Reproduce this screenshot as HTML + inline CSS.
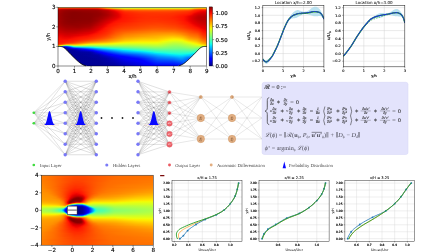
<!DOCTYPE html><html><head><meta charset="utf-8"><title>PINN turbulence figure</title><style>html,body{margin:0;padding:0;background:#fff;overflow:hidden}svg{display:block}</style></head><body><svg width="448" height="252" viewBox="0 0 448 252" text-rendering="geometricPrecision"><defs><linearGradient id="a0"><stop offset="0" stop-color="#ff9100"/><stop offset=".255" stop-color="#ff8d00"/><stop offset=".282" stop-color="#ff9800"/><stop offset=".329" stop-color="#ffea00"/><stop offset=".336" stop-color="#f8f500"/><stop offset=".342" stop-color="#ebff0c"/><stop offset=".383" stop-color="#aaff4d"/><stop offset=".396" stop-color="#9dff5a"/><stop offset=".436" stop-color="#97ff60"/><stop offset=".893" stop-color="#97ff60"/><stop offset=".906" stop-color="#9dff5a"/><stop offset=".919" stop-color="#adff49"/><stop offset=".94" stop-color="#e1ff16"/><stop offset=".953" stop-color="#f1fc06"/><stop offset="1" stop-color="#f4f802"/></linearGradient><linearGradient id="a1"><stop offset="0" stop-color="#f10800"/><stop offset=".02" stop-color="#e80000"/><stop offset=".087" stop-color="#da0000"/><stop offset=".235" stop-color="#df0000"/><stop offset=".268" stop-color="#e80000"/><stop offset=".289" stop-color="#ff1300"/><stop offset=".329" stop-color="#ff5900"/><stop offset=".376" stop-color="#ff9c00"/><stop offset=".43" stop-color="#ffd000"/><stop offset=".45" stop-color="#ffdb00"/><stop offset=".879" stop-color="#ffdb00"/><stop offset=".899" stop-color="#ffc800"/><stop offset=".919" stop-color="#ffa700"/><stop offset=".94" stop-color="#ff9100"/><stop offset=".953" stop-color="#ff8900"/><stop offset="1" stop-color="#ff8900"/></linearGradient><linearGradient id="a2"><stop offset="0" stop-color="#bb0000"/><stop offset=".034" stop-color="#a80000"/><stop offset=".081" stop-color="#9f0000"/><stop offset=".235" stop-color="#a40000"/><stop offset=".275" stop-color="#ad0000"/><stop offset=".342" stop-color="#e80000"/><stop offset=".362" stop-color="#ff1600"/><stop offset=".45" stop-color="#ff7300"/><stop offset=".611" stop-color="#ff7e00"/><stop offset=".872" stop-color="#ff7700"/><stop offset=".893" stop-color="#ff6800"/><stop offset=".919" stop-color="#ff3f00"/><stop offset=".933" stop-color="#ff3400"/><stop offset=".96" stop-color="#ff2900"/><stop offset="1" stop-color="#ff2500"/></linearGradient><linearGradient id="a3"><stop offset="0" stop-color="#b20000"/><stop offset=".02" stop-color="#a40000"/><stop offset=".067" stop-color="#960000"/><stop offset=".248" stop-color="#9b0000"/><stop offset=".275" stop-color="#9f0000"/><stop offset=".336" stop-color="#bf0000"/><stop offset=".376" stop-color="#e80000"/><stop offset=".396" stop-color="#ff1300"/><stop offset=".436" stop-color="#ff3800"/><stop offset=".456" stop-color="#ff4300"/><stop offset=".55" stop-color="#ff5200"/><stop offset=".631" stop-color="#ff5500"/><stop offset=".779" stop-color="#ff5200"/><stop offset=".879" stop-color="#ff4300"/><stop offset=".913" stop-color="#ff2500"/><stop offset=".946" stop-color="#ff1300"/><stop offset=".953" stop-color="#fa0f00"/><stop offset="1" stop-color="#f10800"/></linearGradient><linearGradient id="a4"><stop offset="0" stop-color="#ad0000"/><stop offset=".04" stop-color="#960000"/><stop offset=".101" stop-color="#8d0000"/><stop offset=".262" stop-color="#960000"/><stop offset=".336" stop-color="#b60000"/><stop offset=".389" stop-color="#e80000"/><stop offset=".416" stop-color="#ff1300"/><stop offset=".45" stop-color="#ff2d00"/><stop offset=".55" stop-color="#ff3f00"/><stop offset=".611" stop-color="#ff4300"/><stop offset=".732" stop-color="#ff4300"/><stop offset=".832" stop-color="#ff3800"/><stop offset=".886" stop-color="#ff2d00"/><stop offset=".926" stop-color="#ff1300"/><stop offset=".966" stop-color="#e80000"/><stop offset="1" stop-color="#e80000"/></linearGradient><linearGradient id="a5"><stop offset="0" stop-color="#a80000"/><stop offset=".047" stop-color="#920000"/><stop offset=".114" stop-color="#890000"/><stop offset=".275" stop-color="#960000"/><stop offset=".342" stop-color="#b60000"/><stop offset=".396" stop-color="#e40000"/><stop offset=".423" stop-color="#ff1300"/><stop offset=".45" stop-color="#ff2200"/><stop offset=".544" stop-color="#ff3400"/><stop offset=".758" stop-color="#ff3800"/><stop offset=".866" stop-color="#ff2900"/><stop offset=".906" stop-color="#ff1600"/><stop offset=".94" stop-color="#e80000"/><stop offset=".973" stop-color="#da0000"/><stop offset="1" stop-color="#da0000"/></linearGradient><linearGradient id="a6"><stop offset="0" stop-color="#a40000"/><stop offset=".04" stop-color="#920000"/><stop offset=".094" stop-color="#890000"/><stop offset=".221" stop-color="#8d0000"/><stop offset=".282" stop-color="#960000"/><stop offset=".322" stop-color="#a80000"/><stop offset=".403" stop-color="#e40000"/><stop offset=".43" stop-color="#ff1300"/><stop offset=".45" stop-color="#ff1e00"/><stop offset=".557" stop-color="#ff3000"/><stop offset=".698" stop-color="#ff3400"/><stop offset=".799" stop-color="#ff2d00"/><stop offset=".866" stop-color="#ff2200"/><stop offset=".899" stop-color="#ff1300"/><stop offset=".919" stop-color="#e80000"/><stop offset=".933" stop-color="#df0000"/><stop offset=".966" stop-color="#d10000"/><stop offset="1" stop-color="#d10000"/></linearGradient><linearGradient id="a7"><stop offset="0" stop-color="#a40000"/><stop offset=".04" stop-color="#920000"/><stop offset=".094" stop-color="#890000"/><stop offset=".221" stop-color="#8d0000"/><stop offset=".282" stop-color="#960000"/><stop offset=".336" stop-color="#ad0000"/><stop offset=".409" stop-color="#e80000"/><stop offset=".436" stop-color="#ff1300"/><stop offset=".483" stop-color="#ff2200"/><stop offset=".611" stop-color="#ff3000"/><stop offset=".772" stop-color="#ff2d00"/><stop offset=".886" stop-color="#ff1300"/><stop offset=".913" stop-color="#e40000"/><stop offset=".946" stop-color="#cd0000"/><stop offset="1" stop-color="#c40000"/></linearGradient><linearGradient id="a8"><stop offset="0" stop-color="#a40000"/><stop offset=".034" stop-color="#920000"/><stop offset=".094" stop-color="#890000"/><stop offset=".221" stop-color="#8d0000"/><stop offset=".275" stop-color="#960000"/><stop offset=".322" stop-color="#a80000"/><stop offset=".396" stop-color="#da0000"/><stop offset=".409" stop-color="#e80000"/><stop offset=".436" stop-color="#ff1300"/><stop offset=".537" stop-color="#ff2900"/><stop offset=".651" stop-color="#ff3000"/><stop offset=".772" stop-color="#ff2900"/><stop offset=".859" stop-color="#ff1300"/><stop offset=".899" stop-color="#e80000"/><stop offset=".946" stop-color="#c40000"/><stop offset="1" stop-color="#bf0000"/></linearGradient><linearGradient id="a9"><stop offset="0" stop-color="#a40000"/><stop offset=".054" stop-color="#8d0000"/><stop offset=".094" stop-color="#890000"/><stop offset=".221" stop-color="#8d0000"/><stop offset=".268" stop-color="#960000"/><stop offset=".329" stop-color="#b20000"/><stop offset=".409" stop-color="#e80000"/><stop offset=".436" stop-color="#ff1300"/><stop offset=".477" stop-color="#ff1e00"/><stop offset=".591" stop-color="#ff2d00"/><stop offset=".752" stop-color="#ff2900"/><stop offset=".846" stop-color="#ff1300"/><stop offset=".886" stop-color="#e80000"/><stop offset=".946" stop-color="#bf0000"/><stop offset="1" stop-color="#bb0000"/></linearGradient><linearGradient id="a10"><stop offset="0" stop-color="#a40000"/><stop offset=".04" stop-color="#920000"/><stop offset=".094" stop-color="#890000"/><stop offset=".221" stop-color="#8d0000"/><stop offset=".295" stop-color="#a40000"/><stop offset=".403" stop-color="#e80000"/><stop offset=".436" stop-color="#ff1300"/><stop offset=".591" stop-color="#ff2d00"/><stop offset=".745" stop-color="#ff2900"/><stop offset=".846" stop-color="#ff1300"/><stop offset=".886" stop-color="#e80000"/><stop offset=".933" stop-color="#c40000"/><stop offset=".953" stop-color="#bb0000"/><stop offset="1" stop-color="#b60000"/></linearGradient><linearGradient id="a11"><stop offset="0" stop-color="#a40000"/><stop offset=".04" stop-color="#920000"/><stop offset=".094" stop-color="#890000"/><stop offset=".221" stop-color="#8d0000"/><stop offset=".295" stop-color="#a80000"/><stop offset=".389" stop-color="#e80000"/><stop offset=".43" stop-color="#ff1300"/><stop offset=".544" stop-color="#ff2900"/><stop offset=".664" stop-color="#ff3000"/><stop offset=".799" stop-color="#ff2200"/><stop offset=".846" stop-color="#ff1300"/><stop offset=".886" stop-color="#e80000"/><stop offset=".926" stop-color="#c80000"/><stop offset=".946" stop-color="#bf0000"/><stop offset="1" stop-color="#bb0000"/></linearGradient><linearGradient id="a12"><stop offset="0" stop-color="#a40000"/><stop offset=".06" stop-color="#8d0000"/><stop offset=".215" stop-color="#8d0000"/><stop offset=".268" stop-color="#9f0000"/><stop offset=".376" stop-color="#e80000"/><stop offset=".423" stop-color="#ff1300"/><stop offset=".557" stop-color="#ff2d00"/><stop offset=".624" stop-color="#ff3000"/><stop offset=".772" stop-color="#ff2900"/><stop offset=".846" stop-color="#ff1300"/><stop offset=".886" stop-color="#e80000"/><stop offset=".94" stop-color="#c40000"/><stop offset=".966" stop-color="#bb0000"/><stop offset="1" stop-color="#bb0000"/></linearGradient><linearGradient id="a13"><stop offset="0" stop-color="#a80000"/><stop offset=".047" stop-color="#920000"/><stop offset=".107" stop-color="#890000"/><stop offset=".228" stop-color="#920000"/><stop offset=".262" stop-color="#9f0000"/><stop offset=".362" stop-color="#e80000"/><stop offset=".403" stop-color="#ff1300"/><stop offset=".544" stop-color="#ff2d00"/><stop offset=".651" stop-color="#ff3400"/><stop offset=".785" stop-color="#ff2900"/><stop offset=".852" stop-color="#ff1300"/><stop offset=".893" stop-color="#e80000"/><stop offset=".94" stop-color="#c80000"/><stop offset=".966" stop-color="#bf0000"/><stop offset="1" stop-color="#bf0000"/></linearGradient><linearGradient id="a14"><stop offset="0" stop-color="#a80000"/><stop offset=".034" stop-color="#960000"/><stop offset=".074" stop-color="#8d0000"/><stop offset=".221" stop-color="#920000"/><stop offset=".268" stop-color="#a80000"/><stop offset=".349" stop-color="#e80000"/><stop offset=".389" stop-color="#ff1300"/><stop offset=".591" stop-color="#ff3400"/><stop offset=".711" stop-color="#ff3400"/><stop offset=".779" stop-color="#ff2d00"/><stop offset=".826" stop-color="#ff2200"/><stop offset=".859" stop-color="#ff1300"/><stop offset=".899" stop-color="#e80000"/><stop offset=".94" stop-color="#cd0000"/><stop offset="1" stop-color="#bf0000"/></linearGradient><linearGradient id="a15"><stop offset="0" stop-color="#a80000"/><stop offset=".04" stop-color="#960000"/><stop offset=".094" stop-color="#8d0000"/><stop offset=".221" stop-color="#960000"/><stop offset=".255" stop-color="#a80000"/><stop offset=".342" stop-color="#e80000"/><stop offset=".376" stop-color="#ff1300"/><stop offset=".43" stop-color="#ff2200"/><stop offset=".55" stop-color="#ff3400"/><stop offset=".664" stop-color="#ff3b00"/><stop offset=".799" stop-color="#ff2d00"/><stop offset=".872" stop-color="#ff1300"/><stop offset=".906" stop-color="#e80000"/><stop offset=".953" stop-color="#cd0000"/><stop offset="1" stop-color="#c40000"/></linearGradient><linearGradient id="a16"><stop offset="0" stop-color="#a80000"/><stop offset=".047" stop-color="#960000"/><stop offset=".081" stop-color="#920000"/><stop offset=".201" stop-color="#960000"/><stop offset=".248" stop-color="#a80000"/><stop offset=".329" stop-color="#e80000"/><stop offset=".362" stop-color="#ff1300"/><stop offset=".403" stop-color="#ff2200"/><stop offset=".55" stop-color="#ff3800"/><stop offset=".678" stop-color="#ff3f00"/><stop offset=".785" stop-color="#ff3400"/><stop offset=".879" stop-color="#ff1300"/><stop offset=".913" stop-color="#e80000"/><stop offset=".96" stop-color="#d10000"/><stop offset="1" stop-color="#c80000"/></linearGradient><linearGradient id="a17"><stop offset="0" stop-color="#ad0000"/><stop offset=".04" stop-color="#9b0000"/><stop offset=".101" stop-color="#920000"/><stop offset=".221" stop-color="#9f0000"/><stop offset=".295" stop-color="#d10000"/><stop offset=".315" stop-color="#e40000"/><stop offset=".349" stop-color="#ff1300"/><stop offset=".443" stop-color="#ff2d00"/><stop offset=".591" stop-color="#ff3f00"/><stop offset=".685" stop-color="#ff4300"/><stop offset=".805" stop-color="#ff3400"/><stop offset=".893" stop-color="#ff1300"/><stop offset=".926" stop-color="#e80000"/><stop offset=".973" stop-color="#d10000"/><stop offset="1" stop-color="#cd0000"/></linearGradient><linearGradient id="a18"><stop offset="0" stop-color="#b20000"/><stop offset=".034" stop-color="#9f0000"/><stop offset=".128" stop-color="#960000"/><stop offset=".221" stop-color="#a40000"/><stop offset=".275" stop-color="#c80000"/><stop offset=".309" stop-color="#e80000"/><stop offset=".342" stop-color="#ff1300"/><stop offset=".416" stop-color="#ff2d00"/><stop offset=".624" stop-color="#ff4700"/><stop offset=".705" stop-color="#ff4700"/><stop offset=".779" stop-color="#ff3f00"/><stop offset=".846" stop-color="#ff2d00"/><stop offset=".899" stop-color="#ff1300"/><stop offset=".94" stop-color="#e80000"/><stop offset=".966" stop-color="#da0000"/><stop offset="1" stop-color="#d60000"/></linearGradient><linearGradient id="a19"><stop offset="0" stop-color="#b20000"/><stop offset=".054" stop-color="#9f0000"/><stop offset=".134" stop-color="#9b0000"/><stop offset=".215" stop-color="#a80000"/><stop offset=".302" stop-color="#e80000"/><stop offset=".336" stop-color="#ff1300"/><stop offset=".383" stop-color="#ff2900"/><stop offset=".45" stop-color="#ff3800"/><stop offset=".651" stop-color="#ff4e00"/><stop offset=".785" stop-color="#ff4300"/><stop offset=".839" stop-color="#ff3400"/><stop offset=".913" stop-color="#ff1300"/><stop offset=".953" stop-color="#e80000"/><stop offset="1" stop-color="#da0000"/></linearGradient><linearGradient id="a20"><stop offset="0" stop-color="#b60000"/><stop offset=".054" stop-color="#a40000"/><stop offset=".134" stop-color="#9f0000"/><stop offset=".221" stop-color="#b20000"/><stop offset=".295" stop-color="#e80000"/><stop offset=".322" stop-color="#ff1300"/><stop offset=".369" stop-color="#ff2900"/><stop offset=".436" stop-color="#ff3b00"/><stop offset=".631" stop-color="#ff5200"/><stop offset=".711" stop-color="#ff5200"/><stop offset=".799" stop-color="#ff4700"/><stop offset=".933" stop-color="#ff1300"/><stop offset=".966" stop-color="#e80000"/><stop offset="1" stop-color="#df0000"/></linearGradient><linearGradient id="a21"><stop offset="0" stop-color="#bb0000"/><stop offset=".06" stop-color="#a80000"/><stop offset=".148" stop-color="#a80000"/><stop offset=".174" stop-color="#b20000"/><stop offset=".215" stop-color="#b60000"/><stop offset=".282" stop-color="#e80000"/><stop offset=".315" stop-color="#ff1300"/><stop offset=".383" stop-color="#ff3400"/><stop offset=".423" stop-color="#ff3f00"/><stop offset=".664" stop-color="#ff5d00"/><stop offset=".785" stop-color="#ff5200"/><stop offset=".839" stop-color="#ff4300"/><stop offset=".946" stop-color="#ff1300"/><stop offset=".98" stop-color="#e80000"/><stop offset="1" stop-color="#e40000"/></linearGradient><linearGradient id="a22"><stop offset="0" stop-color="#c40000"/><stop offset=".027" stop-color="#b60000"/><stop offset=".067" stop-color="#ad0000"/><stop offset=".128" stop-color="#ad0000"/><stop offset=".221" stop-color="#c40000"/><stop offset=".275" stop-color="#e80000"/><stop offset=".309" stop-color="#ff1300"/><stop offset=".396" stop-color="#ff3f00"/><stop offset=".423" stop-color="#ff4700"/><stop offset=".638" stop-color="#ff6400"/><stop offset=".785" stop-color="#ff5d00"/><stop offset=".846" stop-color="#ff4a00"/><stop offset=".94" stop-color="#ff2200"/><stop offset=".96" stop-color="#ff1300"/><stop offset=".987" stop-color="#ed0400"/><stop offset="1" stop-color="#ed0400"/></linearGradient><linearGradient id="a23"><stop offset="0" stop-color="#c80000"/><stop offset=".047" stop-color="#b60000"/><stop offset=".128" stop-color="#b60000"/><stop offset=".208" stop-color="#c80000"/><stop offset=".262" stop-color="#e80000"/><stop offset=".295" stop-color="#ff1300"/><stop offset=".389" stop-color="#ff4300"/><stop offset=".436" stop-color="#ff5200"/><stop offset=".644" stop-color="#ff6f00"/><stop offset=".779" stop-color="#ff6c00"/><stop offset=".839" stop-color="#ff5900"/><stop offset=".94" stop-color="#ff2d00"/><stop offset=".966" stop-color="#ff1600"/><stop offset=".973" stop-color="#fa0f00"/><stop offset="1" stop-color="#f10800"/></linearGradient><linearGradient id="a24"><stop offset="0" stop-color="#cd0000"/><stop offset=".06" stop-color="#bb0000"/><stop offset=".107" stop-color="#bb0000"/><stop offset=".208" stop-color="#d10000"/><stop offset=".248" stop-color="#e80000"/><stop offset=".282" stop-color="#ff1300"/><stop offset=".329" stop-color="#ff2500"/><stop offset=".383" stop-color="#ff4700"/><stop offset=".43" stop-color="#ff5900"/><stop offset=".523" stop-color="#ff6c00"/><stop offset=".638" stop-color="#ff7a00"/><stop offset=".792" stop-color="#ff7700"/><stop offset=".926" stop-color="#ff3f00"/><stop offset=".946" stop-color="#ff3400"/><stop offset=".973" stop-color="#ff1600"/><stop offset="1" stop-color="#fa0f00"/></linearGradient><linearGradient id="a25"><stop offset="0" stop-color="#d10000"/><stop offset=".047" stop-color="#c40000"/><stop offset=".114" stop-color="#c40000"/><stop offset=".235" stop-color="#e80000"/><stop offset=".275" stop-color="#ff1300"/><stop offset=".356" stop-color="#ff3b00"/><stop offset=".389" stop-color="#ff5200"/><stop offset=".443" stop-color="#ff6800"/><stop offset=".671" stop-color="#ff8900"/><stop offset=".772" stop-color="#ff8900"/><stop offset=".832" stop-color="#ff7700"/><stop offset=".893" stop-color="#ff5500"/><stop offset=".933" stop-color="#ff4700"/><stop offset=".946" stop-color="#ff3f00"/><stop offset=".98" stop-color="#ff1a00"/><stop offset="1" stop-color="#ff1600"/></linearGradient><linearGradient id="a26"><stop offset="0" stop-color="#da0000"/><stop offset=".067" stop-color="#c80000"/><stop offset=".074" stop-color="#cd0000"/><stop offset=".114" stop-color="#cd0000"/><stop offset=".215" stop-color="#e80000"/><stop offset=".255" stop-color="#ff1300"/><stop offset=".329" stop-color="#ff3000"/><stop offset=".396" stop-color="#ff5d00"/><stop offset=".463" stop-color="#ff7700"/><stop offset=".638" stop-color="#ff9100"/><stop offset=".765" stop-color="#ff9800"/><stop offset=".812" stop-color="#ff8d00"/><stop offset=".859" stop-color="#ff7700"/><stop offset=".886" stop-color="#ff6400"/><stop offset=".94" stop-color="#ff5200"/><stop offset=".973" stop-color="#ff2900"/><stop offset="1" stop-color="#ff1e00"/></linearGradient><linearGradient id="a27"><stop offset="0" stop-color="#e40000"/><stop offset=".054" stop-color="#d10000"/><stop offset=".074" stop-color="#d10000"/><stop offset=".195" stop-color="#ed0400"/><stop offset=".235" stop-color="#ff1300"/><stop offset=".322" stop-color="#ff3400"/><stop offset=".383" stop-color="#ff5d00"/><stop offset=".45" stop-color="#ff7e00"/><stop offset=".557" stop-color="#ff9100"/><stop offset=".725" stop-color="#ffa300"/><stop offset=".785" stop-color="#ffa300"/><stop offset=".819" stop-color="#ff9800"/><stop offset=".886" stop-color="#ff6f00"/><stop offset=".94" stop-color="#ff5d00"/><stop offset=".973" stop-color="#ff3000"/><stop offset="1" stop-color="#ff2500"/></linearGradient><linearGradient id="a28"><stop offset="0" stop-color="#e80000"/><stop offset=".02" stop-color="#e80000"/><stop offset=".047" stop-color="#da0000"/><stop offset=".081" stop-color="#da0000"/><stop offset=".141" stop-color="#e80000"/><stop offset=".208" stop-color="#fa0f00"/><stop offset=".215" stop-color="#ff1300"/><stop offset=".322" stop-color="#ff3b00"/><stop offset=".369" stop-color="#ff5d00"/><stop offset=".443" stop-color="#ff8600"/><stop offset=".564" stop-color="#ff9c00"/><stop offset=".745" stop-color="#ffb200"/><stop offset=".785" stop-color="#ffb200"/><stop offset=".826" stop-color="#ffa700"/><stop offset=".886" stop-color="#ff7a00"/><stop offset=".94" stop-color="#ff6800"/><stop offset=".98" stop-color="#ff3400"/><stop offset="1" stop-color="#ff3000"/></linearGradient><linearGradient id="a29"><stop offset="0" stop-color="#f10800"/><stop offset=".047" stop-color="#e40000"/><stop offset=".081" stop-color="#e40000"/><stop offset=".181" stop-color="#ff1300"/><stop offset=".208" stop-color="#ff1600"/><stop offset=".302" stop-color="#ff3b00"/><stop offset=".349" stop-color="#ff5500"/><stop offset=".376" stop-color="#ff6c00"/><stop offset=".45" stop-color="#ff9100"/><stop offset=".772" stop-color="#ffc400"/><stop offset=".826" stop-color="#ffb600"/><stop offset=".846" stop-color="#ffab00"/><stop offset=".893" stop-color="#ff8200"/><stop offset=".94" stop-color="#ff7300"/><stop offset=".98" stop-color="#ff3f00"/><stop offset="1" stop-color="#ff3800"/></linearGradient><linearGradient id="a30"><stop offset="0" stop-color="#f60b00"/><stop offset=".04" stop-color="#ed0400"/><stop offset=".081" stop-color="#ed0400"/><stop offset=".141" stop-color="#ff1300"/><stop offset=".188" stop-color="#ff1a00"/><stop offset=".282" stop-color="#ff3b00"/><stop offset=".356" stop-color="#ff6400"/><stop offset=".403" stop-color="#ff8600"/><stop offset=".45" stop-color="#ff9c00"/><stop offset=".557" stop-color="#ffb200"/><stop offset=".658" stop-color="#ffb900"/><stop offset=".765" stop-color="#ffd300"/><stop offset=".805" stop-color="#ffd000"/><stop offset=".839" stop-color="#ffc100"/><stop offset=".879" stop-color="#ff9800"/><stop offset=".94" stop-color="#ff7e00"/><stop offset=".98" stop-color="#ff4a00"/><stop offset="1" stop-color="#ff4300"/></linearGradient><linearGradient id="a31"><stop offset="0" stop-color="#fa0f00"/><stop offset=".047" stop-color="#f10800"/><stop offset=".081" stop-color="#f60b00"/><stop offset=".114" stop-color="#ff1300"/><stop offset=".195" stop-color="#ff2500"/><stop offset=".248" stop-color="#ff3800"/><stop offset=".315" stop-color="#ff5900"/><stop offset=".383" stop-color="#ff8600"/><stop offset=".456" stop-color="#ffab00"/><stop offset=".577" stop-color="#ffc100"/><stop offset=".658" stop-color="#ffc400"/><stop offset=".779" stop-color="#ffe600"/><stop offset=".819" stop-color="#ffde00"/><stop offset=".839" stop-color="#ffd300"/><stop offset=".886" stop-color="#ffa300"/><stop offset=".94" stop-color="#ff8d00"/><stop offset=".953" stop-color="#ff7e00"/><stop offset=".973" stop-color="#ff5d00"/><stop offset="1" stop-color="#ff4e00"/></linearGradient><linearGradient id="a32"><stop offset="0" stop-color="#fa0f00"/><stop offset=".067" stop-color="#fa0f00"/><stop offset=".074" stop-color="#ff1300"/><stop offset=".107" stop-color="#ff1600"/><stop offset=".195" stop-color="#ff3000"/><stop offset=".295" stop-color="#ff6000"/><stop offset=".376" stop-color="#ff9100"/><stop offset=".45" stop-color="#ffb600"/><stop offset=".557" stop-color="#ffcc00"/><stop offset=".671" stop-color="#ffd300"/><stop offset=".738" stop-color="#ffea00"/><stop offset=".772" stop-color="#f8f500"/><stop offset=".832" stop-color="#feed00"/><stop offset=".886" stop-color="#ffb600"/><stop offset=".94" stop-color="#ff9c00"/><stop offset=".987" stop-color="#ff6000"/><stop offset="1" stop-color="#ff5900"/></linearGradient><linearGradient id="a33"><stop offset="0" stop-color="#ff1300"/><stop offset=".067" stop-color="#ff1600"/><stop offset=".134" stop-color="#ff2900"/><stop offset=".322" stop-color="#ff8200"/><stop offset=".45" stop-color="#ffc800"/><stop offset=".55" stop-color="#ffdb00"/><stop offset=".664" stop-color="#ffde00"/><stop offset=".705" stop-color="#feed00"/><stop offset=".738" stop-color="#f4f802"/><stop offset=".752" stop-color="#eeff09"/><stop offset=".799" stop-color="#e7ff0f"/><stop offset=".839" stop-color="#f1fc06"/><stop offset=".852" stop-color="#feed00"/><stop offset=".886" stop-color="#ffcc00"/><stop offset=".933" stop-color="#ffb200"/><stop offset=".973" stop-color="#ff7e00"/><stop offset="1" stop-color="#ff6800"/></linearGradient><linearGradient id="a34"><stop offset="0" stop-color="#ff1600"/><stop offset=".034" stop-color="#ff1600"/><stop offset=".101" stop-color="#ff2900"/><stop offset=".255" stop-color="#ff8200"/><stop offset=".329" stop-color="#ff9f00"/><stop offset=".443" stop-color="#ffdb00"/><stop offset=".537" stop-color="#ffea00"/><stop offset=".671" stop-color="#feed00"/><stop offset=".691" stop-color="#f8f500"/><stop offset=".711" stop-color="#eeff09"/><stop offset=".765" stop-color="#dbff1c"/><stop offset=".792" stop-color="#d7ff1f"/><stop offset=".832" stop-color="#deff19"/><stop offset=".859" stop-color="#f1fc06"/><stop offset=".879" stop-color="#ffea00"/><stop offset=".933" stop-color="#ffc400"/><stop offset=".98" stop-color="#ff8900"/><stop offset="1" stop-color="#ff7a00"/></linearGradient><linearGradient id="a35"><stop offset="0" stop-color="#ff1a00"/><stop offset=".034" stop-color="#ff1e00"/><stop offset=".101" stop-color="#ff3b00"/><stop offset=".228" stop-color="#ff9c00"/><stop offset=".329" stop-color="#ffc100"/><stop offset=".423" stop-color="#feed00"/><stop offset=".477" stop-color="#f4f802"/><stop offset=".671" stop-color="#f1fc06"/><stop offset=".779" stop-color="#c7ff30"/><stop offset=".826" stop-color="#ceff29"/><stop offset=".879" stop-color="#ebff0c"/><stop offset=".906" stop-color="#feed00"/><stop offset=".94" stop-color="#ffd300"/><stop offset=".973" stop-color="#ffa300"/><stop offset="1" stop-color="#ff8900"/></linearGradient><linearGradient id="a36"><stop offset="0" stop-color="#ff2500"/><stop offset=".013" stop-color="#ff2500"/><stop offset=".034" stop-color="#ff3000"/><stop offset=".06" stop-color="#ff4a00"/><stop offset=".121" stop-color="#ff7300"/><stop offset=".174" stop-color="#ffa700"/><stop offset=".228" stop-color="#ffd000"/><stop offset=".336" stop-color="#feed00"/><stop offset=".369" stop-color="#f4f802"/><stop offset=".383" stop-color="#eeff09"/><stop offset=".443" stop-color="#e1ff16"/><stop offset=".503" stop-color="#deff19"/><stop offset=".664" stop-color="#e4ff13"/><stop offset=".779" stop-color="#b7ff40"/><stop offset=".826" stop-color="#beff39"/><stop offset=".913" stop-color="#eeff09"/><stop offset=".919" stop-color="#f4f802"/><stop offset=".933" stop-color="#feed00"/><stop offset=".973" stop-color="#ffb900"/><stop offset="1" stop-color="#ff9f00"/></linearGradient><linearGradient id="a37"><stop offset="0" stop-color="#ff3f00"/><stop offset=".027" stop-color="#ff5d00"/><stop offset=".054" stop-color="#ffab00"/><stop offset=".06" stop-color="#ffb600"/><stop offset=".114" stop-color="#ffb600"/><stop offset=".181" stop-color="#feed00"/><stop offset=".201" stop-color="#eeff09"/><stop offset=".235" stop-color="#deff19"/><stop offset=".322" stop-color="#dbff1c"/><stop offset=".436" stop-color="#c7ff30"/><stop offset=".55" stop-color="#c7ff30"/><stop offset=".671" stop-color="#d1ff26"/><stop offset=".758" stop-color="#adff49"/><stop offset=".799" stop-color="#aaff4d"/><stop offset=".832" stop-color="#b1ff46"/><stop offset=".886" stop-color="#caff2c"/><stop offset=".94" stop-color="#eeff09"/><stop offset=".946" stop-color="#f4f802"/><stop offset=".96" stop-color="#ffea00"/><stop offset=".966" stop-color="#ffde00"/><stop offset="1" stop-color="#ffbd00"/></linearGradient><linearGradient id="a38"><stop offset="0" stop-color="#ffab00"/><stop offset=".013" stop-color="#ffdb00"/><stop offset=".02" stop-color="#f4f802"/><stop offset=".027" stop-color="#d7ff1f"/><stop offset=".047" stop-color="#80ff77"/><stop offset=".054" stop-color="#6dff8a"/><stop offset=".06" stop-color="#66ff90"/><stop offset=".067" stop-color="#6dff8a"/><stop offset=".107" stop-color="#c1ff36"/><stop offset=".114" stop-color="#c7ff30"/><stop offset=".148" stop-color="#c1ff36"/><stop offset=".215" stop-color="#a7ff50"/><stop offset=".289" stop-color="#adff49"/><stop offset=".47" stop-color="#aaff4d"/><stop offset=".671" stop-color="#beff39"/><stop offset=".785" stop-color="#9aff5d"/><stop offset=".846" stop-color="#a7ff50"/><stop offset=".946" stop-color="#d7ff1f"/><stop offset=".98" stop-color="#eeff09"/><stop offset=".987" stop-color="#f4f802"/><stop offset="1" stop-color="#feed00"/></linearGradient><linearGradient id="a39"><stop offset="0" stop-color="#7aff7d"/><stop offset=".007" stop-color="#49ffad"/><stop offset=".013" stop-color="#06ecf1"/><stop offset=".02" stop-color="#0098ff"/><stop offset=".027" stop-color="#0054ff"/><stop offset=".034" stop-color="#002cff"/><stop offset=".04" stop-color="#0018ff"/><stop offset=".047" stop-color="#0014ff"/><stop offset=".06" stop-color="#002cff"/><stop offset=".074" stop-color="#006cff"/><stop offset=".094" stop-color="#00d8ff"/><stop offset=".101" stop-color="#13fce4"/><stop offset=".107" stop-color="#29ffce"/><stop offset=".114" stop-color="#39ffbe"/><stop offset=".134" stop-color="#46ffb1"/><stop offset=".221" stop-color="#56ffa0"/><stop offset=".282" stop-color="#70ff87"/><stop offset=".376" stop-color="#83ff73"/><stop offset=".564" stop-color="#97ff60"/><stop offset=".644" stop-color="#a7ff50"/><stop offset=".685" stop-color="#a7ff50"/><stop offset=".765" stop-color="#90ff66"/><stop offset=".812" stop-color="#90ff66"/><stop offset=".852" stop-color="#9aff5d"/><stop offset=".919" stop-color="#b7ff40"/><stop offset=".94" stop-color="#b7ff40"/><stop offset=".966" stop-color="#adff49"/><stop offset="1" stop-color="#c4ff33"/></linearGradient><linearGradient id="a40"><stop offset="0" stop-color="#50ffa7"/><stop offset=".007" stop-color="#13fce4"/><stop offset=".013" stop-color="#0098ff"/><stop offset=".02" stop-color="#0034ff"/><stop offset=".027" stop-color="#0000f6"/><stop offset=".034" stop-color="#0000bf"/><stop offset=".04" stop-color="#0000ad"/><stop offset=".047" stop-color="#0000ad"/><stop offset=".054" stop-color="#0000b6"/><stop offset=".067" stop-color="#0000df"/><stop offset=".074" stop-color="#0000ff"/><stop offset=".081" stop-color="#0008ff"/><stop offset=".107" stop-color="#0070ff"/><stop offset=".121" stop-color="#008cff"/><stop offset=".221" stop-color="#00dcfe"/><stop offset=".235" stop-color="#02e8f4"/><stop offset=".248" stop-color="#0ff8e7"/><stop offset=".262" stop-color="#19ffde"/><stop offset=".289" stop-color="#2cffca"/><stop offset=".383" stop-color="#56ffa0"/><stop offset=".47" stop-color="#6dff8a"/><stop offset=".651" stop-color="#90ff66"/><stop offset=".691" stop-color="#90ff66"/><stop offset=".765" stop-color="#83ff73"/><stop offset=".826" stop-color="#83ff73"/><stop offset=".899" stop-color="#9dff5a"/><stop offset=".926" stop-color="#9dff5a"/><stop offset=".96" stop-color="#8dff6a"/><stop offset=".973" stop-color="#8dff6a"/><stop offset="1" stop-color="#aaff4d"/></linearGradient><linearGradient id="a41"><stop offset="0" stop-color="#4dffaa"/><stop offset=".007" stop-color="#0ff8e7"/><stop offset=".013" stop-color="#0094ff"/><stop offset=".02" stop-color="#0030ff"/><stop offset=".027" stop-color="#0000ed"/><stop offset=".034" stop-color="#0000bb"/><stop offset=".04" stop-color="#0000a4"/><stop offset=".047" stop-color="#00009f"/><stop offset=".054" stop-color="#00009f"/><stop offset=".067" stop-color="#0000b2"/><stop offset=".107" stop-color="#0000ff"/><stop offset=".121" stop-color="#0000ff"/><stop offset=".302" stop-color="#00d8ff"/><stop offset=".322" stop-color="#02e8f4"/><stop offset=".356" stop-color="#16ffe1"/><stop offset=".443" stop-color="#40ffb7"/><stop offset=".658" stop-color="#7aff7d"/><stop offset=".839" stop-color="#77ff80"/><stop offset=".906" stop-color="#8aff6d"/><stop offset=".946" stop-color="#73ff83"/><stop offset="1" stop-color="#a7ff50"/></linearGradient><linearGradient id="a42"><stop offset="0" stop-color="#4dffaa"/><stop offset=".007" stop-color="#0ff8e7"/><stop offset=".013" stop-color="#0094ff"/><stop offset=".02" stop-color="#0030ff"/><stop offset=".027" stop-color="#0000ed"/><stop offset=".034" stop-color="#0000b6"/><stop offset=".04" stop-color="#00009f"/><stop offset=".06" stop-color="#00009b"/><stop offset=".087" stop-color="#0000a4"/><stop offset=".114" stop-color="#0000b6"/><stop offset=".168" stop-color="#0000fa"/><stop offset=".188" stop-color="#0000ff"/><stop offset=".228" stop-color="#0030ff"/><stop offset=".268" stop-color="#0070ff"/><stop offset=".289" stop-color="#0088ff"/><stop offset=".349" stop-color="#00c0ff"/><stop offset=".383" stop-color="#00d8ff"/><stop offset=".403" stop-color="#02e8f4"/><stop offset=".436" stop-color="#16ffe1"/><stop offset=".671" stop-color="#63ff94"/><stop offset=".846" stop-color="#66ff90"/><stop offset=".906" stop-color="#73ff83"/><stop offset=".94" stop-color="#5dff9a"/><stop offset=".953" stop-color="#70ff87"/><stop offset=".966" stop-color="#9dff5a"/><stop offset=".98" stop-color="#baff3c"/><stop offset="1" stop-color="#c7ff30"/></linearGradient><linearGradient id="a43"><stop offset="0" stop-color="#4dffaa"/><stop offset=".007" stop-color="#0cf4eb"/><stop offset=".013" stop-color="#008cff"/><stop offset=".02" stop-color="#0024ff"/><stop offset=".027" stop-color="#0000df"/><stop offset=".034" stop-color="#0000a8"/><stop offset=".04" stop-color="#000096"/><stop offset=".094" stop-color="#00009b"/><stop offset=".107" stop-color="#00009f"/><stop offset=".168" stop-color="#0000c8"/><stop offset=".208" stop-color="#0000e8"/><stop offset=".228" stop-color="#0000ff"/><stop offset=".235" stop-color="#0000ff"/><stop offset=".268" stop-color="#0034ff"/><stop offset=".309" stop-color="#0064ff"/><stop offset=".409" stop-color="#00c0ff"/><stop offset=".47" stop-color="#00e4f8"/><stop offset=".53" stop-color="#16ffe1"/><stop offset=".658" stop-color="#46ffb1"/><stop offset=".691" stop-color="#4dffaa"/><stop offset=".826" stop-color="#53ffa4"/><stop offset=".893" stop-color="#5dff9a"/><stop offset=".913" stop-color="#56ffa0"/><stop offset=".933" stop-color="#46ffb1"/><stop offset=".94" stop-color="#49ffad"/><stop offset=".946" stop-color="#60ff97"/><stop offset=".953" stop-color="#87ff70"/><stop offset=".966" stop-color="#ebff0c"/><stop offset=".973" stop-color="#ffde00"/><stop offset=".98" stop-color="#ffd000"/><stop offset="1" stop-color="#ffdb00"/></linearGradient><linearGradient id="a44"><stop offset="0" stop-color="#46ffb1"/><stop offset=".007" stop-color="#02e8f4"/><stop offset=".013" stop-color="#0078ff"/><stop offset=".02" stop-color="#000cff"/><stop offset=".027" stop-color="#0000c4"/><stop offset=".034" stop-color="#000096"/><stop offset=".04" stop-color="#000089"/><stop offset=".047" stop-color="#000089"/><stop offset=".067" stop-color="#000096"/><stop offset=".114" stop-color="#00009b"/><stop offset=".208" stop-color="#0000bb"/><stop offset=".221" stop-color="#0000c4"/><stop offset=".235" stop-color="#0000d6"/><stop offset=".248" stop-color="#0000f1"/><stop offset=".262" stop-color="#0000ff"/><stop offset=".329" stop-color="#004cff"/><stop offset=".43" stop-color="#00a8ff"/><stop offset=".47" stop-color="#00c0ff"/><stop offset=".537" stop-color="#00dcfe"/><stop offset=".557" stop-color="#00e4f8"/><stop offset=".611" stop-color="#16ffe1"/><stop offset=".671" stop-color="#30ffc7"/><stop offset=".772" stop-color="#43ffb4"/><stop offset=".879" stop-color="#46ffb1"/><stop offset=".933" stop-color="#33ffc4"/><stop offset=".94" stop-color="#43ffb4"/><stop offset=".946" stop-color="#70ff87"/><stop offset=".953" stop-color="#baff3c"/><stop offset=".96" stop-color="#ffd300"/><stop offset=".966" stop-color="#ff7700"/><stop offset=".973" stop-color="#ff3f00"/><stop offset=".98" stop-color="#ff3000"/><stop offset=".987" stop-color="#ff3800"/><stop offset="1" stop-color="#ff5900"/></linearGradient><linearGradient id="a45"><stop offset="0" stop-color="#40ffb7"/><stop offset=".007" stop-color="#00d4ff"/><stop offset=".013" stop-color="#0058ff"/><stop offset=".02" stop-color="#0000fa"/><stop offset=".027" stop-color="#0000ad"/><stop offset=".034" stop-color="#000089"/><stop offset=".04" stop-color="#000080"/><stop offset=".067" stop-color="#000096"/><stop offset=".215" stop-color="#0000a4"/><stop offset=".235" stop-color="#0000b6"/><stop offset=".282" stop-color="#0000ff"/><stop offset=".295" stop-color="#0000ff"/><stop offset=".336" stop-color="#002cff"/><stop offset=".443" stop-color="#008cff"/><stop offset=".557" stop-color="#00bcff"/><stop offset=".604" stop-color="#00d8ff"/><stop offset=".631" stop-color="#02e8f4"/><stop offset=".651" stop-color="#0ff8e7"/><stop offset=".671" stop-color="#16ffe1"/><stop offset=".772" stop-color="#30ffc7"/><stop offset=".812" stop-color="#33ffc4"/><stop offset=".872" stop-color="#30ffc7"/><stop offset=".919" stop-color="#19ffde"/><stop offset=".926" stop-color="#1cffdb"/><stop offset=".933" stop-color="#26ffd1"/><stop offset=".94" stop-color="#49ffad"/><stop offset=".946" stop-color="#97ff60"/><stop offset=".953" stop-color="#ffe200"/><stop offset=".96" stop-color="#ff5d00"/><stop offset=".966" stop-color="#e40000"/><stop offset=".973" stop-color="#ad0000"/><stop offset=".98" stop-color="#9b0000"/><stop offset=".987" stop-color="#9b0000"/><stop offset="1" stop-color="#ad0000"/></linearGradient><linearGradient id="a46"><stop offset="0" stop-color="#33ffc4"/><stop offset=".007" stop-color="#00b4ff"/><stop offset=".013" stop-color="#0030ff"/><stop offset=".02" stop-color="#0000d6"/><stop offset=".027" stop-color="#000096"/><stop offset=".034" stop-color="#000084"/><stop offset=".047" stop-color="#000080"/><stop offset=".074" stop-color="#000096"/><stop offset=".221" stop-color="#00009f"/><stop offset=".275" stop-color="#0000d1"/><stop offset=".309" stop-color="#0000fa"/><stop offset=".322" stop-color="#0000ff"/><stop offset=".43" stop-color="#005cff"/><stop offset=".477" stop-color="#0078ff"/><stop offset=".557" stop-color="#0098ff"/><stop offset=".651" stop-color="#00d8ff"/><stop offset=".691" stop-color="#02e8f4"/><stop offset=".752" stop-color="#16ffe1"/><stop offset=".799" stop-color="#1fffd7"/><stop offset=".846" stop-color="#1fffd7"/><stop offset=".879" stop-color="#16ffe1"/><stop offset=".893" stop-color="#0ff8e7"/><stop offset=".913" stop-color="#00e0fb"/><stop offset=".919" stop-color="#00e4f8"/><stop offset=".926" stop-color="#0cf4eb"/><stop offset=".933" stop-color="#23ffd4"/><stop offset=".94" stop-color="#5dff9a"/><stop offset=".946" stop-color="#c7ff30"/><stop offset=".953" stop-color="#ff9100"/><stop offset=".96" stop-color="#fa0f00"/><stop offset=".966" stop-color="#a40000"/><stop offset=".973" stop-color="#840000"/><stop offset="1" stop-color="#800000"/></linearGradient><linearGradient id="a47"><stop offset="0" stop-color="#23ffd4"/><stop offset=".007" stop-color="#008cff"/><stop offset=".013" stop-color="#0008ff"/><stop offset=".02" stop-color="#0000b6"/><stop offset=".027" stop-color="#000089"/><stop offset=".034" stop-color="#000080"/><stop offset=".047" stop-color="#000080"/><stop offset=".074" stop-color="#000096"/><stop offset=".215" stop-color="#00009b"/><stop offset=".275" stop-color="#0000b6"/><stop offset=".336" stop-color="#0000ff"/><stop offset=".356" stop-color="#0000ff"/><stop offset=".43" stop-color="#0038ff"/><stop offset=".55" stop-color="#0074ff"/><stop offset=".685" stop-color="#00ccff"/><stop offset=".725" stop-color="#00d8ff"/><stop offset=".752" stop-color="#00e4f8"/><stop offset=".819" stop-color="#0ff8e7"/><stop offset=".872" stop-color="#02e8f4"/><stop offset=".893" stop-color="#00d8ff"/><stop offset=".906" stop-color="#00ccff"/><stop offset=".913" stop-color="#00ccff"/><stop offset=".919" stop-color="#00d8ff"/><stop offset=".926" stop-color="#09f0ee"/><stop offset=".933" stop-color="#33ffc4"/><stop offset=".94" stop-color="#80ff77"/><stop offset=".946" stop-color="#feed00"/><stop offset=".953" stop-color="#ff4e00"/><stop offset=".96" stop-color="#c40000"/><stop offset=".966" stop-color="#8d0000"/><stop offset=".973" stop-color="#800000"/><stop offset="1" stop-color="#800000"/></linearGradient><linearGradient id="a48"><stop offset="0" stop-color="#0ff8e7"/><stop offset=".007" stop-color="#006cff"/><stop offset=".013" stop-color="#0000f6"/><stop offset=".02" stop-color="#0000a4"/><stop offset=".027" stop-color="#000084"/><stop offset=".034" stop-color="#000080"/><stop offset=".047" stop-color="#000080"/><stop offset=".074" stop-color="#000096"/><stop offset=".168" stop-color="#000096"/><stop offset=".174" stop-color="#00009b"/><stop offset=".228" stop-color="#00009b"/><stop offset=".268" stop-color="#0000a4"/><stop offset=".289" stop-color="#0000b2"/><stop offset=".356" stop-color="#0000f6"/><stop offset=".369" stop-color="#0000ff"/><stop offset=".389" stop-color="#0000ff"/><stop offset=".577" stop-color="#0068ff"/><stop offset=".678" stop-color="#00acff"/><stop offset=".792" stop-color="#00d8ff"/><stop offset=".839" stop-color="#00e0fb"/><stop offset=".852" stop-color="#00d4ff"/><stop offset=".906" stop-color="#00b8ff"/><stop offset=".913" stop-color="#00c4ff"/><stop offset=".919" stop-color="#00dcfe"/><stop offset=".926" stop-color="#19ffde"/><stop offset=".933" stop-color="#53ffa4"/><stop offset=".94" stop-color="#adff49"/><stop offset=".946" stop-color="#ffb600"/><stop offset=".953" stop-color="#ff2500"/><stop offset=".96" stop-color="#ad0000"/><stop offset=".966" stop-color="#890000"/><stop offset=".973" stop-color="#800000"/><stop offset="1" stop-color="#800000"/></linearGradient><linearGradient id="a49"><stop offset="0" stop-color="#00e4f8"/><stop offset=".007" stop-color="#0050ff"/><stop offset=".013" stop-color="#0000da"/><stop offset=".02" stop-color="#000096"/><stop offset=".027" stop-color="#000080"/><stop offset=".047" stop-color="#000080"/><stop offset=".074" stop-color="#000096"/><stop offset=".195" stop-color="#000096"/><stop offset=".201" stop-color="#00009b"/><stop offset=".268" stop-color="#00009f"/><stop offset=".322" stop-color="#0000bf"/><stop offset=".403" stop-color="#0000ff"/><stop offset=".436" stop-color="#0000ff"/><stop offset=".577" stop-color="#004cff"/><stop offset=".671" stop-color="#0090ff"/><stop offset=".758" stop-color="#00acff"/><stop offset=".819" stop-color="#00c8ff"/><stop offset=".846" stop-color="#00c0ff"/><stop offset=".886" stop-color="#0098ff"/><stop offset=".899" stop-color="#00a4ff"/><stop offset=".913" stop-color="#00ccff"/><stop offset=".919" stop-color="#0ff8e7"/><stop offset=".926" stop-color="#40ffb7"/><stop offset=".933" stop-color="#8aff6d"/><stop offset=".94" stop-color="#f1fc06"/><stop offset=".946" stop-color="#ff6f00"/><stop offset=".953" stop-color="#e40000"/><stop offset=".96" stop-color="#9b0000"/><stop offset=".966" stop-color="#840000"/><stop offset="1" stop-color="#800000"/></linearGradient><linearGradient id="a50"><stop offset="0" stop-color="#00d0ff"/><stop offset=".007" stop-color="#0034ff"/><stop offset=".013" stop-color="#0000c8"/><stop offset=".02" stop-color="#00008d"/><stop offset=".027" stop-color="#000080"/><stop offset=".047" stop-color="#000080"/><stop offset=".074" stop-color="#000096"/><stop offset=".221" stop-color="#000096"/><stop offset=".228" stop-color="#00009b"/><stop offset=".282" stop-color="#00009f"/><stop offset=".329" stop-color="#0000b6"/><stop offset=".423" stop-color="#0000fa"/><stop offset=".47" stop-color="#0000ff"/><stop offset=".537" stop-color="#001cff"/><stop offset=".678" stop-color="#007cff"/><stop offset=".779" stop-color="#0098ff"/><stop offset=".819" stop-color="#00b0ff"/><stop offset=".839" stop-color="#00acff"/><stop offset=".879" stop-color="#0078ff"/><stop offset=".886" stop-color="#0078ff"/><stop offset=".899" stop-color="#00a0ff"/><stop offset=".906" stop-color="#00c4ff"/><stop offset=".913" stop-color="#0cf4eb"/><stop offset=".919" stop-color="#40ffb7"/><stop offset=".926" stop-color="#80ff77"/><stop offset=".933" stop-color="#d7ff1f"/><stop offset=".94" stop-color="#ffa300"/><stop offset=".946" stop-color="#ff2900"/><stop offset=".953" stop-color="#b20000"/><stop offset=".96" stop-color="#890000"/><stop offset=".966" stop-color="#800000"/><stop offset="1" stop-color="#800000"/></linearGradient><linearGradient id="a51"><stop offset="0" stop-color="#00ccff"/><stop offset=".007" stop-color="#0030ff"/><stop offset=".013" stop-color="#0000c4"/><stop offset=".02" stop-color="#00008d"/><stop offset=".027" stop-color="#000080"/><stop offset=".047" stop-color="#000080"/><stop offset=".067" stop-color="#000092"/><stop offset=".081" stop-color="#000096"/><stop offset=".235" stop-color="#000096"/><stop offset=".322" stop-color="#0000a8"/><stop offset=".423" stop-color="#0000ed"/><stop offset=".45" stop-color="#0000fa"/><stop offset=".51" stop-color="#0000ff"/><stop offset=".537" stop-color="#0008ff"/><stop offset=".577" stop-color="#0020ff"/><stop offset=".671" stop-color="#0068ff"/><stop offset=".779" stop-color="#0080ff"/><stop offset=".826" stop-color="#009cff"/><stop offset=".839" stop-color="#0098ff"/><stop offset=".879" stop-color="#0068ff"/><stop offset=".886" stop-color="#0070ff"/><stop offset=".893" stop-color="#008cff"/><stop offset=".899" stop-color="#00bcff"/><stop offset=".906" stop-color="#0ff8e7"/><stop offset=".913" stop-color="#49ffad"/><stop offset=".919" stop-color="#90ff66"/><stop offset=".926" stop-color="#e1ff16"/><stop offset=".933" stop-color="#ffab00"/><stop offset=".94" stop-color="#ff4300"/><stop offset=".946" stop-color="#d60000"/><stop offset=".953" stop-color="#960000"/><stop offset=".96" stop-color="#840000"/><stop offset="1" stop-color="#800000"/></linearGradient><linearGradient id="a52"><stop offset="0" stop-color="#00ccff"/><stop offset=".007" stop-color="#0030ff"/><stop offset=".013" stop-color="#0000c4"/><stop offset=".02" stop-color="#00008d"/><stop offset=".027" stop-color="#000080"/><stop offset=".047" stop-color="#000080"/><stop offset=".067" stop-color="#000092"/><stop offset=".081" stop-color="#000096"/><stop offset=".248" stop-color="#000096"/><stop offset=".322" stop-color="#0000a4"/><stop offset=".463" stop-color="#0000f6"/><stop offset=".49" stop-color="#0000ff"/><stop offset=".55" stop-color="#0000ff"/><stop offset=".664" stop-color="#0054ff"/><stop offset=".772" stop-color="#0068ff"/><stop offset=".826" stop-color="#0088ff"/><stop offset=".839" stop-color="#0084ff"/><stop offset=".872" stop-color="#0060ff"/><stop offset=".879" stop-color="#0064ff"/><stop offset=".886" stop-color="#0074ff"/><stop offset=".893" stop-color="#00a4ff"/><stop offset=".899" stop-color="#0cf4eb"/><stop offset=".906" stop-color="#5aff9d"/><stop offset=".913" stop-color="#adff49"/><stop offset=".919" stop-color="#ffe600"/><stop offset=".926" stop-color="#ff7e00"/><stop offset=".933" stop-color="#ff2500"/><stop offset=".94" stop-color="#c80000"/><stop offset=".946" stop-color="#960000"/><stop offset=".953" stop-color="#840000"/><stop offset="1" stop-color="#800000"/></linearGradient><linearGradient id="a53"><stop offset="0" stop-color="#00ccff"/><stop offset=".007" stop-color="#0030ff"/><stop offset=".013" stop-color="#0000c4"/><stop offset=".02" stop-color="#00008d"/><stop offset=".027" stop-color="#000080"/><stop offset=".047" stop-color="#000080"/><stop offset=".067" stop-color="#000092"/><stop offset=".087" stop-color="#000096"/><stop offset=".268" stop-color="#000096"/><stop offset=".342" stop-color="#0000a8"/><stop offset=".389" stop-color="#0000bf"/><stop offset=".443" stop-color="#0000e3"/><stop offset=".47" stop-color="#0000ed"/><stop offset=".53" stop-color="#0000ff"/><stop offset=".57" stop-color="#0000ff"/><stop offset=".671" stop-color="#0048ff"/><stop offset=".772" stop-color="#0054ff"/><stop offset=".832" stop-color="#0074ff"/><stop offset=".872" stop-color="#0060ff"/><stop offset=".879" stop-color="#0068ff"/><stop offset=".886" stop-color="#0088ff"/><stop offset=".893" stop-color="#00d4ff"/><stop offset=".899" stop-color="#50ffa7"/><stop offset=".906" stop-color="#beff39"/><stop offset=".913" stop-color="#ffb900"/><stop offset=".919" stop-color="#ff4a00"/><stop offset=".926" stop-color="#df0000"/><stop offset=".933" stop-color="#a40000"/><stop offset=".94" stop-color="#890000"/><stop offset=".946" stop-color="#800000"/><stop offset="1" stop-color="#800000"/></linearGradient><linearGradient id="a54"><stop offset="0" stop-color="#00ccff"/><stop offset=".007" stop-color="#0030ff"/><stop offset=".013" stop-color="#0000c4"/><stop offset=".02" stop-color="#00008d"/><stop offset=".027" stop-color="#000080"/><stop offset=".047" stop-color="#000080"/><stop offset=".067" stop-color="#000092"/><stop offset=".094" stop-color="#000096"/><stop offset=".282" stop-color="#000096"/><stop offset=".376" stop-color="#0000b2"/><stop offset=".456" stop-color="#0000df"/><stop offset=".557" stop-color="#0000ff"/><stop offset=".584" stop-color="#0000ff"/><stop offset=".658" stop-color="#0034ff"/><stop offset=".685" stop-color="#003cff"/><stop offset=".772" stop-color="#0040ff"/><stop offset=".832" stop-color="#0060ff"/><stop offset=".866" stop-color="#0064ff"/><stop offset=".872" stop-color="#0068ff"/><stop offset=".879" stop-color="#0078ff"/><stop offset=".886" stop-color="#00acff"/><stop offset=".893" stop-color="#2cffca"/><stop offset=".899" stop-color="#adff49"/><stop offset=".906" stop-color="#ffae00"/><stop offset=".913" stop-color="#ff3000"/><stop offset=".919" stop-color="#bf0000"/><stop offset=".926" stop-color="#920000"/><stop offset=".933" stop-color="#840000"/><stop offset="1" stop-color="#800000"/></linearGradient><linearGradient id="a55"><stop offset="0" stop-color="#00ccff"/><stop offset=".007" stop-color="#0030ff"/><stop offset=".013" stop-color="#0000c4"/><stop offset=".02" stop-color="#00008d"/><stop offset=".027" stop-color="#000080"/><stop offset=".047" stop-color="#000080"/><stop offset=".067" stop-color="#000092"/><stop offset=".101" stop-color="#000096"/><stop offset=".289" stop-color="#000096"/><stop offset=".362" stop-color="#0000a8"/><stop offset=".416" stop-color="#0000bf"/><stop offset=".443" stop-color="#0000d1"/><stop offset=".55" stop-color="#0000f1"/><stop offset=".57" stop-color="#0000ff"/><stop offset=".597" stop-color="#0000ff"/><stop offset=".671" stop-color="#002cff"/><stop offset=".779" stop-color="#0030ff"/><stop offset=".832" stop-color="#004cff"/><stop offset=".872" stop-color="#007cff"/><stop offset=".879" stop-color="#009cff"/><stop offset=".886" stop-color="#02e8f4"/><stop offset=".893" stop-color="#77ff80"/><stop offset=".899" stop-color="#ffdb00"/><stop offset=".906" stop-color="#ff3b00"/><stop offset=".913" stop-color="#bf0000"/><stop offset=".919" stop-color="#8d0000"/><stop offset=".926" stop-color="#800000"/><stop offset="1" stop-color="#800000"/></linearGradient><linearGradient id="a56"><stop offset="0" stop-color="#00ccff"/><stop offset=".007" stop-color="#0030ff"/><stop offset=".013" stop-color="#0000c4"/><stop offset=".02" stop-color="#00008d"/><stop offset=".027" stop-color="#000080"/><stop offset=".047" stop-color="#000080"/><stop offset=".074" stop-color="#000092"/><stop offset=".107" stop-color="#000096"/><stop offset=".289" stop-color="#000096"/><stop offset=".383" stop-color="#0000a8"/><stop offset=".443" stop-color="#0000c8"/><stop offset=".557" stop-color="#0000ed"/><stop offset=".584" stop-color="#0000ff"/><stop offset=".611" stop-color="#0000ff"/><stop offset=".664" stop-color="#001cff"/><stop offset=".779" stop-color="#0020ff"/><stop offset=".819" stop-color="#0030ff"/><stop offset=".832" stop-color="#003cff"/><stop offset=".852" stop-color="#0068ff"/><stop offset=".872" stop-color="#00a4ff"/><stop offset=".879" stop-color="#00d0ff"/><stop offset=".886" stop-color="#40ffb7"/><stop offset=".893" stop-color="#c7ff30"/><stop offset=".899" stop-color="#ff7e00"/><stop offset=".906" stop-color="#e40000"/><stop offset=".913" stop-color="#960000"/><stop offset=".919" stop-color="#840000"/><stop offset="1" stop-color="#800000"/></linearGradient><linearGradient id="a57"><stop offset="0" stop-color="#00ccff"/><stop offset=".007" stop-color="#0030ff"/><stop offset=".013" stop-color="#0000c4"/><stop offset=".02" stop-color="#00008d"/><stop offset=".027" stop-color="#000080"/><stop offset=".047" stop-color="#000080"/><stop offset=".081" stop-color="#000092"/><stop offset=".114" stop-color="#000096"/><stop offset=".295" stop-color="#000096"/><stop offset=".389" stop-color="#0000a8"/><stop offset=".45" stop-color="#0000c4"/><stop offset=".557" stop-color="#0000e8"/><stop offset=".597" stop-color="#0000ff"/><stop offset=".631" stop-color="#0000ff"/><stop offset=".664" stop-color="#0010ff"/><stop offset=".779" stop-color="#0010ff"/><stop offset=".819" stop-color="#0020ff"/><stop offset=".839" stop-color="#0044ff"/><stop offset=".859" stop-color="#0098ff"/><stop offset=".872" stop-color="#00dcfe"/><stop offset=".879" stop-color="#29ffce"/><stop offset=".886" stop-color="#87ff70"/><stop offset=".893" stop-color="#ffd300"/><stop offset=".899" stop-color="#ff3800"/><stop offset=".906" stop-color="#b60000"/><stop offset=".913" stop-color="#890000"/><stop offset=".919" stop-color="#800000"/><stop offset="1" stop-color="#800000"/></linearGradient><linearGradient id="a58"><stop offset="0" stop-color="#00ccff"/><stop offset=".007" stop-color="#0030ff"/><stop offset=".013" stop-color="#0000c4"/><stop offset=".02" stop-color="#00008d"/><stop offset=".027" stop-color="#000080"/><stop offset=".047" stop-color="#000080"/><stop offset=".067" stop-color="#00008d"/><stop offset=".114" stop-color="#000096"/><stop offset=".295" stop-color="#000096"/><stop offset=".349" stop-color="#0000a4"/><stop offset=".383" stop-color="#0000a4"/><stop offset=".477" stop-color="#0000c4"/><stop offset=".611" stop-color="#0000ff"/><stop offset=".772" stop-color="#0004ff"/><stop offset=".819" stop-color="#0014ff"/><stop offset=".832" stop-color="#002cff"/><stop offset=".839" stop-color="#0044ff"/><stop offset=".859" stop-color="#00bcff"/><stop offset=".866" stop-color="#02e8f4"/><stop offset=".872" stop-color="#2cffca"/><stop offset=".879" stop-color="#66ff90"/><stop offset=".886" stop-color="#ceff29"/><stop offset=".893" stop-color="#ff8d00"/><stop offset=".899" stop-color="#f60b00"/><stop offset=".906" stop-color="#9f0000"/><stop offset=".913" stop-color="#840000"/><stop offset="1" stop-color="#800000"/></linearGradient><clipPath id="clipa"><rect x="58" y="7.3" width="148.7" height="58.7"/></clipPath><linearGradient id="jet" x1="0" y1="1" x2="0" y2="0"><stop offset="0" stop-color="#000080"/><stop offset=".11" stop-color="#0000ff"/><stop offset=".125" stop-color="#0000ff"/><stop offset=".34" stop-color="#00dcfe"/><stop offset=".375" stop-color="#14ffe2"/><stop offset=".5" stop-color="#7dff7a"/><stop offset=".625" stop-color="#e4ff13"/><stop offset=".66" stop-color="#ffe600"/><stop offset=".89" stop-color="#ff1300"/><stop offset=".91" stop-color="#f10800"/><stop offset="1" stop-color="#800000"/></linearGradient><linearGradient id="b0"><stop offset="0" stop-color="#ff7a00"/><stop offset=".045" stop-color="#ff7700"/><stop offset=".189" stop-color="#ff5900"/><stop offset=".324" stop-color="#ff4a00"/><stop offset=".414" stop-color="#ff4e00"/><stop offset=".514" stop-color="#ff5d00"/><stop offset=".694" stop-color="#ff6c00"/><stop offset="1" stop-color="#ff7300"/></linearGradient><linearGradient id="b1"><stop offset="0" stop-color="#ff7a00"/><stop offset=".045" stop-color="#ff7700"/><stop offset=".189" stop-color="#ff5900"/><stop offset=".306" stop-color="#ff4a00"/><stop offset=".378" stop-color="#ff4a00"/><stop offset=".685" stop-color="#ff6c00"/><stop offset="1" stop-color="#ff7300"/></linearGradient><linearGradient id="b2"><stop offset="0" stop-color="#ff7e00"/><stop offset=".288" stop-color="#ff4a00"/><stop offset=".396" stop-color="#ff4a00"/><stop offset=".514" stop-color="#ff5d00"/><stop offset=".667" stop-color="#ff6c00"/><stop offset="1" stop-color="#ff7300"/></linearGradient><linearGradient id="b3"><stop offset="0" stop-color="#ff7e00"/><stop offset=".108" stop-color="#ff6c00"/><stop offset=".198" stop-color="#ff5500"/><stop offset=".306" stop-color="#ff4700"/><stop offset=".405" stop-color="#ff4a00"/><stop offset=".514" stop-color="#ff5d00"/><stop offset=".658" stop-color="#ff6c00"/><stop offset="1" stop-color="#ff7700"/></linearGradient><linearGradient id="b4"><stop offset="0" stop-color="#ff7e00"/><stop offset=".288" stop-color="#ff4700"/><stop offset=".387" stop-color="#ff4700"/><stop offset=".514" stop-color="#ff5d00"/><stop offset=".649" stop-color="#ff6c00"/><stop offset="1" stop-color="#ff7700"/></linearGradient><linearGradient id="b5"><stop offset="0" stop-color="#ff7e00"/><stop offset=".108" stop-color="#ff6c00"/><stop offset=".225" stop-color="#ff4e00"/><stop offset=".306" stop-color="#ff4300"/><stop offset=".369" stop-color="#ff4300"/><stop offset=".631" stop-color="#ff6c00"/><stop offset="1" stop-color="#ff7700"/></linearGradient><linearGradient id="b6"><stop offset="0" stop-color="#ff7e00"/><stop offset=".063" stop-color="#ff7700"/><stop offset=".279" stop-color="#ff4300"/><stop offset=".333" stop-color="#ff3f00"/><stop offset=".622" stop-color="#ff6c00"/><stop offset="1" stop-color="#ff7a00"/></linearGradient><linearGradient id="b7"><stop offset="0" stop-color="#ff8200"/><stop offset=".099" stop-color="#ff6f00"/><stop offset=".288" stop-color="#ff3f00"/><stop offset=".369" stop-color="#ff3f00"/><stop offset=".505" stop-color="#ff5d00"/><stop offset=".613" stop-color="#ff6c00"/><stop offset="1" stop-color="#ff7a00"/></linearGradient><linearGradient id="b8"><stop offset="0" stop-color="#ff8200"/><stop offset=".117" stop-color="#ff6c00"/><stop offset=".225" stop-color="#ff4a00"/><stop offset=".297" stop-color="#ff3b00"/><stop offset=".36" stop-color="#ff3b00"/><stop offset=".505" stop-color="#ff5d00"/><stop offset=".604" stop-color="#ff6c00"/><stop offset="1" stop-color="#ff7e00"/></linearGradient><linearGradient id="b9"><stop offset="0" stop-color="#ff8600"/><stop offset=".117" stop-color="#ff6c00"/><stop offset=".243" stop-color="#ff4300"/><stop offset=".306" stop-color="#ff3800"/><stop offset=".369" stop-color="#ff3b00"/><stop offset=".505" stop-color="#ff5d00"/><stop offset=".595" stop-color="#ff6c00"/><stop offset=".748" stop-color="#ff7700"/><stop offset="1" stop-color="#ff7e00"/></linearGradient><linearGradient id="b10"><stop offset="0" stop-color="#ff8600"/><stop offset=".117" stop-color="#ff6c00"/><stop offset=".261" stop-color="#ff3b00"/><stop offset=".306" stop-color="#ff3400"/><stop offset=".387" stop-color="#ff3b00"/><stop offset=".468" stop-color="#ff5500"/><stop offset=".586" stop-color="#ff6c00"/><stop offset=".712" stop-color="#ff7700"/><stop offset="1" stop-color="#ff8200"/></linearGradient><linearGradient id="b11"><stop offset="0" stop-color="#ff8900"/><stop offset=".081" stop-color="#ff7700"/><stop offset=".252" stop-color="#ff3b00"/><stop offset=".306" stop-color="#ff3000"/><stop offset=".369" stop-color="#ff3400"/><stop offset=".495" stop-color="#ff5d00"/><stop offset=".577" stop-color="#ff6c00"/><stop offset=".685" stop-color="#ff7700"/><stop offset="1" stop-color="#ff8600"/></linearGradient><linearGradient id="b12"><stop offset="0" stop-color="#ff8900"/><stop offset=".135" stop-color="#ff6800"/><stop offset=".243" stop-color="#ff3b00"/><stop offset=".297" stop-color="#ff2d00"/><stop offset=".378" stop-color="#ff3400"/><stop offset=".495" stop-color="#ff5d00"/><stop offset=".586" stop-color="#ff6f00"/><stop offset="1" stop-color="#ff8900"/></linearGradient><linearGradient id="b13"><stop offset="0" stop-color="#ff8d00"/><stop offset=".126" stop-color="#ff6c00"/><stop offset=".234" stop-color="#ff3b00"/><stop offset=".297" stop-color="#ff2900"/><stop offset=".351" stop-color="#ff2900"/><stop offset=".477" stop-color="#ff5900"/><stop offset=".55" stop-color="#ff6c00"/><stop offset=".631" stop-color="#ff7700"/><stop offset="1" stop-color="#ff8d00"/></linearGradient><linearGradient id="b14"><stop offset="0" stop-color="#ff8d00"/><stop offset=".063" stop-color="#ff8200"/><stop offset=".108" stop-color="#ff7300"/><stop offset=".189" stop-color="#ff5200"/><stop offset=".261" stop-color="#ff2d00"/><stop offset=".306" stop-color="#ff2200"/><stop offset=".333" stop-color="#ff2200"/><stop offset=".486" stop-color="#ff5d00"/><stop offset=".541" stop-color="#ff6c00"/><stop offset=".613" stop-color="#ff7700"/><stop offset="1" stop-color="#ff9400"/></linearGradient><linearGradient id="b15"><stop offset="0" stop-color="#ff9100"/><stop offset=".072" stop-color="#ff8200"/><stop offset=".189" stop-color="#ff5200"/><stop offset=".27" stop-color="#ff2500"/><stop offset=".297" stop-color="#ff1e00"/><stop offset=".342" stop-color="#ff1e00"/><stop offset=".477" stop-color="#ff5d00"/><stop offset=".586" stop-color="#ff7700"/><stop offset="1" stop-color="#ff9800"/></linearGradient><linearGradient id="b16"><stop offset="0" stop-color="#ff9100"/><stop offset=".081" stop-color="#ff8200"/><stop offset=".162" stop-color="#ff6000"/><stop offset=".261" stop-color="#ff2500"/><stop offset=".297" stop-color="#ff1600"/><stop offset=".333" stop-color="#ff1600"/><stop offset=".36" stop-color="#ff1e00"/><stop offset=".45" stop-color="#ff5200"/><stop offset=".505" stop-color="#ff6800"/><stop offset=".568" stop-color="#ff7700"/><stop offset="1" stop-color="#ff9f00"/></linearGradient><linearGradient id="b17"><stop offset="0" stop-color="#ff9100"/><stop offset=".054" stop-color="#ff8d00"/><stop offset=".09" stop-color="#ff8200"/><stop offset=".171" stop-color="#ff5d00"/><stop offset=".27" stop-color="#ff1a00"/><stop offset=".297" stop-color="#fa0f00"/><stop offset=".333" stop-color="#fa0f00"/><stop offset=".369" stop-color="#ff1e00"/><stop offset=".459" stop-color="#ff5900"/><stop offset=".514" stop-color="#ff6f00"/><stop offset=".622" stop-color="#ff8200"/><stop offset="1" stop-color="#ffa300"/></linearGradient><linearGradient id="b18"><stop offset="0" stop-color="#ff9400"/><stop offset=".045" stop-color="#ff9100"/><stop offset=".117" stop-color="#ff7a00"/><stop offset=".189" stop-color="#ff5200"/><stop offset=".27" stop-color="#ff1300"/><stop offset=".315" stop-color="#ed0400"/><stop offset=".36" stop-color="#ff1300"/><stop offset=".432" stop-color="#ff4a00"/><stop offset=".523" stop-color="#ff7700"/><stop offset=".577" stop-color="#ff8200"/><stop offset=".685" stop-color="#ff8900"/><stop offset=".874" stop-color="#ffa300"/><stop offset="1" stop-color="#ffab00"/></linearGradient><linearGradient id="b19"><stop offset="0" stop-color="#ff9400"/><stop offset=".063" stop-color="#ff9100"/><stop offset=".099" stop-color="#ff8600"/><stop offset=".18" stop-color="#ff5900"/><stop offset=".261" stop-color="#ff1600"/><stop offset=".279" stop-color="#f10800"/><stop offset=".306" stop-color="#e40000"/><stop offset=".342" stop-color="#e80000"/><stop offset=".378" stop-color="#ff1600"/><stop offset=".423" stop-color="#ff4300"/><stop offset=".477" stop-color="#ff6c00"/><stop offset=".541" stop-color="#ff8200"/><stop offset="1" stop-color="#ffb600"/></linearGradient><linearGradient id="b20"><stop offset="0" stop-color="#ff9800"/><stop offset=".081" stop-color="#ff9100"/><stop offset=".135" stop-color="#ff7a00"/><stop offset=".207" stop-color="#ff4700"/><stop offset=".252" stop-color="#ff1600"/><stop offset=".279" stop-color="#e80000"/><stop offset=".297" stop-color="#d60000"/><stop offset=".315" stop-color="#d10000"/><stop offset=".333" stop-color="#d10000"/><stop offset=".369" stop-color="#e80000"/><stop offset=".387" stop-color="#ff1600"/><stop offset=".432" stop-color="#ff4e00"/><stop offset=".459" stop-color="#ff6800"/><stop offset=".523" stop-color="#ff8600"/><stop offset=".856" stop-color="#ffb200"/><stop offset="1" stop-color="#ffbd00"/></linearGradient><linearGradient id="b21"><stop offset="0" stop-color="#ff9800"/><stop offset=".099" stop-color="#ff9100"/><stop offset=".135" stop-color="#ff8200"/><stop offset=".207" stop-color="#ff4700"/><stop offset=".252" stop-color="#ff1300"/><stop offset=".27" stop-color="#e40000"/><stop offset=".306" stop-color="#bb0000"/><stop offset=".324" stop-color="#b20000"/><stop offset=".351" stop-color="#bb0000"/><stop offset=".369" stop-color="#d10000"/><stop offset=".378" stop-color="#e40000"/><stop offset=".387" stop-color="#f60b00"/><stop offset=".396" stop-color="#ff1a00"/><stop offset=".432" stop-color="#ff5500"/><stop offset=".45" stop-color="#ff6800"/><stop offset=".477" stop-color="#ff7e00"/><stop offset=".514" stop-color="#ff8d00"/><stop offset=".676" stop-color="#ff9f00"/><stop offset=".865" stop-color="#ffbd00"/><stop offset="1" stop-color="#ffc800"/></linearGradient><linearGradient id="b22"><stop offset="0" stop-color="#ff9800"/><stop offset=".054" stop-color="#ff9800"/><stop offset=".126" stop-color="#ff8d00"/><stop offset=".189" stop-color="#ff5d00"/><stop offset=".243" stop-color="#ff1a00"/><stop offset=".261" stop-color="#e80000"/><stop offset=".297" stop-color="#a40000"/><stop offset=".315" stop-color="#920000"/><stop offset=".333" stop-color="#8d0000"/><stop offset=".36" stop-color="#a80000"/><stop offset=".378" stop-color="#d10000"/><stop offset=".387" stop-color="#ed0400"/><stop offset=".396" stop-color="#ff1a00"/><stop offset=".423" stop-color="#ff5200"/><stop offset=".441" stop-color="#ff6c00"/><stop offset=".486" stop-color="#ff9100"/><stop offset=".865" stop-color="#ffc800"/><stop offset="1" stop-color="#ffd000"/></linearGradient><linearGradient id="b23"><stop offset="0" stop-color="#ff9c00"/><stop offset=".09" stop-color="#ff9800"/><stop offset=".153" stop-color="#ff8600"/><stop offset=".171" stop-color="#ff7700"/><stop offset=".216" stop-color="#ff4300"/><stop offset=".243" stop-color="#ff1600"/><stop offset=".252" stop-color="#ed0400"/><stop offset=".261" stop-color="#d10000"/><stop offset=".288" stop-color="#920000"/><stop offset=".306" stop-color="#840000"/><stop offset=".333" stop-color="#840000"/><stop offset=".36" stop-color="#960000"/><stop offset=".369" stop-color="#ad0000"/><stop offset=".378" stop-color="#d10000"/><stop offset=".387" stop-color="#f10800"/><stop offset=".396" stop-color="#ff2500"/><stop offset=".414" stop-color="#ff5200"/><stop offset=".441" stop-color="#ff7e00"/><stop offset=".468" stop-color="#ff9800"/><stop offset=".495" stop-color="#ffa300"/><stop offset=".649" stop-color="#ffb200"/><stop offset=".829" stop-color="#ffd000"/><stop offset="1" stop-color="#ffdb00"/></linearGradient><linearGradient id="b24"><stop offset="0" stop-color="#ff9f00"/><stop offset=".126" stop-color="#ff9800"/><stop offset=".162" stop-color="#ff8900"/><stop offset=".198" stop-color="#ff6000"/><stop offset=".234" stop-color="#ff2200"/><stop offset=".243" stop-color="#f60b00"/><stop offset=".252" stop-color="#d60000"/><stop offset=".27" stop-color="#9b0000"/><stop offset=".279" stop-color="#890000"/><stop offset=".288" stop-color="#800000"/><stop offset=".342" stop-color="#890000"/><stop offset=".36" stop-color="#960000"/><stop offset=".369" stop-color="#b60000"/><stop offset=".378" stop-color="#df0000"/><stop offset=".387" stop-color="#ff1a00"/><stop offset=".405" stop-color="#ff5200"/><stop offset=".432" stop-color="#ff8600"/><stop offset=".459" stop-color="#ffa700"/><stop offset=".486" stop-color="#ffb200"/><stop offset=".658" stop-color="#ffc100"/><stop offset=".811" stop-color="#ffdb00"/><stop offset="1" stop-color="#ffe600"/></linearGradient><linearGradient id="b25"><stop offset="0" stop-color="#ffa300"/><stop offset=".126" stop-color="#ff9c00"/><stop offset=".162" stop-color="#ff9400"/><stop offset=".189" stop-color="#ff7700"/><stop offset=".207" stop-color="#ff5900"/><stop offset=".216" stop-color="#ff4700"/><stop offset=".234" stop-color="#ff1600"/><stop offset=".243" stop-color="#df0000"/><stop offset=".252" stop-color="#b60000"/><stop offset=".261" stop-color="#960000"/><stop offset=".27" stop-color="#840000"/><stop offset=".279" stop-color="#800000"/><stop offset=".342" stop-color="#8d0000"/><stop offset=".351" stop-color="#960000"/><stop offset=".36" stop-color="#ad0000"/><stop offset=".369" stop-color="#d60000"/><stop offset=".378" stop-color="#ff1300"/><stop offset=".405" stop-color="#ff6c00"/><stop offset=".423" stop-color="#ff9100"/><stop offset=".441" stop-color="#ffae00"/><stop offset=".468" stop-color="#ffc100"/><stop offset=".595" stop-color="#ffd000"/><stop offset=".649" stop-color="#ffd000"/><stop offset=".82" stop-color="#ffea00"/><stop offset="1" stop-color="#fbf100"/></linearGradient><linearGradient id="b26"><stop offset="0" stop-color="#ffab00"/><stop offset=".117" stop-color="#ffa300"/><stop offset=".171" stop-color="#ff9800"/><stop offset=".198" stop-color="#ff7700"/><stop offset=".225" stop-color="#ff2900"/><stop offset=".234" stop-color="#f10800"/><stop offset=".252" stop-color="#9b0000"/><stop offset=".261" stop-color="#840000"/><stop offset=".27" stop-color="#800000"/><stop offset=".315" stop-color="#9b0000"/><stop offset=".342" stop-color="#a40000"/><stop offset=".351" stop-color="#b20000"/><stop offset=".36" stop-color="#d60000"/><stop offset=".369" stop-color="#ff1300"/><stop offset=".396" stop-color="#ff6f00"/><stop offset=".423" stop-color="#ffb200"/><stop offset=".441" stop-color="#ffcc00"/><stop offset=".468" stop-color="#ffdb00"/><stop offset=".658" stop-color="#ffe200"/><stop offset=".703" stop-color="#ffea00"/><stop offset=".856" stop-color="#f1fc06"/><stop offset="1" stop-color="#eeff09"/></linearGradient><linearGradient id="b27"><stop offset="0" stop-color="#ffb600"/><stop offset=".144" stop-color="#ffa700"/><stop offset=".18" stop-color="#ff9800"/><stop offset=".198" stop-color="#ff7e00"/><stop offset=".207" stop-color="#ff6800"/><stop offset=".225" stop-color="#ff2900"/><stop offset=".234" stop-color="#e80000"/><stop offset=".252" stop-color="#960000"/><stop offset=".261" stop-color="#920000"/><stop offset=".27" stop-color="#9f0000"/><stop offset=".279" stop-color="#bb0000"/><stop offset=".297" stop-color="#e40000"/><stop offset=".306" stop-color="#fa0f00"/><stop offset=".315" stop-color="#ff2500"/><stop offset=".324" stop-color="#ff3000"/><stop offset=".342" stop-color="#ff2d00"/><stop offset=".351" stop-color="#ff3b00"/><stop offset=".36" stop-color="#ff5500"/><stop offset=".387" stop-color="#ff7e00"/><stop offset=".405" stop-color="#ffae00"/><stop offset=".423" stop-color="#ffd300"/><stop offset=".45" stop-color="#feed00"/><stop offset=".468" stop-color="#f8f500"/><stop offset=".649" stop-color="#f8f500"/><stop offset=".721" stop-color="#eeff09"/><stop offset=".802" stop-color="#e7ff0f"/><stop offset="1" stop-color="#e4ff13"/></linearGradient><linearGradient id="b28"><stop offset="0" stop-color="#ffc400"/><stop offset=".126" stop-color="#ffb600"/><stop offset=".162" stop-color="#ffab00"/><stop offset=".189" stop-color="#ff9400"/><stop offset=".198" stop-color="#ff8600"/><stop offset=".207" stop-color="#ff7300"/><stop offset=".225" stop-color="#ff3800"/><stop offset=".234" stop-color="#ff1300"/><stop offset=".243" stop-color="#e40000"/><stop offset=".252" stop-color="#e80000"/><stop offset=".261" stop-color="#ff2200"/><stop offset=".279" stop-color="#ff9800"/><stop offset=".297" stop-color="#ffe200"/><stop offset=".306" stop-color="#e7ff0f"/><stop offset=".315" stop-color="#caff2c"/><stop offset=".324" stop-color="#beff39"/><stop offset=".342" stop-color="#c4ff33"/><stop offset=".36" stop-color="#baff3c"/><stop offset=".369" stop-color="#c7ff30"/><stop offset=".378" stop-color="#e7ff0f"/><stop offset=".387" stop-color="#ffea00"/><stop offset=".396" stop-color="#ffde00"/><stop offset=".405" stop-color="#ffde00"/><stop offset=".414" stop-color="#ffea00"/><stop offset=".432" stop-color="#f1fc06"/><stop offset=".459" stop-color="#deff19"/><stop offset=".667" stop-color="#e4ff13"/><stop offset=".874" stop-color="#d7ff1f"/><stop offset="1" stop-color="#dbff1c"/></linearGradient><linearGradient id="b29"><stop offset="0" stop-color="#ffd700"/><stop offset=".081" stop-color="#ffd000"/><stop offset=".153" stop-color="#ffc100"/><stop offset=".189" stop-color="#ff9f00"/><stop offset=".225" stop-color="#ff6000"/><stop offset=".234" stop-color="#ff6f00"/><stop offset=".243" stop-color="#ffa700"/><stop offset=".252" stop-color="#f1fc06"/><stop offset=".27" stop-color="#66ff90"/><stop offset=".279" stop-color="#33ffc4"/><stop offset=".288" stop-color="#16ffe1"/><stop offset=".297" stop-color="#00dcfe"/><stop offset=".306" stop-color="#00bcff"/><stop offset=".315" stop-color="#00a0ff"/><stop offset=".324" stop-color="#0094ff"/><stop offset=".36" stop-color="#00a0ff"/><stop offset=".369" stop-color="#00b8ff"/><stop offset=".378" stop-color="#09f0ee"/><stop offset=".387" stop-color="#3cffba"/><stop offset=".405" stop-color="#a7ff50"/><stop offset=".414" stop-color="#c7ff30"/><stop offset=".423" stop-color="#d4ff23"/><stop offset=".432" stop-color="#d4ff23"/><stop offset=".459" stop-color="#c1ff36"/><stop offset=".541" stop-color="#c1ff36"/><stop offset=".64" stop-color="#d1ff26"/><stop offset="1" stop-color="#d1ff26"/></linearGradient><linearGradient id="b30"><stop offset="0" stop-color="#fbf100"/><stop offset=".126" stop-color="#ffe600"/><stop offset=".162" stop-color="#ffd700"/><stop offset=".18" stop-color="#ffc800"/><stop offset=".207" stop-color="#ffa700"/><stop offset=".216" stop-color="#ffa300"/><stop offset=".225" stop-color="#ffd300"/><stop offset=".234" stop-color="#9dff5a"/><stop offset=".243" stop-color="#29ffce"/><stop offset=".252" stop-color="#00b0ff"/><stop offset=".261" stop-color="#0074ff"/><stop offset=".27" stop-color="#0044ff"/><stop offset=".279" stop-color="#0020ff"/><stop offset=".297" stop-color="#0000ff"/><stop offset=".306" stop-color="#0000fa"/><stop offset=".324" stop-color="#0000e3"/><stop offset=".369" stop-color="#0000ff"/><stop offset=".378" stop-color="#0018ff"/><stop offset=".387" stop-color="#0044ff"/><stop offset=".396" stop-color="#0084ff"/><stop offset=".405" stop-color="#00d4ff"/><stop offset=".414" stop-color="#3cffba"/><stop offset=".423" stop-color="#7aff7d"/><stop offset=".432" stop-color="#9aff5d"/><stop offset=".45" stop-color="#a7ff50"/><stop offset=".55" stop-color="#a7ff50"/><stop offset=".649" stop-color="#c1ff36"/><stop offset=".802" stop-color="#beff39"/><stop offset="1" stop-color="#c7ff30"/></linearGradient><linearGradient id="b31"><stop offset="0" stop-color="#e4ff13"/><stop offset=".126" stop-color="#e1ff16"/><stop offset=".171" stop-color="#ebff0c"/><stop offset=".207" stop-color="#f8f500"/><stop offset=".216" stop-color="#ceff29"/><stop offset=".225" stop-color="#3cffba"/><stop offset=".234" stop-color="#007cff"/><stop offset=".243" stop-color="#001cff"/><stop offset=".252" stop-color="#0000ff"/><stop offset=".27" stop-color="#0000cd"/><stop offset=".288" stop-color="#0000b6"/><stop offset=".324" stop-color="#000096"/><stop offset=".36" stop-color="#0000a8"/><stop offset=".369" stop-color="#0000b2"/><stop offset=".396" stop-color="#0000ff"/><stop offset=".405" stop-color="#0024ff"/><stop offset=".414" stop-color="#0060ff"/><stop offset=".423" stop-color="#00a8ff"/><stop offset=".432" stop-color="#0cf4eb"/><stop offset=".441" stop-color="#46ffb1"/><stop offset=".45" stop-color="#66ff90"/><stop offset=".468" stop-color="#80ff77"/><stop offset=".486" stop-color="#87ff70"/><stop offset=".541" stop-color="#8aff6d"/><stop offset=".649" stop-color="#adff49"/><stop offset="1" stop-color="#beff39"/></linearGradient><linearGradient id="b32"><stop offset="0" stop-color="#ceff29"/><stop offset=".09" stop-color="#c4ff33"/><stop offset=".18" stop-color="#adff49"/><stop offset=".198" stop-color="#a4ff53"/><stop offset=".207" stop-color="#7aff7d"/><stop offset=".216" stop-color="#02e8f4"/><stop offset=".225" stop-color="#003cff"/><stop offset=".234" stop-color="#0000f1"/><stop offset=".243" stop-color="#0000cd"/><stop offset=".252" stop-color="#0000bf"/><stop offset=".297" stop-color="#000092"/><stop offset=".315" stop-color="#000084"/><stop offset=".324" stop-color="#000084"/><stop offset=".369" stop-color="#00009f"/><stop offset=".387" stop-color="#0000bf"/><stop offset=".405" stop-color="#0000f1"/><stop offset=".414" stop-color="#0000ff"/><stop offset=".432" stop-color="#0058ff"/><stop offset=".45" stop-color="#00ccff"/><stop offset=".459" stop-color="#1cffdb"/><stop offset=".468" stop-color="#46ffb1"/><stop offset=".477" stop-color="#5dff9a"/><stop offset=".486" stop-color="#66ff90"/><stop offset=".568" stop-color="#7aff7d"/><stop offset=".658" stop-color="#a0ff56"/><stop offset="1" stop-color="#b7ff40"/></linearGradient><linearGradient id="b33"><stop offset="0" stop-color="#baff3c"/><stop offset=".081" stop-color="#aaff4d"/><stop offset=".126" stop-color="#94ff63"/><stop offset=".18" stop-color="#63ff94"/><stop offset=".189" stop-color="#53ffa4"/><stop offset=".198" stop-color="#2cffca"/><stop offset=".207" stop-color="#00a4ff"/><stop offset=".216" stop-color="#0030ff"/><stop offset=".225" stop-color="#0000f1"/><stop offset=".234" stop-color="#0000c8"/><stop offset=".243" stop-color="#0000bb"/><stop offset=".288" stop-color="#000096"/><stop offset=".324" stop-color="#000080"/><stop offset=".369" stop-color="#00009b"/><stop offset=".396" stop-color="#0000cd"/><stop offset=".414" stop-color="#0000fa"/><stop offset=".423" stop-color="#0008ff"/><stop offset=".441" stop-color="#0050ff"/><stop offset=".459" stop-color="#00a8ff"/><stop offset=".468" stop-color="#00dcfe"/><stop offset=".477" stop-color="#1cffdb"/><stop offset=".486" stop-color="#3cffba"/><stop offset=".495" stop-color="#50ffa7"/><stop offset=".505" stop-color="#56ffa0"/><stop offset=".559" stop-color="#63ff94"/><stop offset=".658" stop-color="#94ff63"/><stop offset="1" stop-color="#b1ff46"/></linearGradient><linearGradient id="b34"><stop offset="0" stop-color="#b1ff46"/><stop offset=".081" stop-color="#9aff5d"/><stop offset=".108" stop-color="#8aff6d"/><stop offset=".135" stop-color="#73ff83"/><stop offset=".153" stop-color="#5dff9a"/><stop offset=".18" stop-color="#2cffca"/><stop offset=".189" stop-color="#00e4f8"/><stop offset=".198" stop-color="#00a4ff"/><stop offset=".207" stop-color="#004cff"/><stop offset=".216" stop-color="#0004ff"/><stop offset=".234" stop-color="#0000c4"/><stop offset=".243" stop-color="#0000bb"/><stop offset=".288" stop-color="#000096"/><stop offset=".324" stop-color="#000080"/><stop offset=".369" stop-color="#00009b"/><stop offset=".405" stop-color="#0000df"/><stop offset=".414" stop-color="#0000fa"/><stop offset=".423" stop-color="#0004ff"/><stop offset=".45" stop-color="#006cff"/><stop offset=".468" stop-color="#00c0ff"/><stop offset=".477" stop-color="#06ecf1"/><stop offset=".486" stop-color="#26ffd1"/><stop offset=".495" stop-color="#3cffba"/><stop offset=".505" stop-color="#46ffb1"/><stop offset=".559" stop-color="#56ffa0"/><stop offset=".649" stop-color="#8aff6d"/><stop offset="1" stop-color="#adff49"/></linearGradient><linearGradient id="b35"><stop offset="0" stop-color="#b1ff46"/><stop offset=".09" stop-color="#94ff63"/><stop offset=".108" stop-color="#87ff70"/><stop offset=".144" stop-color="#66ff90"/><stop offset=".171" stop-color="#3cffba"/><stop offset=".18" stop-color="#26ffd1"/><stop offset=".189" stop-color="#00e0fb"/><stop offset=".198" stop-color="#009cff"/><stop offset=".207" stop-color="#0044ff"/><stop offset=".216" stop-color="#0000ff"/><stop offset=".234" stop-color="#0000c4"/><stop offset=".243" stop-color="#0000bb"/><stop offset=".288" stop-color="#000096"/><stop offset=".324" stop-color="#000080"/><stop offset=".369" stop-color="#00009b"/><stop offset=".405" stop-color="#0000df"/><stop offset=".414" stop-color="#0000fa"/><stop offset=".423" stop-color="#0004ff"/><stop offset=".45" stop-color="#006cff"/><stop offset=".468" stop-color="#00bcff"/><stop offset=".477" stop-color="#02e8f4"/><stop offset=".486" stop-color="#26ffd1"/><stop offset=".495" stop-color="#3cffba"/><stop offset=".505" stop-color="#46ffb1"/><stop offset=".55" stop-color="#50ffa7"/><stop offset=".631" stop-color="#80ff77"/><stop offset=".658" stop-color="#8aff6d"/><stop offset="1" stop-color="#adff49"/></linearGradient><linearGradient id="b36"><stop offset="0" stop-color="#baff3c"/><stop offset=".09" stop-color="#a4ff53"/><stop offset=".144" stop-color="#80ff77"/><stop offset=".18" stop-color="#56ffa0"/><stop offset=".189" stop-color="#43ffb4"/><stop offset=".198" stop-color="#0ff8e7"/><stop offset=".207" stop-color="#0088ff"/><stop offset=".216" stop-color="#0020ff"/><stop offset=".225" stop-color="#0000e8"/><stop offset=".234" stop-color="#0000c8"/><stop offset=".243" stop-color="#0000bb"/><stop offset=".288" stop-color="#000096"/><stop offset=".324" stop-color="#000080"/><stop offset=".369" stop-color="#00009b"/><stop offset=".396" stop-color="#0000cd"/><stop offset=".414" stop-color="#0000fa"/><stop offset=".423" stop-color="#0008ff"/><stop offset=".441" stop-color="#004cff"/><stop offset=".468" stop-color="#00d0ff"/><stop offset=".477" stop-color="#16ffe1"/><stop offset=".486" stop-color="#36ffc1"/><stop offset=".495" stop-color="#49ffad"/><stop offset=".505" stop-color="#53ffa4"/><stop offset=".559" stop-color="#60ff97"/><stop offset=".649" stop-color="#90ff66"/><stop offset="1" stop-color="#b1ff46"/></linearGradient><linearGradient id="b37"><stop offset="0" stop-color="#caff2c"/><stop offset=".09" stop-color="#beff39"/><stop offset=".189" stop-color="#9aff5d"/><stop offset=".198" stop-color="#8dff6a"/><stop offset=".207" stop-color="#5dff9a"/><stop offset=".216" stop-color="#00b8ff"/><stop offset=".225" stop-color="#001cff"/><stop offset=".234" stop-color="#0000e3"/><stop offset=".243" stop-color="#0000c8"/><stop offset=".279" stop-color="#00009f"/><stop offset=".315" stop-color="#000084"/><stop offset=".333" stop-color="#000084"/><stop offset=".369" stop-color="#00009b"/><stop offset=".387" stop-color="#0000bb"/><stop offset=".405" stop-color="#0000ed"/><stop offset=".414" stop-color="#0000ff"/><stop offset=".423" stop-color="#001cff"/><stop offset=".432" stop-color="#0048ff"/><stop offset=".45" stop-color="#00b4ff"/><stop offset=".459" stop-color="#06ecf1"/><stop offset=".468" stop-color="#33ffc4"/><stop offset=".477" stop-color="#53ffa4"/><stop offset=".495" stop-color="#66ff90"/><stop offset=".541" stop-color="#6dff8a"/><stop offset=".658" stop-color="#9dff5a"/><stop offset=".883" stop-color="#aaff4d"/><stop offset="1" stop-color="#b7ff40"/></linearGradient><linearGradient id="b38"><stop offset="0" stop-color="#e1ff16"/><stop offset=".153" stop-color="#dbff1c"/><stop offset=".198" stop-color="#ebff0c"/><stop offset=".207" stop-color="#e7ff0f"/><stop offset=".216" stop-color="#b1ff46"/><stop offset=".225" stop-color="#0cf4eb"/><stop offset=".234" stop-color="#0050ff"/><stop offset=".243" stop-color="#0000ff"/><stop offset=".261" stop-color="#0000d1"/><stop offset=".279" stop-color="#0000b6"/><stop offset=".315" stop-color="#000092"/><stop offset=".333" stop-color="#000092"/><stop offset=".36" stop-color="#00009f"/><stop offset=".378" stop-color="#0000bf"/><stop offset=".387" stop-color="#0000d6"/><stop offset=".396" stop-color="#0000f6"/><stop offset=".405" stop-color="#0010ff"/><stop offset=".414" stop-color="#0044ff"/><stop offset=".423" stop-color="#0084ff"/><stop offset=".432" stop-color="#00d0ff"/><stop offset=".441" stop-color="#29ffce"/><stop offset=".45" stop-color="#53ffa4"/><stop offset=".459" stop-color="#6aff8d"/><stop offset=".468" stop-color="#77ff80"/><stop offset=".486" stop-color="#80ff77"/><stop offset=".55" stop-color="#87ff70"/><stop offset=".649" stop-color="#aaff4d"/><stop offset=".775" stop-color="#adff49"/><stop offset="1" stop-color="#beff39"/></linearGradient><linearGradient id="b39"><stop offset="0" stop-color="#f8f500"/><stop offset=".126" stop-color="#feed00"/><stop offset=".162" stop-color="#ffde00"/><stop offset=".189" stop-color="#ffc800"/><stop offset=".207" stop-color="#ffb200"/><stop offset=".216" stop-color="#ffb600"/><stop offset=".225" stop-color="#f4f802"/><stop offset=".234" stop-color="#6aff8d"/><stop offset=".243" stop-color="#00d8ff"/><stop offset=".252" stop-color="#007cff"/><stop offset=".27" stop-color="#001cff"/><stop offset=".279" stop-color="#0004ff"/><stop offset=".288" stop-color="#0000ff"/><stop offset=".315" stop-color="#0000d1"/><stop offset=".324" stop-color="#0000cd"/><stop offset=".36" stop-color="#0000df"/><stop offset=".378" stop-color="#0000ff"/><stop offset=".387" stop-color="#0028ff"/><stop offset=".396" stop-color="#005cff"/><stop offset=".405" stop-color="#00a8ff"/><stop offset=".414" stop-color="#16ffe1"/><stop offset=".423" stop-color="#5aff9d"/><stop offset=".432" stop-color="#87ff70"/><stop offset=".441" stop-color="#9aff5d"/><stop offset=".45" stop-color="#9dff5a"/><stop offset=".541" stop-color="#a0ff56"/><stop offset=".649" stop-color="#beff39"/><stop offset=".766" stop-color="#baff3c"/><stop offset="1" stop-color="#c4ff33"/></linearGradient><linearGradient id="b40"><stop offset="0" stop-color="#ffde00"/><stop offset=".117" stop-color="#ffd000"/><stop offset=".153" stop-color="#ffc400"/><stop offset=".18" stop-color="#ffae00"/><stop offset=".216" stop-color="#ff7700"/><stop offset=".225" stop-color="#ff6f00"/><stop offset=".234" stop-color="#ff9100"/><stop offset=".243" stop-color="#ffde00"/><stop offset=".252" stop-color="#b7ff40"/><stop offset=".27" stop-color="#30ffc7"/><stop offset=".279" stop-color="#00e4f8"/><stop offset=".288" stop-color="#00c4ff"/><stop offset=".306" stop-color="#0088ff"/><stop offset=".315" stop-color="#0070ff"/><stop offset=".324" stop-color="#0064ff"/><stop offset=".36" stop-color="#0070ff"/><stop offset=".369" stop-color="#0088ff"/><stop offset=".378" stop-color="#00bcff"/><stop offset=".387" stop-color="#13fce4"/><stop offset=".396" stop-color="#49ffad"/><stop offset=".405" stop-color="#8aff6d"/><stop offset=".414" stop-color="#b4ff43"/><stop offset=".423" stop-color="#c7ff30"/><stop offset=".432" stop-color="#ceff29"/><stop offset=".459" stop-color="#baff3c"/><stop offset=".477" stop-color="#baff3c"/><stop offset=".586" stop-color="#c1ff36"/><stop offset=".64" stop-color="#ceff29"/><stop offset="1" stop-color="#ceff29"/></linearGradient><linearGradient id="b41"><stop offset="0" stop-color="#ffc800"/><stop offset=".099" stop-color="#ffbd00"/><stop offset=".162" stop-color="#ffae00"/><stop offset=".18" stop-color="#ff9f00"/><stop offset=".198" stop-color="#ff8600"/><stop offset=".216" stop-color="#ff5d00"/><stop offset=".234" stop-color="#ff1e00"/><stop offset=".243" stop-color="#fa0f00"/><stop offset=".252" stop-color="#ff2200"/><stop offset=".261" stop-color="#ff4e00"/><stop offset=".279" stop-color="#ffd300"/><stop offset=".288" stop-color="#f1fc06"/><stop offset=".297" stop-color="#d1ff26"/><stop offset=".315" stop-color="#94ff63"/><stop offset=".324" stop-color="#87ff70"/><stop offset=".342" stop-color="#8dff6a"/><stop offset=".36" stop-color="#87ff70"/><stop offset=".369" stop-color="#97ff60"/><stop offset=".378" stop-color="#c1ff36"/><stop offset=".387" stop-color="#e1ff16"/><stop offset=".396" stop-color="#f4f802"/><stop offset=".405" stop-color="#feed00"/><stop offset=".432" stop-color="#ebff0c"/><stop offset=".468" stop-color="#d7ff1f"/><stop offset=".568" stop-color="#d7ff1f"/><stop offset=".64" stop-color="#e1ff16"/><stop offset=".775" stop-color="#d7ff1f"/><stop offset="1" stop-color="#d7ff1f"/></linearGradient><linearGradient id="b42"><stop offset="0" stop-color="#ffb900"/><stop offset=".135" stop-color="#ffab00"/><stop offset=".171" stop-color="#ff9f00"/><stop offset=".198" stop-color="#ff8200"/><stop offset=".207" stop-color="#ff6c00"/><stop offset=".225" stop-color="#ff2900"/><stop offset=".234" stop-color="#e80000"/><stop offset=".243" stop-color="#bb0000"/><stop offset=".252" stop-color="#9b0000"/><stop offset=".261" stop-color="#9b0000"/><stop offset=".279" stop-color="#d60000"/><stop offset=".288" stop-color="#ed0400"/><stop offset=".297" stop-color="#ff1a00"/><stop offset=".315" stop-color="#ff4a00"/><stop offset=".324" stop-color="#ff5900"/><stop offset=".342" stop-color="#ff5500"/><stop offset=".36" stop-color="#ff7700"/><stop offset=".387" stop-color="#ff8d00"/><stop offset=".423" stop-color="#ffdb00"/><stop offset=".45" stop-color="#f8f500"/><stop offset=".486" stop-color="#f1fc06"/><stop offset=".649" stop-color="#f4f802"/><stop offset=".685" stop-color="#eeff09"/><stop offset=".811" stop-color="#e4ff13"/><stop offset="1" stop-color="#e1ff16"/></linearGradient><linearGradient id="b43"><stop offset="0" stop-color="#ffae00"/><stop offset=".126" stop-color="#ffa300"/><stop offset=".171" stop-color="#ff9800"/><stop offset=".198" stop-color="#ff7700"/><stop offset=".225" stop-color="#ff2900"/><stop offset=".234" stop-color="#ed0400"/><stop offset=".252" stop-color="#960000"/><stop offset=".261" stop-color="#840000"/><stop offset=".27" stop-color="#800000"/><stop offset=".297" stop-color="#920000"/><stop offset=".324" stop-color="#ad0000"/><stop offset=".342" stop-color="#b20000"/><stop offset=".351" stop-color="#c40000"/><stop offset=".36" stop-color="#e40000"/><stop offset=".369" stop-color="#ff1e00"/><stop offset=".396" stop-color="#ff7700"/><stop offset=".414" stop-color="#ffa700"/><stop offset=".441" stop-color="#ffd000"/><stop offset=".459" stop-color="#ffde00"/><stop offset=".658" stop-color="#ffe600"/><stop offset=".82" stop-color="#f1fc06"/><stop offset="1" stop-color="#eeff09"/></linearGradient><linearGradient id="b44"><stop offset="0" stop-color="#ffa300"/><stop offset=".135" stop-color="#ff9c00"/><stop offset=".162" stop-color="#ff9400"/><stop offset=".18" stop-color="#ff8600"/><stop offset=".198" stop-color="#ff6c00"/><stop offset=".216" stop-color="#ff4700"/><stop offset=".234" stop-color="#ff1300"/><stop offset=".243" stop-color="#da0000"/><stop offset=".261" stop-color="#8d0000"/><stop offset=".27" stop-color="#800000"/><stop offset=".297" stop-color="#800000"/><stop offset=".342" stop-color="#920000"/><stop offset=".351" stop-color="#9b0000"/><stop offset=".36" stop-color="#b20000"/><stop offset=".369" stop-color="#da0000"/><stop offset=".378" stop-color="#ff1a00"/><stop offset=".387" stop-color="#ff3b00"/><stop offset=".414" stop-color="#ff8600"/><stop offset=".432" stop-color="#ffa700"/><stop offset=".459" stop-color="#ffc400"/><stop offset=".595" stop-color="#ffd300"/><stop offset=".649" stop-color="#ffd300"/><stop offset=".784" stop-color="#ffea00"/><stop offset="1" stop-color="#f8f500"/></linearGradient><linearGradient id="b45"><stop offset="0" stop-color="#ff9f00"/><stop offset=".099" stop-color="#ff9c00"/><stop offset=".153" stop-color="#ff9100"/><stop offset=".189" stop-color="#ff6f00"/><stop offset=".225" stop-color="#ff3400"/><stop offset=".234" stop-color="#ff1e00"/><stop offset=".243" stop-color="#f10800"/><stop offset=".252" stop-color="#d10000"/><stop offset=".261" stop-color="#ad0000"/><stop offset=".27" stop-color="#920000"/><stop offset=".279" stop-color="#840000"/><stop offset=".288" stop-color="#800000"/><stop offset=".351" stop-color="#8d0000"/><stop offset=".36" stop-color="#9b0000"/><stop offset=".369" stop-color="#bb0000"/><stop offset=".378" stop-color="#e80000"/><stop offset=".387" stop-color="#ff1e00"/><stop offset=".414" stop-color="#ff6c00"/><stop offset=".432" stop-color="#ff8d00"/><stop offset=".459" stop-color="#ffab00"/><stop offset=".486" stop-color="#ffb600"/><stop offset=".658" stop-color="#ffc400"/><stop offset=".856" stop-color="#ffe200"/><stop offset="1" stop-color="#ffea00"/></linearGradient><linearGradient id="b46"><stop offset="0" stop-color="#ff9c00"/><stop offset=".099" stop-color="#ff9800"/><stop offset=".144" stop-color="#ff8d00"/><stop offset=".18" stop-color="#ff6f00"/><stop offset=".216" stop-color="#ff4300"/><stop offset=".243" stop-color="#ff1300"/><stop offset=".252" stop-color="#e80000"/><stop offset=".279" stop-color="#9b0000"/><stop offset=".288" stop-color="#890000"/><stop offset=".297" stop-color="#840000"/><stop offset=".351" stop-color="#890000"/><stop offset=".36" stop-color="#920000"/><stop offset=".369" stop-color="#ad0000"/><stop offset=".378" stop-color="#d10000"/><stop offset=".387" stop-color="#f60b00"/><stop offset=".396" stop-color="#ff2500"/><stop offset=".414" stop-color="#ff5500"/><stop offset=".441" stop-color="#ff8200"/><stop offset=".468" stop-color="#ff9c00"/><stop offset=".495" stop-color="#ffa700"/><stop offset=".658" stop-color="#ffb600"/><stop offset=".874" stop-color="#ffd700"/><stop offset="1" stop-color="#ffde00"/></linearGradient><linearGradient id="b47"><stop offset="0" stop-color="#ff9c00"/><stop offset=".099" stop-color="#ff9400"/><stop offset=".135" stop-color="#ff8900"/><stop offset=".189" stop-color="#ff5d00"/><stop offset=".243" stop-color="#ff1a00"/><stop offset=".252" stop-color="#f60b00"/><stop offset=".261" stop-color="#e40000"/><stop offset=".297" stop-color="#9f0000"/><stop offset=".306" stop-color="#920000"/><stop offset=".324" stop-color="#890000"/><stop offset=".351" stop-color="#920000"/><stop offset=".36" stop-color="#9f0000"/><stop offset=".378" stop-color="#d10000"/><stop offset=".387" stop-color="#ed0400"/><stop offset=".396" stop-color="#ff1a00"/><stop offset=".423" stop-color="#ff5500"/><stop offset=".45" stop-color="#ff7a00"/><stop offset=".468" stop-color="#ff8900"/><stop offset=".514" stop-color="#ff9c00"/><stop offset=".64" stop-color="#ffa700"/><stop offset=".847" stop-color="#ffc800"/><stop offset="1" stop-color="#ffd300"/></linearGradient><linearGradient id="b48"><stop offset="0" stop-color="#ff9800"/><stop offset=".099" stop-color="#ff9100"/><stop offset=".135" stop-color="#ff8200"/><stop offset=".189" stop-color="#ff5900"/><stop offset=".252" stop-color="#ff1300"/><stop offset=".27" stop-color="#e40000"/><stop offset=".288" stop-color="#c80000"/><stop offset=".306" stop-color="#b60000"/><stop offset=".324" stop-color="#ad0000"/><stop offset=".342" stop-color="#ad0000"/><stop offset=".36" stop-color="#bf0000"/><stop offset=".378" stop-color="#df0000"/><stop offset=".387" stop-color="#f10800"/><stop offset=".396" stop-color="#ff1a00"/><stop offset=".423" stop-color="#ff4a00"/><stop offset=".45" stop-color="#ff6c00"/><stop offset=".505" stop-color="#ff8d00"/><stop offset=".667" stop-color="#ff9f00"/><stop offset=".847" stop-color="#ffbd00"/><stop offset="1" stop-color="#ffc800"/></linearGradient><linearGradient id="b49"><stop offset="0" stop-color="#ff9800"/><stop offset=".081" stop-color="#ff9100"/><stop offset=".117" stop-color="#ff8600"/><stop offset=".207" stop-color="#ff4700"/><stop offset=".252" stop-color="#ff1600"/><stop offset=".279" stop-color="#e40000"/><stop offset=".288" stop-color="#da0000"/><stop offset=".315" stop-color="#cd0000"/><stop offset=".333" stop-color="#cd0000"/><stop offset=".36" stop-color="#da0000"/><stop offset=".369" stop-color="#e40000"/><stop offset=".387" stop-color="#ff1300"/><stop offset=".441" stop-color="#ff5900"/><stop offset=".468" stop-color="#ff6f00"/><stop offset=".505" stop-color="#ff8200"/><stop offset=".784" stop-color="#ffab00"/><stop offset="1" stop-color="#ffc100"/></linearGradient><linearGradient id="b50"><stop offset="0" stop-color="#ff9400"/><stop offset=".063" stop-color="#ff9100"/><stop offset=".135" stop-color="#ff7700"/><stop offset=".189" stop-color="#ff5200"/><stop offset=".261" stop-color="#ff1300"/><stop offset=".288" stop-color="#e80000"/><stop offset=".306" stop-color="#df0000"/><stop offset=".351" stop-color="#e80000"/><stop offset=".378" stop-color="#ff1600"/><stop offset=".468" stop-color="#ff6800"/><stop offset=".523" stop-color="#ff7e00"/><stop offset=".856" stop-color="#ffab00"/><stop offset="1" stop-color="#ffb600"/></linearGradient><linearGradient id="b51"><stop offset="0" stop-color="#ff9400"/><stop offset=".081" stop-color="#ff8900"/><stop offset=".126" stop-color="#ff7700"/><stop offset=".189" stop-color="#ff5200"/><stop offset=".27" stop-color="#ff1300"/><stop offset=".306" stop-color="#ed0400"/><stop offset=".324" stop-color="#ed0400"/><stop offset=".342" stop-color="#f10800"/><stop offset=".36" stop-color="#ff1300"/><stop offset=".459" stop-color="#ff5d00"/><stop offset=".532" stop-color="#ff7a00"/><stop offset="1" stop-color="#ffae00"/></linearGradient><linearGradient id="b52"><stop offset="0" stop-color="#ff9100"/><stop offset=".036" stop-color="#ff9100"/><stop offset=".081" stop-color="#ff8600"/><stop offset=".171" stop-color="#ff5d00"/><stop offset=".261" stop-color="#ff1e00"/><stop offset=".288" stop-color="#ff1300"/><stop offset=".306" stop-color="#f60b00"/><stop offset=".324" stop-color="#f60b00"/><stop offset=".342" stop-color="#ff1300"/><stop offset=".351" stop-color="#ff1300"/><stop offset=".459" stop-color="#ff5900"/><stop offset=".523" stop-color="#ff7300"/><stop offset=".613" stop-color="#ff8200"/><stop offset="1" stop-color="#ffa700"/></linearGradient><linearGradient id="b53"><stop offset="0" stop-color="#ff9100"/><stop offset=".072" stop-color="#ff8600"/><stop offset=".189" stop-color="#ff5200"/><stop offset=".27" stop-color="#ff1e00"/><stop offset=".324" stop-color="#ff1300"/><stop offset=".369" stop-color="#ff2200"/><stop offset=".45" stop-color="#ff5200"/><stop offset=".514" stop-color="#ff6c00"/><stop offset=".559" stop-color="#ff7700"/><stop offset="1" stop-color="#ff9f00"/></linearGradient><linearGradient id="b54"><stop offset="0" stop-color="#ff9100"/><stop offset=".072" stop-color="#ff8200"/><stop offset=".144" stop-color="#ff6800"/><stop offset=".243" stop-color="#ff3000"/><stop offset=".288" stop-color="#ff1e00"/><stop offset=".324" stop-color="#ff1a00"/><stop offset=".369" stop-color="#ff2500"/><stop offset=".477" stop-color="#ff5d00"/><stop offset=".559" stop-color="#ff7300"/><stop offset="1" stop-color="#ff9800"/></linearGradient><linearGradient id="b55"><stop offset="0" stop-color="#ff8d00"/><stop offset=".036" stop-color="#ff8900"/><stop offset=".108" stop-color="#ff7300"/><stop offset=".27" stop-color="#ff2900"/><stop offset=".297" stop-color="#ff2200"/><stop offset=".342" stop-color="#ff2200"/><stop offset=".369" stop-color="#ff2900"/><stop offset=".486" stop-color="#ff5d00"/><stop offset=".577" stop-color="#ff7300"/><stop offset="1" stop-color="#ff9400"/></linearGradient><linearGradient id="b56"><stop offset="0" stop-color="#ff8d00"/><stop offset=".126" stop-color="#ff6c00"/><stop offset=".261" stop-color="#ff3000"/><stop offset=".324" stop-color="#ff2500"/><stop offset=".378" stop-color="#ff3000"/><stop offset=".486" stop-color="#ff5d00"/><stop offset=".568" stop-color="#ff6f00"/><stop offset="1" stop-color="#ff9100"/></linearGradient><linearGradient id="b57"><stop offset="0" stop-color="#ff8900"/><stop offset=".135" stop-color="#ff6800"/><stop offset=".261" stop-color="#ff3400"/><stop offset=".297" stop-color="#ff2d00"/><stop offset=".369" stop-color="#ff3000"/><stop offset=".477" stop-color="#ff5900"/><stop offset=".559" stop-color="#ff6c00"/><stop offset=".649" stop-color="#ff7700"/><stop offset="1" stop-color="#ff8900"/></linearGradient><linearGradient id="b58"><stop offset="0" stop-color="#ff8900"/><stop offset=".108" stop-color="#ff6f00"/><stop offset=".297" stop-color="#ff3000"/><stop offset=".351" stop-color="#ff3000"/><stop offset=".495" stop-color="#ff5d00"/><stop offset=".568" stop-color="#ff6c00"/><stop offset=".676" stop-color="#ff7700"/><stop offset="1" stop-color="#ff8600"/></linearGradient><linearGradient id="b59"><stop offset="0" stop-color="#ff8600"/><stop offset=".108" stop-color="#ff6f00"/><stop offset=".234" stop-color="#ff4300"/><stop offset=".297" stop-color="#ff3400"/><stop offset=".351" stop-color="#ff3400"/><stop offset=".514" stop-color="#ff6000"/><stop offset=".586" stop-color="#ff6c00"/><stop offset=".703" stop-color="#ff7700"/><stop offset="1" stop-color="#ff8200"/></linearGradient><linearGradient id="b60"><stop offset="0" stop-color="#ff8600"/><stop offset=".117" stop-color="#ff6c00"/><stop offset=".216" stop-color="#ff4a00"/><stop offset=".297" stop-color="#ff3800"/><stop offset=".378" stop-color="#ff3b00"/><stop offset=".505" stop-color="#ff5d00"/><stop offset=".622" stop-color="#ff6f00"/><stop offset="1" stop-color="#ff8200"/></linearGradient><linearGradient id="b61"><stop offset="0" stop-color="#ff8200"/><stop offset=".117" stop-color="#ff6c00"/><stop offset=".207" stop-color="#ff4e00"/><stop offset=".297" stop-color="#ff3b00"/><stop offset=".36" stop-color="#ff3b00"/><stop offset=".505" stop-color="#ff5d00"/><stop offset=".604" stop-color="#ff6c00"/><stop offset="1" stop-color="#ff7e00"/></linearGradient><linearGradient id="b62"><stop offset="0" stop-color="#ff8200"/><stop offset=".099" stop-color="#ff6f00"/><stop offset=".288" stop-color="#ff3f00"/><stop offset=".369" stop-color="#ff3f00"/><stop offset=".505" stop-color="#ff5d00"/><stop offset=".613" stop-color="#ff6c00"/><stop offset="1" stop-color="#ff7a00"/></linearGradient><linearGradient id="b63"><stop offset="0" stop-color="#ff8200"/><stop offset=".144" stop-color="#ff6400"/><stop offset=".234" stop-color="#ff4a00"/><stop offset=".315" stop-color="#ff3f00"/><stop offset=".351" stop-color="#ff3f00"/><stop offset=".505" stop-color="#ff5d00"/><stop offset=".622" stop-color="#ff6c00"/><stop offset="1" stop-color="#ff7a00"/></linearGradient><linearGradient id="b64"><stop offset="0" stop-color="#ff7e00"/><stop offset=".297" stop-color="#ff4300"/><stop offset=".369" stop-color="#ff4300"/><stop offset=".631" stop-color="#ff6c00"/><stop offset="1" stop-color="#ff7700"/></linearGradient><linearGradient id="b65"><stop offset="0" stop-color="#ff7e00"/><stop offset=".279" stop-color="#ff4700"/><stop offset=".387" stop-color="#ff4700"/><stop offset=".64" stop-color="#ff6c00"/><stop offset="1" stop-color="#ff7700"/></linearGradient><linearGradient id="b66"><stop offset="0" stop-color="#ff7e00"/><stop offset=".108" stop-color="#ff6c00"/><stop offset=".198" stop-color="#ff5500"/><stop offset=".306" stop-color="#ff4700"/><stop offset=".405" stop-color="#ff4a00"/><stop offset=".514" stop-color="#ff5d00"/><stop offset=".658" stop-color="#ff6c00"/><stop offset="1" stop-color="#ff7700"/></linearGradient><linearGradient id="b67"><stop offset="0" stop-color="#ff7e00"/><stop offset=".279" stop-color="#ff4a00"/><stop offset=".396" stop-color="#ff4a00"/><stop offset=".514" stop-color="#ff5d00"/><stop offset=".667" stop-color="#ff6c00"/><stop offset="1" stop-color="#ff7300"/></linearGradient><linearGradient id="b68"><stop offset="0" stop-color="#ff7a00"/><stop offset=".045" stop-color="#ff7700"/><stop offset=".207" stop-color="#ff5500"/><stop offset=".297" stop-color="#ff4a00"/><stop offset=".387" stop-color="#ff4a00"/><stop offset=".514" stop-color="#ff5d00"/><stop offset=".676" stop-color="#ff6c00"/><stop offset="1" stop-color="#ff7300"/></linearGradient><linearGradient id="b69"><stop offset="0" stop-color="#ff7a00"/><stop offset=".045" stop-color="#ff7700"/><stop offset=".189" stop-color="#ff5900"/><stop offset=".315" stop-color="#ff4a00"/><stop offset=".414" stop-color="#ff4e00"/><stop offset=".685" stop-color="#ff6c00"/><stop offset="1" stop-color="#ff7300"/></linearGradient><clipPath id="clipb"><rect x="41.3" y="175.2" width="112" height="70"/></clipPath></defs><g id="heat1"><g clip-path="url(#clipa)"><rect x="58" y="7.3" width="148.7" height="1.89" fill="url(#a0)"/><rect x="58" y="8.29" width="148.7" height="1.89" fill="url(#a1)"/><rect x="58" y="9.29" width="148.7" height="1.89" fill="url(#a2)"/><rect x="58" y="10.28" width="148.7" height="1.89" fill="url(#a3)"/><rect x="58" y="11.28" width="148.7" height="1.89" fill="url(#a4)"/><rect x="58" y="12.27" width="148.7" height="1.89" fill="url(#a5)"/><rect x="58" y="13.27" width="148.7" height="1.89" fill="url(#a6)"/><rect x="58" y="14.26" width="148.7" height="1.89" fill="url(#a7)"/><rect x="58" y="15.26" width="148.7" height="1.89" fill="url(#a8)"/><rect x="58" y="16.25" width="148.7" height="1.89" fill="url(#a9)"/><rect x="58" y="17.25" width="148.7" height="1.89" fill="url(#a10)"/><rect x="58" y="18.24" width="148.7" height="1.89" fill="url(#a11)"/><rect x="58" y="19.24" width="148.7" height="1.89" fill="url(#a12)"/><rect x="58" y="20.23" width="148.7" height="1.89" fill="url(#a13)"/><rect x="58" y="21.23" width="148.7" height="1.89" fill="url(#a14)"/><rect x="58" y="22.22" width="148.7" height="1.89" fill="url(#a15)"/><rect x="58" y="23.22" width="148.7" height="1.89" fill="url(#a16)"/><rect x="58" y="24.21" width="148.7" height="1.89" fill="url(#a17)"/><rect x="58" y="25.21" width="148.7" height="1.89" fill="url(#a18)"/><rect x="58" y="26.2" width="148.7" height="1.89" fill="url(#a19)"/><rect x="58" y="27.2" width="148.7" height="1.89" fill="url(#a20)"/><rect x="58" y="28.19" width="148.7" height="1.89" fill="url(#a21)"/><rect x="58" y="29.19" width="148.7" height="1.89" fill="url(#a22)"/><rect x="58" y="30.18" width="148.7" height="1.89" fill="url(#a23)"/><rect x="58" y="31.18" width="148.7" height="1.89" fill="url(#a24)"/><rect x="58" y="32.17" width="148.7" height="1.89" fill="url(#a25)"/><rect x="58" y="33.17" width="148.7" height="1.89" fill="url(#a26)"/><rect x="58" y="34.16" width="148.7" height="1.89" fill="url(#a27)"/><rect x="58" y="35.16" width="148.7" height="1.89" fill="url(#a28)"/><rect x="58" y="36.15" width="148.7" height="1.89" fill="url(#a29)"/><rect x="58" y="37.15" width="148.7" height="1.89" fill="url(#a30)"/><rect x="58" y="38.14" width="148.7" height="1.89" fill="url(#a31)"/><rect x="58" y="39.14" width="148.7" height="1.89" fill="url(#a32)"/><rect x="58" y="40.13" width="148.7" height="1.89" fill="url(#a33)"/><rect x="58" y="41.13" width="148.7" height="1.89" fill="url(#a34)"/><rect x="58" y="42.12" width="148.7" height="1.89" fill="url(#a35)"/><rect x="58" y="43.12" width="148.7" height="1.89" fill="url(#a36)"/><rect x="58" y="44.11" width="148.7" height="1.89" fill="url(#a37)"/><rect x="58" y="45.11" width="148.7" height="1.89" fill="url(#a38)"/><rect x="58" y="46.1" width="148.7" height="1.89" fill="url(#a39)"/><rect x="58" y="47.1" width="148.7" height="1.89" fill="url(#a40)"/><rect x="58" y="48.09" width="148.7" height="1.89" fill="url(#a41)"/><rect x="58" y="49.09" width="148.7" height="1.89" fill="url(#a42)"/><rect x="58" y="50.08" width="148.7" height="1.89" fill="url(#a43)"/><rect x="58" y="51.08" width="148.7" height="1.89" fill="url(#a44)"/><rect x="58" y="52.07" width="148.7" height="1.89" fill="url(#a45)"/><rect x="58" y="53.07" width="148.7" height="1.89" fill="url(#a46)"/><rect x="58" y="54.06" width="148.7" height="1.89" fill="url(#a47)"/><rect x="58" y="55.06" width="148.7" height="1.89" fill="url(#a48)"/><rect x="58" y="56.05" width="148.7" height="1.89" fill="url(#a49)"/><rect x="58" y="57.05" width="148.7" height="1.89" fill="url(#a50)"/><rect x="58" y="58.04" width="148.7" height="1.89" fill="url(#a51)"/><rect x="58" y="59.04" width="148.7" height="1.89" fill="url(#a52)"/><rect x="58" y="60.03" width="148.7" height="1.89" fill="url(#a53)"/><rect x="58" y="61.03" width="148.7" height="1.89" fill="url(#a54)"/><rect x="58" y="62.02" width="148.7" height="1.89" fill="url(#a55)"/><rect x="58" y="63.02" width="148.7" height="1.89" fill="url(#a56)"/><rect x="58" y="64.01" width="148.7" height="1.89" fill="url(#a57)"/><rect x="58" y="65.01" width="148.7" height=".99" fill="url(#a58)"/></g><polygon fill="#fff" points="57.7,46.43 58,46.43 58.78,46.43 59.57,46.43 60.35,46.46 61.14,46.55 61.92,46.71 62.71,46.98 63.49,47.37 64.28,47.9 65.06,48.52 65.85,49.23 66.63,50 67.42,50.81 68.2,51.64 68.99,52.48 69.77,53.31 70.56,54.12 71.34,54.92 72.13,55.7 72.91,56.47 73.7,57.23 74.48,57.99 75.27,58.74 76.05,59.49 76.84,60.22 77.62,60.94 78.4,61.62 79.19,62.27 79.97,62.88 80.76,63.44 81.54,63.94 82.33,64.39 83.11,64.79 83.9,65.13 84.68,65.41 85.47,65.64 86.25,65.81 87.04,65.93 87.82,65.99 88.61,66 89.39,66 57.7,66"/><polygon fill="#fff" points="207,46.43 206.7,46.43 205.92,46.43 205.13,46.43 204.35,46.46 203.56,46.55 202.78,46.71 201.99,46.98 201.21,47.37 200.42,47.9 199.64,48.52 198.85,49.23 198.07,50 197.28,50.81 196.5,51.64 195.71,52.48 194.93,53.31 194.14,54.12 193.36,54.92 192.57,55.7 191.79,56.47 191,57.23 190.22,57.99 189.43,58.74 188.65,59.49 187.86,60.22 187.08,60.94 186.3,61.62 185.51,62.27 184.73,62.88 183.94,63.44 183.16,63.94 182.37,64.39 181.59,64.79 180.8,65.13 180.02,65.41 179.23,65.64 178.45,65.81 177.66,65.93 176.88,65.99 176.09,66 175.31,66 207,66"/><polyline fill="none" stroke="#000" stroke-width=".85" points="58,46.43 58.78,46.43 59.55,46.43 60.33,46.46 61.1,46.54 61.88,46.7 62.66,46.96 63.43,47.34 64.21,47.84 64.98,48.45 65.76,49.15 66.54,49.9 67.31,50.7 68.09,51.52 68.87,52.35 69.64,53.18 70.42,53.98 71.19,54.77 71.97,55.54 72.75,56.31 73.52,57.06 74.3,57.81 75.07,58.56 75.85,59.3 76.63,60.03 77.4,60.74 78.18,61.43 78.95,62.08 79.73,62.7 80.51,63.26 81.28,63.78 82.06,64.24 82.83,64.65 83.61,65.01 84.39,65.31 85.16,65.56 85.94,65.75"/><polyline fill="none" stroke="#000" stroke-width=".85" points="206.7,46.43 205.92,46.43 205.15,46.43 204.37,46.46 203.6,46.54 202.82,46.7 202.04,46.96 201.27,47.34 200.49,47.84 199.72,48.45 198.94,49.15 198.16,49.9 197.39,50.7 196.61,51.52 195.83,52.35 195.06,53.18 194.28,53.98 193.51,54.77 192.73,55.54 191.95,56.31 191.18,57.06 190.4,57.81 189.63,58.56 188.85,59.3 188.07,60.03 187.3,60.74 186.52,61.43 185.75,62.08 184.97,62.7 184.19,63.26 183.42,63.78 182.64,64.24 181.87,64.65 181.09,65.01 180.31,65.31 179.54,65.56 178.76,65.75"/><rect x="58" y="7.3" width="148.7" height="58.7" fill="none" stroke="#000" stroke-width=".45"/><path d="M58 66v1.8" stroke="#000" stroke-width=".4"/><text x="58" y="72.6" font-size="5.6" text-anchor="middle" font-family='"DejaVu Sans","Liberation Sans",sans-serif' fill="#000" stroke="#000" stroke-width="0.14" >0</text><path d="M74.52 66v1.8" stroke="#000" stroke-width=".4"/><text x="74.52" y="72.6" font-size="5.6" text-anchor="middle" font-family='"DejaVu Sans","Liberation Sans",sans-serif' fill="#000" stroke="#000" stroke-width="0.14" >1</text><path d="M91.04 66v1.8" stroke="#000" stroke-width=".4"/><text x="91.04" y="72.6" font-size="5.6" text-anchor="middle" font-family='"DejaVu Sans","Liberation Sans",sans-serif' fill="#000" stroke="#000" stroke-width="0.14" >2</text><path d="M107.57 66v1.8" stroke="#000" stroke-width=".4"/><text x="107.57" y="72.6" font-size="5.6" text-anchor="middle" font-family='"DejaVu Sans","Liberation Sans",sans-serif' fill="#000" stroke="#000" stroke-width="0.14" >3</text><path d="M124.09 66v1.8" stroke="#000" stroke-width=".4"/><text x="124.09" y="72.6" font-size="5.6" text-anchor="middle" font-family='"DejaVu Sans","Liberation Sans",sans-serif' fill="#000" stroke="#000" stroke-width="0.14" >4</text><path d="M140.61 66v1.8" stroke="#000" stroke-width=".4"/><text x="140.61" y="72.6" font-size="5.6" text-anchor="middle" font-family='"DejaVu Sans","Liberation Sans",sans-serif' fill="#000" stroke="#000" stroke-width="0.14" >5</text><path d="M157.13 66v1.8" stroke="#000" stroke-width=".4"/><text x="157.13" y="72.6" font-size="5.6" text-anchor="middle" font-family='"DejaVu Sans","Liberation Sans",sans-serif' fill="#000" stroke="#000" stroke-width="0.14" >6</text><path d="M173.66 66v1.8" stroke="#000" stroke-width=".4"/><text x="173.66" y="72.6" font-size="5.6" text-anchor="middle" font-family='"DejaVu Sans","Liberation Sans",sans-serif' fill="#000" stroke="#000" stroke-width="0.14" >7</text><path d="M190.18 66v1.8" stroke="#000" stroke-width=".4"/><text x="190.18" y="72.6" font-size="5.6" text-anchor="middle" font-family='"DejaVu Sans","Liberation Sans",sans-serif' fill="#000" stroke="#000" stroke-width="0.14" >8</text><path d="M206.7 66v1.8" stroke="#000" stroke-width=".4"/><text x="206.7" y="72.6" font-size="5.6" text-anchor="middle" font-family='"DejaVu Sans","Liberation Sans",sans-serif' fill="#000" stroke="#000" stroke-width="0.14" >9</text><path d="M58 66h-1.8" stroke="#000" stroke-width=".4"/><text x="55.5" y="68" font-size="5.6" text-anchor="end" font-family='"DejaVu Sans","Liberation Sans",sans-serif' fill="#000" stroke="#000" stroke-width="0.14" >0</text><path d="M58 46.43h-1.8" stroke="#000" stroke-width=".4"/><text x="55.5" y="48.43" font-size="5.6" text-anchor="end" font-family='"DejaVu Sans","Liberation Sans",sans-serif' fill="#000" stroke="#000" stroke-width="0.14" >1</text><path d="M58 26.87h-1.8" stroke="#000" stroke-width=".4"/><text x="55.5" y="28.87" font-size="5.6" text-anchor="end" font-family='"DejaVu Sans","Liberation Sans",sans-serif' fill="#000" stroke="#000" stroke-width="0.14" >2</text><path d="M58 7.3h-1.8" stroke="#000" stroke-width=".4"/><text x="55.5" y="9.3" font-size="5.6" text-anchor="end" font-family='"DejaVu Sans","Liberation Sans",sans-serif' fill="#000" stroke="#000" stroke-width="0.14" >3</text><text x="132.5" y="78.3" font-size="5.2" text-anchor="middle" font-family='"DejaVu Sans","Liberation Sans",sans-serif' fill="#000" stroke="#000" stroke-width="0.14" >x/h</text><text x="0" y="0" font-size="5" text-anchor="middle" font-family='"DejaVu Sans","Liberation Sans",sans-serif' fill="#000" stroke="#000" stroke-width="0.08" transform="translate(49.8,36.8) rotate(-90)">y/h</text><rect x="209.1" y="6.9" width="3.5" height="59.1" fill="url(#jet)" stroke="#000" stroke-width=".35"/><path d="M212.6 66h1.5" stroke="#000" stroke-width=".4"/><text x="215.6" y="68" font-size="5.4" text-anchor="start" font-family='"DejaVu Sans","Liberation Sans",sans-serif' fill="#000" stroke="#000" stroke-width="0.14" >0.00</text><path d="M212.6 52.83h1.5" stroke="#000" stroke-width=".4"/><text x="215.6" y="54.83" font-size="5.4" text-anchor="start" font-family='"DejaVu Sans","Liberation Sans",sans-serif' fill="#000" stroke="#000" stroke-width="0.14" >0.25</text><path d="M212.6 39.65h1.5" stroke="#000" stroke-width=".4"/><text x="215.6" y="41.65" font-size="5.4" text-anchor="start" font-family='"DejaVu Sans","Liberation Sans",sans-serif' fill="#000" stroke="#000" stroke-width="0.14" >0.50</text><path d="M212.6 26.47h1.5" stroke="#000" stroke-width=".4"/><text x="215.6" y="28.47" font-size="5.4" text-anchor="start" font-family='"DejaVu Sans","Liberation Sans",sans-serif' fill="#000" stroke="#000" stroke-width="0.14" >0.75</text><path d="M212.6 13.3h1.5" stroke="#000" stroke-width=".4"/><text x="215.6" y="15.3" font-size="5.4" text-anchor="start" font-family='"DejaVu Sans","Liberation Sans",sans-serif' fill="#000" stroke="#000" stroke-width="0.14" >1.00</text></g><g><rect x="262.8" y="5.5" width="61.1" height="61.3" fill="#fff"/><path d="M283.17 5.5V66.8" stroke="#cfcfcf" stroke-width=".45"/><path d="M303.53 5.5V66.8" stroke="#cfcfcf" stroke-width=".45"/><path d="M262.8 61.2H323.9" stroke="#cfcfcf" stroke-width=".45"/><path d="M262.8 61.2h-1.1" stroke="#000" stroke-width=".35"/><text x="260.2" y="62.45" font-size="3.45" text-anchor="end" font-family='"DejaVu Sans","Liberation Sans",sans-serif' fill="#000" stroke="#000" stroke-width="0.15" >−0.2</text><path d="M262.8 53.55H323.9" stroke="#cfcfcf" stroke-width=".45"/><path d="M262.8 53.55h-1.1" stroke="#000" stroke-width=".35"/><text x="260.2" y="54.8" font-size="3.45" text-anchor="end" font-family='"DejaVu Sans","Liberation Sans",sans-serif' fill="#000" stroke="#000" stroke-width="0.15" >0.0</text><path d="M262.8 45.9H323.9" stroke="#cfcfcf" stroke-width=".45"/><path d="M262.8 45.9h-1.1" stroke="#000" stroke-width=".35"/><text x="260.2" y="47.15" font-size="3.45" text-anchor="end" font-family='"DejaVu Sans","Liberation Sans",sans-serif' fill="#000" stroke="#000" stroke-width="0.15" >0.2</text><path d="M262.8 38.25H323.9" stroke="#cfcfcf" stroke-width=".45"/><path d="M262.8 38.25h-1.1" stroke="#000" stroke-width=".35"/><text x="260.2" y="39.5" font-size="3.45" text-anchor="end" font-family='"DejaVu Sans","Liberation Sans",sans-serif' fill="#000" stroke="#000" stroke-width="0.15" >0.4</text><path d="M262.8 30.6H323.9" stroke="#cfcfcf" stroke-width=".45"/><path d="M262.8 30.6h-1.1" stroke="#000" stroke-width=".35"/><text x="260.2" y="31.85" font-size="3.45" text-anchor="end" font-family='"DejaVu Sans","Liberation Sans",sans-serif' fill="#000" stroke="#000" stroke-width="0.15" >0.6</text><path d="M262.8 22.95H323.9" stroke="#cfcfcf" stroke-width=".45"/><path d="M262.8 22.95h-1.1" stroke="#000" stroke-width=".35"/><text x="260.2" y="24.2" font-size="3.45" text-anchor="end" font-family='"DejaVu Sans","Liberation Sans",sans-serif' fill="#000" stroke="#000" stroke-width="0.15" >0.8</text><path d="M262.8 15.3H323.9" stroke="#cfcfcf" stroke-width=".45"/><path d="M262.8 15.3h-1.1" stroke="#000" stroke-width=".35"/><text x="260.2" y="16.55" font-size="3.45" text-anchor="end" font-family='"DejaVu Sans","Liberation Sans",sans-serif' fill="#000" stroke="#000" stroke-width="0.15" >1.0</text><path d="M262.8 7.65H323.9" stroke="#cfcfcf" stroke-width=".45"/><path d="M262.8 7.65h-1.1" stroke="#000" stroke-width=".35"/><text x="260.2" y="8.9" font-size="3.45" text-anchor="end" font-family='"DejaVu Sans","Liberation Sans",sans-serif' fill="#000" stroke="#000" stroke-width="0.15" >1.2</text><path d="M262.8 66.8v1.5" stroke="#000" stroke-width=".35"/><text x="262.8" y="71.8" font-size="3.45" text-anchor="middle" font-family='"DejaVu Sans","Liberation Sans",sans-serif' fill="#000" stroke="#000" stroke-width="0.15" >0</text><path d="M283.17 66.8v1.5" stroke="#000" stroke-width=".35"/><text x="283.17" y="71.8" font-size="3.45" text-anchor="middle" font-family='"DejaVu Sans","Liberation Sans",sans-serif' fill="#000" stroke="#000" stroke-width="0.15" >1</text><path d="M303.53 66.8v1.5" stroke="#000" stroke-width=".35"/><text x="303.53" y="71.8" font-size="3.45" text-anchor="middle" font-family='"DejaVu Sans","Liberation Sans",sans-serif' fill="#000" stroke="#000" stroke-width="0.15" >2</text><path d="M323.9 66.8v1.5" stroke="#000" stroke-width=".35"/><text x="323.9" y="71.8" font-size="3.45" text-anchor="middle" font-family='"DejaVu Sans","Liberation Sans",sans-serif' fill="#000" stroke="#000" stroke-width="0.15" >3</text><clipPath id="cp262"><rect x="262.8" y="5.5" width="61.1" height="61.3"/></clipPath><g clip-path="url(#cp262)"><polygon points="262.8,58.23 263.48,58.99 264.16,59.53 264.84,59.87 265.52,60.02 266.19,60.02 266.87,59.85 267.55,59.55 268.23,59.16 268.91,58.7 269.59,58.19 270.27,57.65 270.95,57.07 271.63,56.3 272.3,55.36 272.98,54.26 273.66,53.03 274.34,51.71 275.02,50.32 275.7,48.9 276.38,47.45 277.06,45.92 277.74,44.28 278.41,42.56 279.09,40.78 279.77,38.97 280.45,37.14 281.13,35.33 281.81,33.56 282.49,31.8 283.17,29.98 283.85,28.2 284.52,26.54 285.2,25.04 285.88,23.57 286.56,22.14 287.24,20.77 287.92,19.51 288.6,18.37 289.28,17.38 289.96,16.44 290.63,15.52 291.31,14.62 291.99,13.77 292.67,12.98 293.35,12.29 294.03,11.69 294.71,11.15 295.39,10.71 296.07,10.38 296.74,10.17 297.42,10.08 298.1,10.11 298.78,10.24 299.46,10.45 300.14,10.7 300.82,10.96 301.5,11.2 302.18,11.42 302.85,11.58 303.53,11.69 304.21,11.74 304.89,11.71 305.57,11.62 306.25,11.46 306.93,11.24 307.61,10.94 308.29,10.58 308.96,10.15 309.64,9.66 310.32,9.15 311,8.62 311.68,8.11 312.36,7.64 313.04,7.23 313.72,6.92 314.4,6.71 315.07,6.63 315.75,6.69 316.43,6.87 317.11,7.17 317.79,7.58 318.47,8.07 319.15,8.63 319.83,9.37 320.51,10.31 321.18,11.41 321.86,12.63 322.54,13.93 323.22,15.68 323.9,17.8 323.9,20.45 323.22,18.83 322.54,17.65 321.86,16.98 321.18,16.47 320.51,16.11 319.83,15.93 319.15,15.94 318.47,16.08 317.79,16.21 317.11,16.3 316.43,16.36 315.75,16.37 315.07,16.33 314.4,16.25 313.72,16.13 313.04,15.97 312.36,15.78 311.68,15.57 311,15.34 310.32,15.11 309.64,14.88 308.96,14.67 308.29,14.48 307.61,14.3 306.93,14.15 306.25,14.05 305.57,14.01 304.89,14.02 304.21,14.09 303.53,14.22 302.85,14.43 302.18,14.69 301.5,15.02 300.82,15.39 300.14,15.79 299.46,16.21 298.78,16.62 298.1,17.01 297.42,17.36 296.74,17.66 296.07,17.9 295.39,18.07 294.71,18.19 294.03,18.26 293.35,18.31 292.67,18.39 291.99,18.57 291.31,18.86 290.63,19.26 289.96,19.76 289.28,20.38 288.6,21.14 287.92,22.12 287.24,23.29 286.56,24.6 285.88,26.02 285.2,27.5 284.52,29 283.85,30.67 283.17,32.45 282.49,34.25 281.81,35.97 281.13,37.69 280.45,39.43 279.77,41.17 279.09,42.89 278.41,44.57 277.74,46.18 277.06,47.71 276.38,49.14 275.7,50.48 275.02,51.83 274.34,53.15 273.66,54.44 272.98,55.68 272.3,56.87 271.63,58 270.95,59.04 270.27,59.99 269.59,60.97 268.91,61.93 268.23,62.8 267.55,63.47 266.87,63.86 266.19,63.91 265.52,63.62 264.84,63.04 264.16,62.22 263.48,61.21 262.8,60.04" fill="#9ed6ea" fill-opacity=".7"/><polyline points="262.8,59.13 263.48,60.06 264.16,60.81 264.84,61.35 265.52,61.69 266.19,61.8 266.87,61.66 267.55,61.28 268.23,60.72 268.91,60.04 269.59,59.27 270.27,58.49 270.95,57.7 271.63,56.78 272.3,55.72 272.98,54.56 273.66,53.31 274.34,51.99 275.02,50.63 275.7,49.24 276.38,47.84 277.06,46.36 277.74,44.78 278.41,43.11 279.09,41.39 279.77,39.63 280.45,37.85 281.13,36.09 281.81,34.36 282.49,32.63 283.17,30.84 283.85,29.08 284.52,27.44 285.2,25.96 285.88,24.52 286.56,23.12 287.24,21.81 287.92,20.62 288.6,19.59 289.28,18.75 289.96,18.01 290.63,17.32 291.31,16.71 291.99,16.18 292.67,15.73 293.35,15.37 294.03,15.08 294.71,14.81 295.39,14.56 296.07,14.34 296.74,14.15 297.42,13.98 298.1,13.85 298.78,13.74 299.46,13.67 300.14,13.6 300.82,13.55 301.5,13.51 302.18,13.47 302.85,13.43 303.53,13.39 304.21,13.36 304.89,13.32 305.57,13.27 306.25,13.22 306.93,13.15 307.61,13.08 308.29,12.98 308.96,12.85 309.64,12.71 310.32,12.55 311,12.39 311.68,12.23 312.36,12.08 313.04,11.95 313.72,11.85 314.4,11.78 315.07,11.75 315.75,11.77 316.43,11.83 317.11,11.92 317.79,12.05 318.47,12.2 319.15,12.38 319.83,12.71 320.51,13.23 321.18,13.93 321.86,14.76 322.54,15.71 323.22,17.14 323.9,18.98" fill="none" stroke="#2ca02c" stroke-width="1.25" stroke-linejoin="round"/><polyline points="262.8,59.13 263.48,60.1 264.16,60.87 264.84,61.45 265.52,61.82 266.19,61.96 266.87,61.86 267.55,61.51 268.23,60.98 268.91,60.32 269.59,59.58 270.27,58.82 270.95,58.05 271.63,57.15 272.3,56.12 272.98,54.97 273.66,53.73 274.34,52.43 275.02,51.07 275.7,49.69 276.38,48.3 277.06,46.82 277.74,45.23 278.41,43.57 279.09,41.84 279.77,40.07 280.45,38.29 281.13,36.51 281.81,34.77 282.49,33.02 283.17,31.21 283.85,29.43 284.52,27.77 285.2,26.27 285.88,24.79 286.56,23.37 287.24,22.03 287.92,20.81 288.6,19.75 289.28,18.88 289.96,18.1 290.63,17.39 291.31,16.74 291.99,16.17 292.67,15.69 293.35,15.3 294.03,14.97 294.71,14.67 295.39,14.39 296.07,14.14 296.74,13.92 297.42,13.72 298.1,13.56 298.78,13.43 299.46,13.33 300.14,13.25 300.82,13.17 301.5,13.11 302.18,13.06 302.85,13.01 303.53,12.96 304.21,12.91 304.89,12.87 305.57,12.81 306.25,12.76 306.93,12.7 307.61,12.62 308.29,12.53 308.96,12.41 309.64,12.27 310.32,12.13 311,11.98 311.68,11.84 312.36,11.71 313.04,11.6 313.72,11.52 314.4,11.48 315.07,11.48 315.75,11.53 316.43,11.61 317.11,11.74 317.79,11.89 318.47,12.08 319.15,12.29 319.83,12.65 320.51,13.21 321.18,13.94 321.86,14.81 322.54,15.79 323.22,17.25 323.9,19.12" fill="none" stroke="#1a2fe0" stroke-width="1.05" stroke-linejoin="round"/><polyline points="262.8,59.13 263.48,60.1 264.16,60.87 264.84,61.45 265.52,61.82 266.19,61.96 266.87,61.86 267.55,61.51 268.23,60.98 268.91,60.32 269.59,59.58 270.27,58.82 270.95,58.05 271.63,57.15 272.3,56.12 272.98,54.97 273.66,53.73 274.34,52.43 275.02,51.07 275.7,49.69 276.38,48.3 277.06,46.82 277.74,45.23 278.41,43.57 279.09,41.84 279.77,40.07 280.45,38.29 281.13,36.51 281.81,34.77 282.49,33.02 283.17,31.21 283.85,29.43 284.52,27.77 285.2,26.27 285.88,24.79 286.56,23.37 287.24,22.03 287.92,20.81 288.6,19.75 289.28,18.88 289.96,18.1 290.63,17.39 291.31,16.74 291.99,16.17 292.67,15.69 293.35,15.3 294.03,14.97 294.71,14.67 295.39,14.39 296.07,14.14 296.74,13.92 297.42,13.72 298.1,13.56 298.78,13.43 299.46,13.33 300.14,13.25 300.82,13.17 301.5,13.11 302.18,13.06 302.85,13.01 303.53,12.96 304.21,12.91 304.89,12.87 305.57,12.81 306.25,12.76 306.93,12.7 307.61,12.62 308.29,12.53 308.96,12.41 309.64,12.27 310.32,12.13 311,11.98 311.68,11.84 312.36,11.71 313.04,11.6 313.72,11.52 314.4,11.48 315.07,11.48 315.75,11.53 316.43,11.61 317.11,11.74 317.79,11.89 318.47,12.08 319.15,12.29 319.83,12.65 320.51,13.21 321.18,13.94 321.86,14.81 322.54,15.79 323.22,17.25 323.9,19.12" fill="none" stroke="#2ca02c" stroke-width=".75" stroke-dasharray="1.2 1.5" stroke-linejoin="round"/></g><rect x="262.8" y="5.5" width="61.1" height="61.3" fill="none" stroke="#222" stroke-width=".55"/><text x="293.35" y="3.7" font-size="4.05" text-anchor="middle" font-family='"DejaVu Sans","Liberation Sans",sans-serif' fill="#222" stroke="#222" stroke-width="0.06" >Location x/h=2.00</text><text x="293.35" y="77" font-size="3.5" text-anchor="middle" font-family='"DejaVu Sans","Liberation Sans",sans-serif' fill="#000" stroke="#000" stroke-width="0.15" >y/h</text><text x="0" y="0" font-size="4" text-anchor="middle" font-family='"DejaVu Sans","Liberation Sans",sans-serif' fill="#000" stroke="#000" stroke-width="0.1" transform="translate(249.8,35.6) rotate(-90)">u/U<tspan font-size="2.9" dy=".8">b</tspan></text></g><g><rect x="343.3" y="5.5" width="61.5" height="61.3" fill="#fff"/><path d="M363.8 5.5V66.8" stroke="#cfcfcf" stroke-width=".45"/><path d="M384.3 5.5V66.8" stroke="#cfcfcf" stroke-width=".45"/><path d="M343.3 61.2H404.8" stroke="#cfcfcf" stroke-width=".45"/><path d="M343.3 61.2h-1.1" stroke="#000" stroke-width=".35"/><text x="340.7" y="62.45" font-size="3.45" text-anchor="end" font-family='"DejaVu Sans","Liberation Sans",sans-serif' fill="#000" stroke="#000" stroke-width="0.15" >−0.2</text><path d="M343.3 53.55H404.8" stroke="#cfcfcf" stroke-width=".45"/><path d="M343.3 53.55h-1.1" stroke="#000" stroke-width=".35"/><text x="340.7" y="54.8" font-size="3.45" text-anchor="end" font-family='"DejaVu Sans","Liberation Sans",sans-serif' fill="#000" stroke="#000" stroke-width="0.15" >0.0</text><path d="M343.3 45.9H404.8" stroke="#cfcfcf" stroke-width=".45"/><path d="M343.3 45.9h-1.1" stroke="#000" stroke-width=".35"/><text x="340.7" y="47.15" font-size="3.45" text-anchor="end" font-family='"DejaVu Sans","Liberation Sans",sans-serif' fill="#000" stroke="#000" stroke-width="0.15" >0.2</text><path d="M343.3 38.25H404.8" stroke="#cfcfcf" stroke-width=".45"/><path d="M343.3 38.25h-1.1" stroke="#000" stroke-width=".35"/><text x="340.7" y="39.5" font-size="3.45" text-anchor="end" font-family='"DejaVu Sans","Liberation Sans",sans-serif' fill="#000" stroke="#000" stroke-width="0.15" >0.4</text><path d="M343.3 30.6H404.8" stroke="#cfcfcf" stroke-width=".45"/><path d="M343.3 30.6h-1.1" stroke="#000" stroke-width=".35"/><text x="340.7" y="31.85" font-size="3.45" text-anchor="end" font-family='"DejaVu Sans","Liberation Sans",sans-serif' fill="#000" stroke="#000" stroke-width="0.15" >0.6</text><path d="M343.3 22.95H404.8" stroke="#cfcfcf" stroke-width=".45"/><path d="M343.3 22.95h-1.1" stroke="#000" stroke-width=".35"/><text x="340.7" y="24.2" font-size="3.45" text-anchor="end" font-family='"DejaVu Sans","Liberation Sans",sans-serif' fill="#000" stroke="#000" stroke-width="0.15" >0.8</text><path d="M343.3 15.3H404.8" stroke="#cfcfcf" stroke-width=".45"/><path d="M343.3 15.3h-1.1" stroke="#000" stroke-width=".35"/><text x="340.7" y="16.55" font-size="3.45" text-anchor="end" font-family='"DejaVu Sans","Liberation Sans",sans-serif' fill="#000" stroke="#000" stroke-width="0.15" >1.0</text><path d="M343.3 7.65H404.8" stroke="#cfcfcf" stroke-width=".45"/><path d="M343.3 7.65h-1.1" stroke="#000" stroke-width=".35"/><text x="340.7" y="8.9" font-size="3.45" text-anchor="end" font-family='"DejaVu Sans","Liberation Sans",sans-serif' fill="#000" stroke="#000" stroke-width="0.15" >1.2</text><path d="M343.3 66.8v1.5" stroke="#000" stroke-width=".35"/><text x="343.3" y="71.8" font-size="3.45" text-anchor="middle" font-family='"DejaVu Sans","Liberation Sans",sans-serif' fill="#000" stroke="#000" stroke-width="0.15" >0</text><path d="M363.8 66.8v1.5" stroke="#000" stroke-width=".35"/><text x="363.8" y="71.8" font-size="3.45" text-anchor="middle" font-family='"DejaVu Sans","Liberation Sans",sans-serif' fill="#000" stroke="#000" stroke-width="0.15" >1</text><path d="M384.3 66.8v1.5" stroke="#000" stroke-width=".35"/><text x="384.3" y="71.8" font-size="3.45" text-anchor="middle" font-family='"DejaVu Sans","Liberation Sans",sans-serif' fill="#000" stroke="#000" stroke-width="0.15" >2</text><path d="M404.8 66.8v1.5" stroke="#000" stroke-width=".35"/><text x="404.8" y="71.8" font-size="3.45" text-anchor="middle" font-family='"DejaVu Sans","Liberation Sans",sans-serif' fill="#000" stroke="#000" stroke-width="0.15" >3</text><clipPath id="cp343"><rect x="343.3" y="5.5" width="61.5" height="61.3"/></clipPath><g clip-path="url(#cp343)"><polygon points="343.3,55.76 343.98,54.98 344.67,54.18 345.35,53.35 346.03,52.5 346.72,51.63 347.4,50.74 348.08,49.83 348.77,48.9 349.45,47.95 350.13,46.98 350.82,45.98 351.5,44.93 352.18,43.84 352.87,42.71 353.55,41.55 354.23,40.38 354.92,39.21 355.6,38.04 356.28,36.9 356.97,35.79 357.65,34.71 358.33,33.67 359.02,32.62 359.7,31.59 360.38,30.57 361.07,29.57 361.75,28.59 362.43,27.64 363.12,26.72 363.8,25.84 364.48,25 365.17,24.2 365.85,23.4 366.53,22.6 367.22,21.81 367.9,21.05 368.58,20.32 369.27,19.63 369.95,18.99 370.63,18.41 371.32,17.89 372,17.45 372.68,17.05 373.37,16.65 374.05,16.24 374.73,15.82 375.42,15.39 376.1,14.97 376.78,14.54 377.47,14.14 378.15,13.78 378.83,13.46 379.52,13.21 380.2,13.03 380.88,12.93 381.57,12.9 382.25,12.93 382.93,13.01 383.62,13.1 384.3,13.2 384.98,13.29 385.67,13.34 386.35,13.34 387.03,13.29 387.72,13.18 388.4,13.01 389.08,12.76 389.77,12.44 390.45,12.06 391.13,11.64 391.82,11.18 392.5,10.71 393.18,10.25 393.87,9.82 394.55,9.45 395.23,9.16 395.92,8.98 396.6,8.91 397.28,9.01 397.97,9.3 398.65,9.75 399.33,10.33 400.02,11.01 400.7,11.74 401.38,12.64 402.07,13.8 402.75,15.2 403.43,16.81 404.12,19.01 404.8,22.07 404.8,23.83 404.12,21.1 403.43,19.31 402.75,18.18 402.07,17.35 401.38,16.8 400.7,16.56 400.02,16.49 399.33,16.43 398.65,16.39 397.97,16.36 397.28,16.34 396.6,16.33 395.92,16.3 395.23,16.22 394.55,16.09 393.87,15.92 393.18,15.73 392.5,15.55 391.82,15.37 391.13,15.22 390.45,15.12 389.77,15.05 389.08,15.04 388.4,15.07 387.72,15.14 387.03,15.27 386.35,15.44 385.67,15.67 384.98,15.93 384.3,16.22 383.62,16.54 382.93,16.86 382.25,17.17 381.57,17.45 380.88,17.68 380.2,17.86 379.52,17.99 378.83,18.07 378.15,18.12 377.47,18.13 376.78,18.15 376.1,18.17 375.42,18.23 374.73,18.33 374.05,18.48 373.37,18.69 372.68,18.95 372,19.27 371.32,19.67 370.63,20.18 369.95,20.78 369.27,21.45 368.58,22.18 367.9,22.96 367.22,23.76 366.53,24.59 365.85,25.42 365.17,26.25 364.48,27.06 363.8,27.91 363.12,28.78 362.43,29.68 361.75,30.61 361.07,31.55 360.38,32.51 359.7,33.49 359.02,34.46 358.33,35.45 357.65,36.43 356.97,37.44 356.28,38.49 355.6,39.57 354.92,40.67 354.23,41.78 353.55,42.89 352.87,43.99 352.18,45.07 351.5,46.12 350.82,47.13 350.13,48.09 349.45,49.03 348.77,49.95 348.08,50.86 347.4,51.75 346.72,52.62 346.03,53.48 345.35,54.31 344.67,55.13 343.98,55.92 343.3,56.7" fill="#9ed6ea" fill-opacity=".7"/><polyline points="343.3,56.23 343.98,55.45 344.67,54.65 345.35,53.83 346.03,52.99 346.72,52.13 347.4,51.24 348.08,50.34 348.77,49.42 349.45,48.49 350.13,47.53 350.82,46.55 351.5,45.53 352.18,44.46 352.87,43.35 353.55,42.22 354.23,41.08 354.92,39.94 355.6,38.81 356.28,37.69 356.97,36.61 357.65,35.57 358.33,34.56 359.02,33.54 359.7,32.54 360.38,31.54 361.07,30.56 361.75,29.6 362.43,28.66 363.12,27.75 363.8,26.87 364.48,26.03 365.17,25.23 365.85,24.41 366.53,23.6 367.22,22.79 367.9,22 368.58,21.25 369.27,20.54 369.95,19.88 370.63,19.29 371.32,18.78 372,18.36 372.68,18 373.37,17.67 374.05,17.36 374.73,17.08 375.42,16.81 376.1,16.57 376.78,16.35 377.47,16.14 378.15,15.95 378.83,15.77 379.52,15.6 380.2,15.45 380.88,15.31 381.57,15.17 382.25,15.05 382.93,14.93 383.62,14.82 384.3,14.71 384.98,14.61 385.67,14.5 386.35,14.39 387.03,14.28 387.72,14.16 388.4,14.04 389.08,13.9 389.77,13.75 390.45,13.59 391.13,13.43 391.82,13.28 392.5,13.13 393.18,12.99 393.87,12.87 394.55,12.77 395.23,12.69 395.92,12.64 396.6,12.62 397.28,12.68 397.97,12.83 398.65,13.07 399.33,13.38 400.02,13.75 400.7,14.15 401.38,14.72 402.07,15.58 402.75,16.69 403.43,18.06 404.12,20.06 404.8,22.95" fill="none" stroke="#2ca02c" stroke-width="1.25" stroke-linejoin="round"/><polyline points="343.3,56.23 343.98,55.45 344.67,54.65 345.35,53.83 346.03,52.99 346.72,52.13 347.4,51.24 348.08,50.34 348.77,49.42 349.45,48.49 350.13,47.53 350.82,46.55 351.5,45.53 352.18,44.46 352.87,43.35 353.55,42.22 354.23,41.08 354.92,39.94 355.6,38.81 356.28,37.69 356.97,36.61 357.65,35.57 358.33,34.56 359.02,33.54 359.7,32.54 360.38,31.54 361.07,30.56 361.75,29.6 362.43,28.66 363.12,27.75 363.8,26.87 364.48,26.03 365.17,25.23 365.85,24.41 366.53,23.6 367.22,22.79 367.9,22 368.58,21.25 369.27,20.54 369.95,19.88 370.63,19.29 371.32,18.78 372,18.36 372.68,18 373.37,17.67 374.05,17.36 374.73,17.08 375.42,16.81 376.1,16.57 376.78,16.35 377.47,16.14 378.15,15.95 378.83,15.77 379.52,15.6 380.2,15.45 380.88,15.31 381.57,15.17 382.25,15.05 382.93,14.93 383.62,14.82 384.3,14.71 384.98,14.61 385.67,14.5 386.35,14.39 387.03,14.28 387.72,14.16 388.4,14.04 389.08,13.9 389.77,13.75 390.45,13.59 391.13,13.43 391.82,13.28 392.5,13.13 393.18,12.99 393.87,12.87 394.55,12.77 395.23,12.69 395.92,12.64 396.6,12.62 397.28,12.68 397.97,12.83 398.65,13.07 399.33,13.38 400.02,13.75 400.7,14.15 401.38,14.72 402.07,15.58 402.75,16.69 403.43,18.06 404.12,20.06 404.8,22.95" fill="none" stroke="#1a2fe0" stroke-width="1.05" stroke-linejoin="round"/><polyline points="343.3,56.23 343.98,55.45 344.67,54.65 345.35,53.83 346.03,52.99 346.72,52.13 347.4,51.25 348.08,50.34 348.77,49.43 349.45,48.49 350.13,47.53 350.82,46.56 351.5,45.53 352.18,44.46 352.87,43.36 353.55,42.24 354.23,41.1 354.92,39.96 355.6,38.84 356.28,37.73 356.97,36.66 357.65,35.64 358.33,34.64 359.02,33.65 359.7,32.67 360.38,31.71 361.07,30.76 361.75,29.84 362.43,28.95 363.12,28.1 363.8,27.28 364.48,26.51 365.17,25.78 365.85,25.05 366.53,24.32 367.22,23.6 367.9,22.91 368.58,22.25 369.27,21.64 369.95,21.08 370.63,20.59 371.32,20.17 372,19.83 372.68,19.54 373.37,19.27 374.05,19.01 374.73,18.77 375.42,18.53 376.1,18.29 376.78,18.06 377.47,17.83 378.15,17.6 378.83,17.37 379.52,17.14 380.2,16.91 380.88,16.69 381.57,16.47 382.25,16.25 382.93,16.04 383.62,15.83 384.3,15.62 384.98,15.42 385.67,15.22 386.35,15.03 387.03,14.83 387.72,14.64 388.4,14.45 389.08,14.24 389.77,14.04 390.45,13.83 391.13,13.63 391.82,13.44 392.5,13.26 393.18,13.1 393.87,12.96 394.55,12.84 395.23,12.74 395.92,12.68 396.6,12.65 397.28,12.7 397.97,12.85 398.65,13.09 399.33,13.39 400.02,13.75 400.7,14.16 401.38,14.73 402.07,15.58 402.75,16.7 403.43,18.06 404.12,20.06 404.8,22.95" fill="none" stroke="#2ca02c" stroke-width=".75" stroke-dasharray="1.2 1.5" stroke-linejoin="round"/></g><rect x="343.3" y="5.5" width="61.5" height="61.3" fill="none" stroke="#222" stroke-width=".55"/><text x="374.05" y="3.7" font-size="4.05" text-anchor="middle" font-family='"DejaVu Sans","Liberation Sans",sans-serif' fill="#222" stroke="#222" stroke-width="0.06" >Location x/h=3.00</text><text x="374.05" y="77" font-size="3.5" text-anchor="middle" font-family='"DejaVu Sans","Liberation Sans",sans-serif' fill="#000" stroke="#000" stroke-width="0.15" >y/h</text><text x="0" y="0" font-size="4" text-anchor="middle" font-family='"DejaVu Sans","Liberation Sans",sans-serif' fill="#000" stroke="#000" stroke-width="0.1" transform="translate(330.2,35.6) rotate(-90)">u/U<tspan font-size="2.9" dy=".8">b</tspan></text></g><g id="nn"><path d="M33.8 112.75L65.2 81.25M33.8 112.75L65.2 91.75M33.8 112.75L65.2 102.25M33.8 112.75L65.2 112.75M33.8 112.75L65.2 123.25M33.8 112.75L65.2 133.75M33.8 112.75L65.2 144.25M33.8 112.75L65.2 154.75M33.8 123.25L65.2 81.25M33.8 123.25L65.2 91.75M33.8 123.25L65.2 102.25M33.8 123.25L65.2 112.75M33.8 123.25L65.2 123.25M33.8 123.25L65.2 133.75M33.8 123.25L65.2 144.25M33.8 123.25L65.2 154.75" stroke="#000" stroke-opacity="0.42" stroke-width="0.28" fill="none"/><path d="M65.2 81.25L96.3 81.25M65.2 81.25L96.3 91.75M65.2 81.25L96.3 102.25M65.2 81.25L96.3 112.75M65.2 81.25L96.3 123.25M65.2 81.25L96.3 133.75M65.2 81.25L96.3 144.25M65.2 81.25L96.3 154.75M65.2 91.75L96.3 81.25M65.2 91.75L96.3 91.75M65.2 91.75L96.3 102.25M65.2 91.75L96.3 112.75M65.2 91.75L96.3 123.25M65.2 91.75L96.3 133.75M65.2 91.75L96.3 144.25M65.2 91.75L96.3 154.75M65.2 102.25L96.3 81.25M65.2 102.25L96.3 91.75M65.2 102.25L96.3 102.25M65.2 102.25L96.3 112.75M65.2 102.25L96.3 123.25M65.2 102.25L96.3 133.75M65.2 102.25L96.3 144.25M65.2 102.25L96.3 154.75M65.2 112.75L96.3 81.25M65.2 112.75L96.3 91.75M65.2 112.75L96.3 102.25M65.2 112.75L96.3 112.75M65.2 112.75L96.3 123.25M65.2 112.75L96.3 133.75M65.2 112.75L96.3 144.25M65.2 112.75L96.3 154.75M65.2 123.25L96.3 81.25M65.2 123.25L96.3 91.75M65.2 123.25L96.3 102.25M65.2 123.25L96.3 112.75M65.2 123.25L96.3 123.25M65.2 123.25L96.3 133.75M65.2 123.25L96.3 144.25M65.2 123.25L96.3 154.75M65.2 133.75L96.3 81.25M65.2 133.75L96.3 91.75M65.2 133.75L96.3 102.25M65.2 133.75L96.3 112.75M65.2 133.75L96.3 123.25M65.2 133.75L96.3 133.75M65.2 133.75L96.3 144.25M65.2 133.75L96.3 154.75M65.2 144.25L96.3 81.25M65.2 144.25L96.3 91.75M65.2 144.25L96.3 102.25M65.2 144.25L96.3 112.75M65.2 144.25L96.3 123.25M65.2 144.25L96.3 133.75M65.2 144.25L96.3 144.25M65.2 144.25L96.3 154.75M65.2 154.75L96.3 81.25M65.2 154.75L96.3 91.75M65.2 154.75L96.3 102.25M65.2 154.75L96.3 112.75M65.2 154.75L96.3 123.25M65.2 154.75L96.3 133.75M65.2 154.75L96.3 144.25M65.2 154.75L96.3 154.75" stroke="#000" stroke-opacity="0.46" stroke-width="0.28" fill="none"/><path d="M138 81.25L169.5 92M138 81.25L169.5 102.5M138 81.25L169.5 113M138 81.25L169.5 123.5M138 81.25L169.5 134M138 81.25L169.5 144.5M138 91.75L169.5 92M138 91.75L169.5 102.5M138 91.75L169.5 113M138 91.75L169.5 123.5M138 91.75L169.5 134M138 91.75L169.5 144.5M138 102.25L169.5 92M138 102.25L169.5 102.5M138 102.25L169.5 113M138 102.25L169.5 123.5M138 102.25L169.5 134M138 102.25L169.5 144.5M138 112.75L169.5 92M138 112.75L169.5 102.5M138 112.75L169.5 113M138 112.75L169.5 123.5M138 112.75L169.5 134M138 112.75L169.5 144.5M138 123.25L169.5 92M138 123.25L169.5 102.5M138 123.25L169.5 113M138 123.25L169.5 123.5M138 123.25L169.5 134M138 123.25L169.5 144.5M138 133.75L169.5 92M138 133.75L169.5 102.5M138 133.75L169.5 113M138 133.75L169.5 123.5M138 133.75L169.5 134M138 133.75L169.5 144.5M138 144.25L169.5 92M138 144.25L169.5 102.5M138 144.25L169.5 113M138 144.25L169.5 123.5M138 144.25L169.5 134M138 144.25L169.5 144.5M138 154.75L169.5 92M138 154.75L169.5 102.5M138 154.75L169.5 113M138 154.75L169.5 123.5M138 154.75L169.5 134M138 154.75L169.5 144.5" stroke="#000" stroke-opacity="0.44" stroke-width="0.28" fill="none"/><path d="M169.5 92L200.8 97M169.5 92L200.8 118M169.5 92L200.8 139M169.5 102.5L200.8 97M169.5 102.5L200.8 118M169.5 102.5L200.8 139M169.5 113L200.8 97M169.5 113L200.8 118M169.5 113L200.8 139M169.5 123.5L200.8 97M169.5 123.5L200.8 118M169.5 123.5L200.8 139M169.5 134L200.8 97M169.5 134L200.8 118M169.5 134L200.8 139M169.5 144.5L200.8 97M169.5 144.5L200.8 118M169.5 144.5L200.8 139" stroke="#000" stroke-opacity="0.32" stroke-width="0.3" fill="none"/><path d="M200.8 97L232 97M200.8 97L232 118M200.8 97L232 139M200.8 118L232 97M200.8 118L232 118M200.8 118L232 139M200.8 139L232 97M200.8 139L232 118M200.8 139L232 139" stroke="#000" stroke-opacity="0.3" stroke-width="0.3" fill="none"/><path d="M232 97L262 97M232 97L262 118M232 97L262 139M232 118L262 97M232 118L262 118M232 118L262 139M232 139L262 97M232 139L262 118M232 139L262 139" stroke="#000" stroke-opacity="0.3" stroke-width="0.3" fill="none"/><path d="M40 125H59" stroke="#e9a58c" stroke-width=".35"/><polygon points="43.9,125 43.9,124.86 44.18,124.78 44.46,124.66 44.74,124.49 45.02,124.25 45.3,123.94 45.58,123.52 45.86,122.98 46.14,122.31 46.42,121.5 46.7,120.55 46.98,119.46 47.26,118.27 47.54,117.01 47.82,115.73 48.1,114.49 48.38,113.34 48.66,112.37 48.94,111.63 49.22,111.16 49.5,111 49.78,111.16 50.06,111.63 50.34,112.37 50.62,113.34 50.9,114.49 51.18,115.73 51.46,117.01 51.74,118.27 52.02,119.46 52.3,120.55 52.58,121.5 52.86,122.31 53.14,122.98 53.42,123.52 53.7,123.94 53.98,124.25 54.26,124.49 54.54,124.66 54.82,124.78 55.1,124.86 55.1,125" fill="#0a0aff"/><path d="M71.1 125H90.1" stroke="#e9a58c" stroke-width=".35"/><polygon points="75,125 75,124.86 75.28,124.78 75.56,124.66 75.84,124.49 76.12,124.25 76.4,123.94 76.68,123.52 76.96,122.98 77.24,122.31 77.52,121.5 77.8,120.55 78.08,119.46 78.36,118.27 78.64,117.01 78.92,115.73 79.2,114.49 79.48,113.34 79.76,112.37 80.04,111.63 80.32,111.16 80.6,111 80.88,111.16 81.16,111.63 81.44,112.37 81.72,113.34 82,114.49 82.28,115.73 82.56,117.01 82.84,118.27 83.12,119.46 83.4,120.55 83.68,121.5 83.96,122.31 84.24,122.98 84.52,123.52 84.8,123.94 85.08,124.25 85.36,124.49 85.64,124.66 85.92,124.78 86.2,124.86 86.2,125" fill="#0a0aff"/><path d="M144.3 125H163.3" stroke="#e9a58c" stroke-width=".35"/><polygon points="148.2,125 148.2,124.86 148.48,124.78 148.76,124.66 149.04,124.49 149.32,124.25 149.6,123.94 149.88,123.52 150.16,122.98 150.44,122.31 150.72,121.5 151,120.55 151.28,119.46 151.56,118.27 151.84,117.01 152.12,115.73 152.4,114.49 152.68,113.34 152.96,112.37 153.24,111.63 153.52,111.16 153.8,111 154.08,111.16 154.36,111.63 154.64,112.37 154.92,113.34 155.2,114.49 155.48,115.73 155.76,117.01 156.04,118.27 156.32,119.46 156.6,120.55 156.88,121.5 157.16,122.31 157.44,122.98 157.72,123.52 158,123.94 158.28,124.25 158.56,124.49 158.84,124.66 159.12,124.78 159.4,124.86 159.4,125" fill="#0a0aff"/><circle cx="101.5" cy="118" r=".9" fill="#1a1a1a"/><circle cx="112" cy="118" r=".9" fill="#1a1a1a"/><circle cx="122.5" cy="118" r=".9" fill="#1a1a1a"/><circle cx="133" cy="118" r=".9" fill="#1a1a1a"/><circle cx="33.8" cy="112.75" r="1.35" fill="#3fdc3f"/><circle cx="33.8" cy="123.25" r="1.35" fill="#3fdc3f"/><circle cx="65.2" cy="81.25" r="1.7" fill="#7878f8"/><circle cx="65.2" cy="91.75" r="1.7" fill="#7878f8"/><circle cx="65.2" cy="102.25" r="1.7" fill="#7878f8"/><circle cx="65.2" cy="112.75" r="1.7" fill="#7878f8"/><circle cx="65.2" cy="123.25" r="1.7" fill="#7878f8"/><circle cx="65.2" cy="133.75" r="1.7" fill="#7878f8"/><circle cx="65.2" cy="144.25" r="1.7" fill="#7878f8"/><circle cx="65.2" cy="154.75" r="1.7" fill="#7878f8"/><circle cx="96.3" cy="81.25" r="1.7" fill="#7878f8"/><circle cx="96.3" cy="91.75" r="1.7" fill="#7878f8"/><circle cx="96.3" cy="102.25" r="1.7" fill="#7878f8"/><circle cx="96.3" cy="112.75" r="1.7" fill="#7878f8"/><circle cx="96.3" cy="123.25" r="1.7" fill="#7878f8"/><circle cx="96.3" cy="133.75" r="1.7" fill="#7878f8"/><circle cx="96.3" cy="144.25" r="1.7" fill="#7878f8"/><circle cx="96.3" cy="154.75" r="1.7" fill="#7878f8"/><circle cx="138" cy="81.25" r="1.7" fill="#7878f8"/><circle cx="138" cy="91.75" r="1.7" fill="#7878f8"/><circle cx="138" cy="102.25" r="1.7" fill="#7878f8"/><circle cx="138" cy="112.75" r="1.7" fill="#7878f8"/><circle cx="138" cy="123.25" r="1.7" fill="#7878f8"/><circle cx="138" cy="133.75" r="1.7" fill="#7878f8"/><circle cx="138" cy="144.25" r="1.7" fill="#7878f8"/><circle cx="138" cy="154.75" r="1.7" fill="#7878f8"/><circle cx="169.5" cy="92" r="1.55" fill="#ec646b" stroke="#d9404a" stroke-width=".3"/><text x="169.5" y="92.8" font-size="2.3" text-anchor="middle" font-family='"Liberation Serif","DejaVu Serif",serif' fill="#7a1018" font-style="italic">u</text><circle cx="169.5" cy="102.5" r="1.55" fill="#ec646b" stroke="#d9404a" stroke-width=".3"/><text x="169.5" y="103.3" font-size="2.3" text-anchor="middle" font-family='"Liberation Serif","DejaVu Serif",serif' fill="#7a1018" font-style="italic">v</text><circle cx="169.5" cy="113" r="1.55" fill="#ec646b" stroke="#d9404a" stroke-width=".3"/><text x="169.5" y="113.8" font-size="2.3" text-anchor="middle" font-family='"Liberation Serif","DejaVu Serif",serif' fill="#7a1018" font-style="italic">p</text><circle cx="169.5" cy="123.5" r="2.75" fill="#ec646b" stroke="#d9404a" stroke-width=".3"/><text x="169.5" y="124.4" font-size="2.6" text-anchor="middle" font-family='"Liberation Serif","DejaVu Serif",serif' fill="#fff" font-style="italic">u'u'</text><circle cx="169.5" cy="134" r="2.75" fill="#ec646b" stroke="#d9404a" stroke-width=".3"/><text x="169.5" y="134.9" font-size="2.6" text-anchor="middle" font-family='"Liberation Serif","DejaVu Serif",serif' fill="#fff" font-style="italic">u'v'</text><circle cx="169.5" cy="144.5" r="2.75" fill="#ec646b" stroke="#d9404a" stroke-width=".3"/><text x="169.5" y="145.4" font-size="2.6" text-anchor="middle" font-family='"Liberation Serif","DejaVu Serif",serif' fill="#fff" font-style="italic">v'v'</text><circle cx="200.8" cy="97" r="1.55" fill="#e3b084" stroke="#c98d58" stroke-width=".45"/><text x="200.8" y="97.8" font-size="2.2" text-anchor="middle" font-family='"Liberation Serif","DejaVu Serif",serif' fill="#6b3f1a" >I</text><circle cx="200.8" cy="118" r="3.7" fill="#e3b084" stroke="#c98d58" stroke-width=".45"/><text x="200.8" y="117.5" font-size="2.9" text-anchor="middle" font-family='"Liberation Serif","DejaVu Serif",serif' fill="#5a3414" font-style="italic">∂</text><path d="M199.2 118h3.2" stroke="#5a3414" stroke-width=".25"/><text x="200.8" y="120.4" font-size="2.9" text-anchor="middle" font-family='"Liberation Serif","DejaVu Serif",serif' fill="#5a3414" font-style="italic">∂x</text><circle cx="200.8" cy="139" r="3.7" fill="#e3b084" stroke="#c98d58" stroke-width=".45"/><text x="200.8" y="138.5" font-size="2.9" text-anchor="middle" font-family='"Liberation Serif","DejaVu Serif",serif' fill="#5a3414" font-style="italic">∂</text><path d="M199.2 139h3.2" stroke="#5a3414" stroke-width=".25"/><text x="200.8" y="141.4" font-size="2.9" text-anchor="middle" font-family='"Liberation Serif","DejaVu Serif",serif' fill="#5a3414" font-style="italic">∂y</text><circle cx="232" cy="97" r="1.55" fill="#e3b084" stroke="#c98d58" stroke-width=".45"/><text x="232" y="97.8" font-size="2.2" text-anchor="middle" font-family='"Liberation Serif","DejaVu Serif",serif' fill="#6b3f1a" >I</text><circle cx="232" cy="118" r="3.7" fill="#e3b084" stroke="#c98d58" stroke-width=".45"/><text x="232" y="117.5" font-size="2.9" text-anchor="middle" font-family='"Liberation Serif","DejaVu Serif",serif' fill="#5a3414" font-style="italic">∂</text><path d="M230.4 118h3.2" stroke="#5a3414" stroke-width=".25"/><text x="232" y="120.4" font-size="2.9" text-anchor="middle" font-family='"Liberation Serif","DejaVu Serif",serif' fill="#5a3414" font-style="italic">∂x</text><circle cx="232" cy="139" r="3.7" fill="#e3b084" stroke="#c98d58" stroke-width=".45"/><text x="232" y="138.5" font-size="2.9" text-anchor="middle" font-family='"Liberation Serif","DejaVu Serif",serif' fill="#5a3414" font-style="italic">∂</text><path d="M230.4 139h3.2" stroke="#5a3414" stroke-width=".25"/><text x="232" y="141.4" font-size="2.9" text-anchor="middle" font-family='"Liberation Serif","DejaVu Serif",serif' fill="#5a3414" font-style="italic">∂y</text></g><g id="eq"><rect x="262.1" y="82.3" width="145.9" height="72.2" rx="2.2" fill="#e3e3fc" stroke="#d4d4f6" stroke-width=".5"/><text x="264.6" y="89.4" font-size="6.1" text-anchor="start" font-family='"Liberation Serif","DejaVu Serif",serif' fill="#2a2a2a" stroke="#2a2a2a" stroke-width="0.12" >ℛ = 0 :=</text><path d="M269.2 97.6c-1.5 .3-1.9 1.3-1.9 3v7.2c0 1.8-.7 2.8-2.1 3.3 1.4 .5 2.1 1.5 2.1 3.3v7.2c0 1.7 .4 2.7 1.9 3" fill="none" stroke="#2a2a2a" stroke-width=".7"/><text x="272" y="100.8" font-size="3.7" text-anchor="middle" font-family='"Liberation Serif","DejaVu Serif",serif' fill="#2a2a2a" stroke="#2a2a2a" stroke-width="0.12" font-style="italic">∂u</text><path d="M269.9 101.65h4.2" stroke="#2a2a2a" stroke-width=".3"/><text x="272" y="104.7" font-size="3.7" text-anchor="middle" font-family='"Liberation Serif","DejaVu Serif",serif' fill="#2a2a2a" stroke="#2a2a2a" stroke-width="0.12" font-style="italic">∂x</text><text x="278.5" y="103.6" font-size="6" text-anchor="middle" font-family='"Liberation Serif","DejaVu Serif",serif' fill="#2a2a2a" stroke="#2a2a2a" stroke-width="0.1" >+</text><text x="285.4" y="100.8" font-size="3.7" text-anchor="middle" font-family='"Liberation Serif","DejaVu Serif",serif' fill="#2a2a2a" stroke="#2a2a2a" stroke-width="0.12" font-style="italic">∂v</text><path d="M283.3 101.65h4.2" stroke="#2a2a2a" stroke-width=".3"/><text x="285.4" y="104.7" font-size="3.7" text-anchor="middle" font-family='"Liberation Serif","DejaVu Serif",serif' fill="#2a2a2a" stroke="#2a2a2a" stroke-width="0.12" font-style="italic">∂y</text><text x="291.9" y="103.6" font-size="6" text-anchor="middle" font-family='"Liberation Serif","DejaVu Serif",serif' fill="#2a2a2a" stroke="#2a2a2a" stroke-width="0.1" >=</text><text x="297.3" y="103.6" font-size="5.6" text-anchor="middle" font-family='"Liberation Serif","DejaVu Serif",serif' fill="#2a2a2a" stroke="#2a2a2a" stroke-width="0.1" >0</text><text x="270.7" y="112.3" font-size="4.2" text-anchor="middle" font-family='"Liberation Serif","DejaVu Serif",serif' fill="#2a2a2a" font-style="italic">u</text><text x="274.4" y="110.1" font-size="3.7" text-anchor="middle" font-family='"Liberation Serif","DejaVu Serif",serif' fill="#2a2a2a" stroke="#2a2a2a" stroke-width="0.12" font-style="italic">∂u</text><path d="M272.3 110.95h4.2" stroke="#2a2a2a" stroke-width=".3"/><text x="274.4" y="114" font-size="3.7" text-anchor="middle" font-family='"Liberation Serif","DejaVu Serif",serif' fill="#2a2a2a" stroke="#2a2a2a" stroke-width="0.12" font-style="italic">∂x</text><text x="282.1" y="112.9" font-size="6" text-anchor="middle" font-family='"Liberation Serif","DejaVu Serif",serif' fill="#2a2a2a" stroke="#2a2a2a" stroke-width="0.1" >+</text><text x="287.1" y="112.3" font-size="4.2" text-anchor="middle" font-family='"Liberation Serif","DejaVu Serif",serif' fill="#2a2a2a" font-style="italic">v</text><text x="290.8" y="110.1" font-size="3.7" text-anchor="middle" font-family='"Liberation Serif","DejaVu Serif",serif' fill="#2a2a2a" stroke="#2a2a2a" stroke-width="0.12" font-style="italic">∂u</text><path d="M288.7 110.95h4.2" stroke="#2a2a2a" stroke-width=".3"/><text x="290.8" y="114" font-size="3.7" text-anchor="middle" font-family='"Liberation Serif","DejaVu Serif",serif' fill="#2a2a2a" stroke="#2a2a2a" stroke-width="0.12" font-style="italic">∂y</text><text x="298.6" y="112.9" font-size="6" text-anchor="middle" font-family='"Liberation Serif","DejaVu Serif",serif' fill="#2a2a2a" stroke="#2a2a2a" stroke-width="0.1" >+</text><text x="304.5" y="110.1" font-size="3.7" text-anchor="middle" font-family='"Liberation Serif","DejaVu Serif",serif' fill="#2a2a2a" stroke="#2a2a2a" stroke-width="0.12" font-style="italic">∂p</text><path d="M302.4 110.95h4.2" stroke="#2a2a2a" stroke-width=".3"/><text x="304.5" y="114" font-size="3.7" text-anchor="middle" font-family='"Liberation Serif","DejaVu Serif",serif' fill="#2a2a2a" stroke="#2a2a2a" stroke-width="0.12" font-style="italic">∂x</text><text x="311.4" y="112.9" font-size="6" text-anchor="middle" font-family='"Liberation Serif","DejaVu Serif",serif' fill="#2a2a2a" stroke="#2a2a2a" stroke-width="0.1" >−</text><text x="317.9" y="110.1" font-size="3.7" text-anchor="middle" font-family='"Liberation Serif","DejaVu Serif",serif' fill="#2a2a2a" stroke="#2a2a2a" stroke-width="0.12" font-style="italic">1</text><path d="M315.7 110.95h4.4" stroke="#2a2a2a" stroke-width=".3"/><text x="317.9" y="114" font-size="3.7" text-anchor="middle" font-family='"Liberation Serif","DejaVu Serif",serif' fill="#2a2a2a" stroke="#2a2a2a" stroke-width="0.12" font-style="italic">Re</text><path d="M324.9 106.5q-2.4 4.7 0 9.4" fill="none" stroke="#2a2a2a" stroke-width=".55"/><text x="329.4" y="110.1" font-size="3.7" text-anchor="middle" font-family='"Liberation Serif","DejaVu Serif",serif' fill="#2a2a2a" stroke="#2a2a2a" stroke-width="0.12" font-style="italic">∂²u</text><path d="M326.9 110.95h5" stroke="#2a2a2a" stroke-width=".3"/><text x="329.4" y="114" font-size="3.7" text-anchor="middle" font-family='"Liberation Serif","DejaVu Serif",serif' fill="#2a2a2a" stroke="#2a2a2a" stroke-width="0.12" font-style="italic">∂x²</text><text x="338" y="112.9" font-size="6" text-anchor="middle" font-family='"Liberation Serif","DejaVu Serif",serif' fill="#2a2a2a" stroke="#2a2a2a" stroke-width="0.1" >+</text><text x="344.6" y="110.1" font-size="3.7" text-anchor="middle" font-family='"Liberation Serif","DejaVu Serif",serif' fill="#2a2a2a" stroke="#2a2a2a" stroke-width="0.12" font-style="italic">∂²u</text><path d="M342.1 110.95h5" stroke="#2a2a2a" stroke-width=".3"/><text x="344.6" y="114" font-size="3.7" text-anchor="middle" font-family='"Liberation Serif","DejaVu Serif",serif' fill="#2a2a2a" stroke="#2a2a2a" stroke-width="0.12" font-style="italic">∂y²</text><path d="M350.5 106.5q2.4 4.7 0 9.4" fill="none" stroke="#2a2a2a" stroke-width=".55"/><text x="356.8" y="112.9" font-size="6" text-anchor="middle" font-family='"Liberation Serif","DejaVu Serif",serif' fill="#2a2a2a" stroke="#2a2a2a" stroke-width="0.1" >+</text><text x="365.7" y="110.1" font-size="3.7" text-anchor="middle" font-family='"Liberation Serif","DejaVu Serif",serif' fill="#2a2a2a" stroke="#2a2a2a" stroke-width="0.12" font-style="italic">∂u′u′</text><path d="M360.6 110.95h10.2" stroke="#2a2a2a" stroke-width=".3"/><text x="365.7" y="114" font-size="3.7" text-anchor="middle" font-family='"Liberation Serif","DejaVu Serif",serif' fill="#2a2a2a" stroke="#2a2a2a" stroke-width="0.12" font-style="italic">∂x</text><text x="375.5" y="112.9" font-size="6" text-anchor="middle" font-family='"Liberation Serif","DejaVu Serif",serif' fill="#2a2a2a" stroke="#2a2a2a" stroke-width="0.1" >+</text><text x="385" y="110.1" font-size="3.7" text-anchor="middle" font-family='"Liberation Serif","DejaVu Serif",serif' fill="#2a2a2a" stroke="#2a2a2a" stroke-width="0.12" font-style="italic">∂u′v′</text><path d="M379.9 110.95h10.2" stroke="#2a2a2a" stroke-width=".3"/><text x="385" y="114" font-size="3.7" text-anchor="middle" font-family='"Liberation Serif","DejaVu Serif",serif' fill="#2a2a2a" stroke="#2a2a2a" stroke-width="0.12" font-style="italic">∂y</text><text x="394" y="112.9" font-size="6" text-anchor="middle" font-family='"Liberation Serif","DejaVu Serif",serif' fill="#2a2a2a" stroke="#2a2a2a" stroke-width="0.1" >=</text><text x="399.3" y="112.9" font-size="5.6" text-anchor="middle" font-family='"Liberation Serif","DejaVu Serif",serif' fill="#2a2a2a" stroke="#2a2a2a" stroke-width="0.1" >0</text><text x="270.7" y="121.6" font-size="4.2" text-anchor="middle" font-family='"Liberation Serif","DejaVu Serif",serif' fill="#2a2a2a" font-style="italic">u</text><text x="274.4" y="119.4" font-size="3.7" text-anchor="middle" font-family='"Liberation Serif","DejaVu Serif",serif' fill="#2a2a2a" stroke="#2a2a2a" stroke-width="0.12" font-style="italic">∂v</text><path d="M272.3 120.25h4.2" stroke="#2a2a2a" stroke-width=".3"/><text x="274.4" y="123.3" font-size="3.7" text-anchor="middle" font-family='"Liberation Serif","DejaVu Serif",serif' fill="#2a2a2a" stroke="#2a2a2a" stroke-width="0.12" font-style="italic">∂x</text><text x="282.1" y="122.2" font-size="6" text-anchor="middle" font-family='"Liberation Serif","DejaVu Serif",serif' fill="#2a2a2a" stroke="#2a2a2a" stroke-width="0.1" >+</text><text x="287.1" y="121.6" font-size="4.2" text-anchor="middle" font-family='"Liberation Serif","DejaVu Serif",serif' fill="#2a2a2a" font-style="italic">v</text><text x="290.8" y="119.4" font-size="3.7" text-anchor="middle" font-family='"Liberation Serif","DejaVu Serif",serif' fill="#2a2a2a" stroke="#2a2a2a" stroke-width="0.12" font-style="italic">∂v</text><path d="M288.7 120.25h4.2" stroke="#2a2a2a" stroke-width=".3"/><text x="290.8" y="123.3" font-size="3.7" text-anchor="middle" font-family='"Liberation Serif","DejaVu Serif",serif' fill="#2a2a2a" stroke="#2a2a2a" stroke-width="0.12" font-style="italic">∂y</text><text x="298.6" y="122.2" font-size="6" text-anchor="middle" font-family='"Liberation Serif","DejaVu Serif",serif' fill="#2a2a2a" stroke="#2a2a2a" stroke-width="0.1" >+</text><text x="304.5" y="119.4" font-size="3.7" text-anchor="middle" font-family='"Liberation Serif","DejaVu Serif",serif' fill="#2a2a2a" stroke="#2a2a2a" stroke-width="0.12" font-style="italic">∂p</text><path d="M302.4 120.25h4.2" stroke="#2a2a2a" stroke-width=".3"/><text x="304.5" y="123.3" font-size="3.7" text-anchor="middle" font-family='"Liberation Serif","DejaVu Serif",serif' fill="#2a2a2a" stroke="#2a2a2a" stroke-width="0.12" font-style="italic">∂y</text><text x="311.4" y="122.2" font-size="6" text-anchor="middle" font-family='"Liberation Serif","DejaVu Serif",serif' fill="#2a2a2a" stroke="#2a2a2a" stroke-width="0.1" >−</text><text x="317.9" y="119.4" font-size="3.7" text-anchor="middle" font-family='"Liberation Serif","DejaVu Serif",serif' fill="#2a2a2a" stroke="#2a2a2a" stroke-width="0.12" font-style="italic">1</text><path d="M315.7 120.25h4.4" stroke="#2a2a2a" stroke-width=".3"/><text x="317.9" y="123.3" font-size="3.7" text-anchor="middle" font-family='"Liberation Serif","DejaVu Serif",serif' fill="#2a2a2a" stroke="#2a2a2a" stroke-width="0.12" font-style="italic">Re</text><path d="M324.9 115.8q-2.4 4.7 0 9.4" fill="none" stroke="#2a2a2a" stroke-width=".55"/><text x="329.4" y="119.4" font-size="3.7" text-anchor="middle" font-family='"Liberation Serif","DejaVu Serif",serif' fill="#2a2a2a" stroke="#2a2a2a" stroke-width="0.12" font-style="italic">∂²v</text><path d="M326.9 120.25h5" stroke="#2a2a2a" stroke-width=".3"/><text x="329.4" y="123.3" font-size="3.7" text-anchor="middle" font-family='"Liberation Serif","DejaVu Serif",serif' fill="#2a2a2a" stroke="#2a2a2a" stroke-width="0.12" font-style="italic">∂x²</text><text x="338" y="122.2" font-size="6" text-anchor="middle" font-family='"Liberation Serif","DejaVu Serif",serif' fill="#2a2a2a" stroke="#2a2a2a" stroke-width="0.1" >+</text><text x="344.6" y="119.4" font-size="3.7" text-anchor="middle" font-family='"Liberation Serif","DejaVu Serif",serif' fill="#2a2a2a" stroke="#2a2a2a" stroke-width="0.12" font-style="italic">∂²v</text><path d="M342.1 120.25h5" stroke="#2a2a2a" stroke-width=".3"/><text x="344.6" y="123.3" font-size="3.7" text-anchor="middle" font-family='"Liberation Serif","DejaVu Serif",serif' fill="#2a2a2a" stroke="#2a2a2a" stroke-width="0.12" font-style="italic">∂y²</text><path d="M350.5 115.8q2.4 4.7 0 9.4" fill="none" stroke="#2a2a2a" stroke-width=".55"/><text x="356.8" y="122.2" font-size="6" text-anchor="middle" font-family='"Liberation Serif","DejaVu Serif",serif' fill="#2a2a2a" stroke="#2a2a2a" stroke-width="0.1" >+</text><text x="365.7" y="119.4" font-size="3.7" text-anchor="middle" font-family='"Liberation Serif","DejaVu Serif",serif' fill="#2a2a2a" stroke="#2a2a2a" stroke-width="0.12" font-style="italic">∂u′v′</text><path d="M360.6 120.25h10.2" stroke="#2a2a2a" stroke-width=".3"/><text x="365.7" y="123.3" font-size="3.7" text-anchor="middle" font-family='"Liberation Serif","DejaVu Serif",serif' fill="#2a2a2a" stroke="#2a2a2a" stroke-width="0.12" font-style="italic">∂x</text><text x="375.5" y="122.2" font-size="6" text-anchor="middle" font-family='"Liberation Serif","DejaVu Serif",serif' fill="#2a2a2a" stroke="#2a2a2a" stroke-width="0.1" >+</text><text x="385" y="119.4" font-size="3.7" text-anchor="middle" font-family='"Liberation Serif","DejaVu Serif",serif' fill="#2a2a2a" stroke="#2a2a2a" stroke-width="0.12" font-style="italic">∂v′v′</text><path d="M379.9 120.25h10.2" stroke="#2a2a2a" stroke-width=".3"/><text x="385" y="123.3" font-size="3.7" text-anchor="middle" font-family='"Liberation Serif","DejaVu Serif",serif' fill="#2a2a2a" stroke="#2a2a2a" stroke-width="0.12" font-style="italic">∂y</text><text x="394" y="122.2" font-size="6" text-anchor="middle" font-family='"Liberation Serif","DejaVu Serif",serif' fill="#2a2a2a" stroke="#2a2a2a" stroke-width="0.1" >=</text><text x="399.3" y="122.2" font-size="5.6" text-anchor="middle" font-family='"Liberation Serif","DejaVu Serif",serif' fill="#2a2a2a" stroke="#2a2a2a" stroke-width="0.1" >0</text><text x="264.8" y="136.9" font-size="6.2" font-family='"Liberation Serif","DejaVu Serif",serif' fill="#4a4a55"><tspan font-style="italic">ℒ</tspan>(<tspan font-style="italic">ϕ</tspan>) = ∥ℛ(<tspan font-weight="bold">u</tspan><tspan font-size="3.8" dy="1">ϕ</tspan><tspan dy="-1">, </tspan><tspan font-style="italic">P</tspan><tspan font-size="3.8" dy="1">ϕ</tspan><tspan dy="-1">, </tspan><tspan text-decoration="overline" font-weight="bold">u′u′</tspan><tspan font-size="3.8" dy="1">ϕ</tspan><tspan dy="-1">)∥ + ∥</tspan><tspan font-style="italic">D</tspan><tspan font-size="3.8" dy="1">ϕ</tspan><tspan dy="-1"> − </tspan><tspan font-style="italic">D</tspan><tspan font-size="3.8" dy="1">d</tspan><tspan dy="-1">∥</tspan></text><text x="264.8" y="150.0" font-size="6.05" font-family='"Liberation Serif","DejaVu Serif",serif' fill="#4a4a55"><tspan font-style="italic">ϕ</tspan><tspan font-size="3.4" dy="-2">∗</tspan><tspan dy="2"> = argmin</tspan><tspan font-size="3.4" dy="1" font-style="italic">ϕ</tspan><tspan dy="-1"> </tspan><tspan font-style="italic">ℒ</tspan>(<tspan font-style="italic">ϕ</tspan>)</text></g><g id="legend"><circle cx="33.8" cy="165" r="1.35" fill="#3fdc3f"/><text x="40" y="166.6" font-size="4.6" text-anchor="start" font-family='"Liberation Serif","DejaVu Serif",serif' fill="#444" >Input Layer</text><circle cx="106.8" cy="165" r="1.55" fill="#7b7bf8"/><text x="113" y="166.6" font-size="4.6" text-anchor="start" font-family='"Liberation Serif","DejaVu Serif",serif' fill="#444" >Hidden Layers</text><circle cx="169.5" cy="165" r="1.45" fill="#ea5a62"/><text x="175.3" y="166.6" font-size="4.6" text-anchor="start" font-family='"Liberation Serif","DejaVu Serif",serif' fill="#444" >Output Layer</text><circle cx="211.2" cy="165" r="1.45" fill="#e3ae80"/><text x="217" y="166.6" font-size="4.6" text-anchor="start" font-family='"Liberation Serif","DejaVu Serif",serif' fill="#444" >Automatic Differentiation</text><polygon points="282.6,168.2 284.3,161.6 286,168.2" fill="#0a0aff"/><text x="289" y="166.6" font-size="4.6" text-anchor="start" font-family='"Liberation Serif","DejaVu Serif",serif' fill="#444" >Probability Distribution</text></g><g id="heat2"><g clip-path="url(#clipb)"><rect x="41.3" y="175.2" width="112" height="1.9" fill="url(#b0)"/><rect x="41.3" y="176.2" width="112" height="1.9" fill="url(#b1)"/><rect x="41.3" y="177.2" width="112" height="1.9" fill="url(#b2)"/><rect x="41.3" y="178.2" width="112" height="1.9" fill="url(#b3)"/><rect x="41.3" y="179.2" width="112" height="1.9" fill="url(#b4)"/><rect x="41.3" y="180.2" width="112" height="1.9" fill="url(#b5)"/><rect x="41.3" y="181.2" width="112" height="1.9" fill="url(#b6)"/><rect x="41.3" y="182.2" width="112" height="1.9" fill="url(#b7)"/><rect x="41.3" y="183.2" width="112" height="1.9" fill="url(#b8)"/><rect x="41.3" y="184.2" width="112" height="1.9" fill="url(#b9)"/><rect x="41.3" y="185.2" width="112" height="1.9" fill="url(#b10)"/><rect x="41.3" y="186.2" width="112" height="1.9" fill="url(#b11)"/><rect x="41.3" y="187.2" width="112" height="1.9" fill="url(#b12)"/><rect x="41.3" y="188.2" width="112" height="1.9" fill="url(#b13)"/><rect x="41.3" y="189.2" width="112" height="1.9" fill="url(#b14)"/><rect x="41.3" y="190.2" width="112" height="1.9" fill="url(#b15)"/><rect x="41.3" y="191.2" width="112" height="1.9" fill="url(#b16)"/><rect x="41.3" y="192.2" width="112" height="1.9" fill="url(#b17)"/><rect x="41.3" y="193.2" width="112" height="1.9" fill="url(#b18)"/><rect x="41.3" y="194.2" width="112" height="1.9" fill="url(#b19)"/><rect x="41.3" y="195.2" width="112" height="1.9" fill="url(#b20)"/><rect x="41.3" y="196.2" width="112" height="1.9" fill="url(#b21)"/><rect x="41.3" y="197.2" width="112" height="1.9" fill="url(#b22)"/><rect x="41.3" y="198.2" width="112" height="1.9" fill="url(#b23)"/><rect x="41.3" y="199.2" width="112" height="1.9" fill="url(#b24)"/><rect x="41.3" y="200.2" width="112" height="1.9" fill="url(#b25)"/><rect x="41.3" y="201.2" width="112" height="1.9" fill="url(#b26)"/><rect x="41.3" y="202.2" width="112" height="1.9" fill="url(#b27)"/><rect x="41.3" y="203.2" width="112" height="1.9" fill="url(#b28)"/><rect x="41.3" y="204.2" width="112" height="1.9" fill="url(#b29)"/><rect x="41.3" y="205.2" width="112" height="1.9" fill="url(#b30)"/><rect x="41.3" y="206.2" width="112" height="1.9" fill="url(#b31)"/><rect x="41.3" y="207.2" width="112" height="1.9" fill="url(#b32)"/><rect x="41.3" y="208.2" width="112" height="1.9" fill="url(#b33)"/><rect x="41.3" y="209.2" width="112" height="1.9" fill="url(#b34)"/><rect x="41.3" y="210.2" width="112" height="1.9" fill="url(#b35)"/><rect x="41.3" y="211.2" width="112" height="1.9" fill="url(#b36)"/><rect x="41.3" y="212.2" width="112" height="1.9" fill="url(#b37)"/><rect x="41.3" y="213.2" width="112" height="1.9" fill="url(#b38)"/><rect x="41.3" y="214.2" width="112" height="1.9" fill="url(#b39)"/><rect x="41.3" y="215.2" width="112" height="1.9" fill="url(#b40)"/><rect x="41.3" y="216.2" width="112" height="1.9" fill="url(#b41)"/><rect x="41.3" y="217.2" width="112" height="1.9" fill="url(#b42)"/><rect x="41.3" y="218.2" width="112" height="1.9" fill="url(#b43)"/><rect x="41.3" y="219.2" width="112" height="1.9" fill="url(#b44)"/><rect x="41.3" y="220.2" width="112" height="1.9" fill="url(#b45)"/><rect x="41.3" y="221.2" width="112" height="1.9" fill="url(#b46)"/><rect x="41.3" y="222.2" width="112" height="1.9" fill="url(#b47)"/><rect x="41.3" y="223.2" width="112" height="1.9" fill="url(#b48)"/><rect x="41.3" y="224.2" width="112" height="1.9" fill="url(#b49)"/><rect x="41.3" y="225.2" width="112" height="1.9" fill="url(#b50)"/><rect x="41.3" y="226.2" width="112" height="1.9" fill="url(#b51)"/><rect x="41.3" y="227.2" width="112" height="1.9" fill="url(#b52)"/><rect x="41.3" y="228.2" width="112" height="1.9" fill="url(#b53)"/><rect x="41.3" y="229.2" width="112" height="1.9" fill="url(#b54)"/><rect x="41.3" y="230.2" width="112" height="1.9" fill="url(#b55)"/><rect x="41.3" y="231.2" width="112" height="1.9" fill="url(#b56)"/><rect x="41.3" y="232.2" width="112" height="1.9" fill="url(#b57)"/><rect x="41.3" y="233.2" width="112" height="1.9" fill="url(#b58)"/><rect x="41.3" y="234.2" width="112" height="1.9" fill="url(#b59)"/><rect x="41.3" y="235.2" width="112" height="1.9" fill="url(#b60)"/><rect x="41.3" y="236.2" width="112" height="1.9" fill="url(#b61)"/><rect x="41.3" y="237.2" width="112" height="1.9" fill="url(#b62)"/><rect x="41.3" y="238.2" width="112" height="1.9" fill="url(#b63)"/><rect x="41.3" y="239.2" width="112" height="1.9" fill="url(#b64)"/><rect x="41.3" y="240.2" width="112" height="1.9" fill="url(#b65)"/><rect x="41.3" y="241.2" width="112" height="1.9" fill="url(#b66)"/><rect x="41.3" y="242.2" width="112" height="1.9" fill="url(#b67)"/><rect x="41.3" y="243.2" width="112" height="1.9" fill="url(#b68)"/><rect x="41.3" y="244.2" width="112" height="1" fill="url(#b69)"/></g><rect x="67.3" y="206.1" width="9.8" height="8.4" fill="#fff" stroke="#111" stroke-width=".5"/><path d="M67.6 210.1h9.2" stroke="#444" stroke-width=".9"/><rect x="41.3" y="175.2" width="112" height="70" fill="none" stroke="#000" stroke-width=".45"/><path d="M51.9 245.2v1.8" stroke="#000" stroke-width=".4"/><text x="51.9" y="251.6" font-size="5.6" text-anchor="middle" font-family='"DejaVu Sans","Liberation Sans",sans-serif' fill="#000" stroke="#000" stroke-width="0.14" >−2</text><path d="M72.2 245.2v1.8" stroke="#000" stroke-width=".4"/><text x="72.2" y="251.6" font-size="5.6" text-anchor="middle" font-family='"DejaVu Sans","Liberation Sans",sans-serif' fill="#000" stroke="#000" stroke-width="0.14" >0</text><path d="M92.5 245.2v1.8" stroke="#000" stroke-width=".4"/><text x="92.5" y="251.6" font-size="5.6" text-anchor="middle" font-family='"DejaVu Sans","Liberation Sans",sans-serif' fill="#000" stroke="#000" stroke-width="0.14" >2</text><path d="M112.8 245.2v1.8" stroke="#000" stroke-width=".4"/><text x="112.8" y="251.6" font-size="5.6" text-anchor="middle" font-family='"DejaVu Sans","Liberation Sans",sans-serif' fill="#000" stroke="#000" stroke-width="0.14" >4</text><path d="M133.1 245.2v1.8" stroke="#000" stroke-width=".4"/><text x="133.1" y="251.6" font-size="5.6" text-anchor="middle" font-family='"DejaVu Sans","Liberation Sans",sans-serif' fill="#000" stroke="#000" stroke-width="0.14" >6</text><path d="M153.4 245.2v1.8" stroke="#000" stroke-width=".4"/><text x="153.4" y="251.6" font-size="5.6" text-anchor="middle" font-family='"DejaVu Sans","Liberation Sans",sans-serif' fill="#000" stroke="#000" stroke-width="0.14" >8</text><path d="M41.3 245.3h-1.8" stroke="#000" stroke-width=".4"/><text x="38.6" y="247.3" font-size="5.6" text-anchor="end" font-family='"DejaVu Sans","Liberation Sans",sans-serif' fill="#000" stroke="#000" stroke-width="0.14" >−4</text><path d="M41.3 227.8h-1.8" stroke="#000" stroke-width=".4"/><text x="38.6" y="229.8" font-size="5.6" text-anchor="end" font-family='"DejaVu Sans","Liberation Sans",sans-serif' fill="#000" stroke="#000" stroke-width="0.14" >−2</text><path d="M41.3 210.3h-1.8" stroke="#000" stroke-width=".4"/><text x="38.6" y="212.3" font-size="5.6" text-anchor="end" font-family='"DejaVu Sans","Liberation Sans",sans-serif' fill="#000" stroke="#000" stroke-width="0.14" >0</text><path d="M41.3 192.8h-1.8" stroke="#000" stroke-width=".4"/><text x="38.6" y="194.8" font-size="5.6" text-anchor="end" font-family='"DejaVu Sans","Liberation Sans",sans-serif' fill="#000" stroke="#000" stroke-width="0.14" >2</text><path d="M41.3 175.3h-1.8" stroke="#000" stroke-width=".4"/><text x="38.6" y="177.3" font-size="5.6" text-anchor="end" font-family='"DejaVu Sans","Liberation Sans",sans-serif' fill="#000" stroke="#000" stroke-width="0.14" >4</text></g><g><rect x="172" y="180.5" width="70" height="60.7" fill="#fff"/><path d="M174.3 180.5V241.2" stroke="#d4d4d4" stroke-width=".4"/><path d="M174.3 241.2v1.3" stroke="#000" stroke-width=".3"/><text x="174.3" y="245.7" font-size="2.95" text-anchor="middle" font-family='"DejaVu Sans","Liberation Sans",sans-serif' fill="#000" stroke="#000" stroke-width="0.15" >0.2</text><path d="M188.3 180.5V241.2" stroke="#d4d4d4" stroke-width=".4"/><path d="M188.3 241.2v1.3" stroke="#000" stroke-width=".3"/><text x="188.3" y="245.7" font-size="2.95" text-anchor="middle" font-family='"DejaVu Sans","Liberation Sans",sans-serif' fill="#000" stroke="#000" stroke-width="0.15" >0.4</text><path d="M202.3 180.5V241.2" stroke="#d4d4d4" stroke-width=".4"/><path d="M202.3 241.2v1.3" stroke="#000" stroke-width=".3"/><text x="202.3" y="245.7" font-size="2.95" text-anchor="middle" font-family='"DejaVu Sans","Liberation Sans",sans-serif' fill="#000" stroke="#000" stroke-width="0.15" >0.6</text><path d="M216.3 180.5V241.2" stroke="#d4d4d4" stroke-width=".4"/><path d="M216.3 241.2v1.3" stroke="#000" stroke-width=".3"/><text x="216.3" y="245.7" font-size="2.95" text-anchor="middle" font-family='"DejaVu Sans","Liberation Sans",sans-serif' fill="#000" stroke="#000" stroke-width="0.15" >0.8</text><path d="M230.3 180.5V241.2" stroke="#d4d4d4" stroke-width=".4"/><path d="M230.3 241.2v1.3" stroke="#000" stroke-width=".3"/><text x="230.3" y="245.7" font-size="2.95" text-anchor="middle" font-family='"DejaVu Sans","Liberation Sans",sans-serif' fill="#000" stroke="#000" stroke-width="0.15" >1.0</text><path d="M172 238.7H242" stroke="#d4d4d4" stroke-width=".4"/><path d="M172 238.7h-1.3" stroke="#000" stroke-width=".3"/><text x="169.7" y="239.8" font-size="2.95" text-anchor="end" font-family='"DejaVu Sans","Liberation Sans",sans-serif' fill="#000" stroke="#000" stroke-width="0.15" >0.00</text><path d="M172 231.75H242" stroke="#d4d4d4" stroke-width=".4"/><path d="M172 231.75h-1.3" stroke="#000" stroke-width=".3"/><text x="169.7" y="232.85" font-size="2.95" text-anchor="end" font-family='"DejaVu Sans","Liberation Sans",sans-serif' fill="#000" stroke="#000" stroke-width="0.15" >0.25</text><path d="M172 224.8H242" stroke="#d4d4d4" stroke-width=".4"/><path d="M172 224.8h-1.3" stroke="#000" stroke-width=".3"/><text x="169.7" y="225.9" font-size="2.95" text-anchor="end" font-family='"DejaVu Sans","Liberation Sans",sans-serif' fill="#000" stroke="#000" stroke-width="0.15" >0.50</text><path d="M172 217.85H242" stroke="#d4d4d4" stroke-width=".4"/><path d="M172 217.85h-1.3" stroke="#000" stroke-width=".3"/><text x="169.7" y="218.95" font-size="2.95" text-anchor="end" font-family='"DejaVu Sans","Liberation Sans",sans-serif' fill="#000" stroke="#000" stroke-width="0.15" >0.75</text><path d="M172 210.9H242" stroke="#d4d4d4" stroke-width=".4"/><path d="M172 210.9h-1.3" stroke="#000" stroke-width=".3"/><text x="169.7" y="212" font-size="2.95" text-anchor="end" font-family='"DejaVu Sans","Liberation Sans",sans-serif' fill="#000" stroke="#000" stroke-width="0.15" >1.00</text><path d="M172 203.95H242" stroke="#d4d4d4" stroke-width=".4"/><path d="M172 203.95h-1.3" stroke="#000" stroke-width=".3"/><text x="169.7" y="205.05" font-size="2.95" text-anchor="end" font-family='"DejaVu Sans","Liberation Sans",sans-serif' fill="#000" stroke="#000" stroke-width="0.15" >1.25</text><path d="M172 197H242" stroke="#d4d4d4" stroke-width=".4"/><path d="M172 197h-1.3" stroke="#000" stroke-width=".3"/><text x="169.7" y="198.1" font-size="2.95" text-anchor="end" font-family='"DejaVu Sans","Liberation Sans",sans-serif' fill="#000" stroke="#000" stroke-width="0.15" >1.50</text><path d="M172 190.05H242" stroke="#d4d4d4" stroke-width=".4"/><path d="M172 190.05h-1.3" stroke="#000" stroke-width=".3"/><text x="169.7" y="191.15" font-size="2.95" text-anchor="end" font-family='"DejaVu Sans","Liberation Sans",sans-serif' fill="#000" stroke="#000" stroke-width="0.15" >1.75</text><path d="M172 183.1H242" stroke="#d4d4d4" stroke-width=".4"/><path d="M172 183.1h-1.3" stroke="#000" stroke-width=".3"/><text x="169.7" y="184.2" font-size="2.95" text-anchor="end" font-family='"DejaVu Sans","Liberation Sans",sans-serif' fill="#000" stroke="#000" stroke-width="0.15" >2.00</text><polyline points="179.2,238.7 178.83,237.77 178.62,236.85 178.53,235.92 178.5,234.99 178.57,234.07 179.08,233.14 179.92,232.21 180.9,231.29 181.96,230.36 183.33,229.43 184.95,228.51 186.7,227.58 188.48,226.65 190.34,225.73 192.33,224.8 194.4,223.87 196.49,222.95 198.59,222.02 200.73,221.09 202.9,220.17 205.1,219.24 207.39,218.31 209.79,217.39 212.16,216.46 214.4,215.53 216.39,214.61 218.19,213.68 219.88,212.75 221.45,211.83 222.87,210.9 224.12,209.97 225.23,209.05 226.26,208.12 227.22,207.19 228.11,206.27 228.94,205.34 229.71,204.41 230.44,203.49 231.15,202.56 231.83,201.63 232.48,200.71 233.1,199.78 233.68,198.85 234.21,197.93 234.69,197 235.12,196.07 235.5,195.15 235.84,194.22 236.16,193.29 236.45,192.37 236.72,191.44 236.97,190.51 237.21,189.59 237.44,188.66 237.66,187.73 237.86,186.81 238.06,185.88 238.24,184.95 238.41,184.03 238.56,183.1" fill="none" stroke="#ff9f1c" stroke-width="0.7" stroke-linejoin="round" stroke-linecap="round"/><polyline points="179.9,238.7 181.04,237.77 182.13,236.85 183.12,235.92 184,234.99 184.76,234.07 185.47,233.14 186.18,232.21 186.97,231.29 187.89,230.36 188.95,229.43 190.12,228.51 191.39,227.58 192.73,226.65 194.13,225.73 195.56,224.8 197.04,223.87 198.6,222.95 200.24,222.02 201.97,221.09 203.78,220.17 205.69,219.24 207.85,218.31 210.18,217.39 212.54,216.46 214.74,215.53 216.66,214.61 218.39,213.68 220.01,212.75 221.52,211.83 222.9,210.9 224.11,209.97 225.22,209.05 226.25,208.12 227.21,207.19 228.1,206.27 228.93,205.34 229.71,204.41 230.44,203.49 231.15,202.56 231.83,201.63 232.48,200.71 233.1,199.78 233.68,198.85 234.21,197.93 234.69,197 235.12,196.07 235.5,195.15 235.84,194.22 236.15,193.29 236.43,192.37 236.7,191.44 236.95,190.51 237.2,189.59 237.45,188.66 237.68,187.73 237.91,186.81 238.12,185.88 238.33,184.95 238.52,184.03 238.7,183.1" fill="none" stroke="#1f77b4" stroke-width="0.82" stroke-linejoin="round" stroke-linecap="round"/><circle cx="179.9" cy="238.7" r=".9" fill="#1f77b4"/><circle cx="183.4" cy="235.64" r=".9" fill="#1f77b4"/><circle cx="187.6" cy="230.64" r=".9" fill="#1f77b4"/><circle cx="196" cy="224.52" r=".9" fill="#1f77b4"/><circle cx="205.1" cy="219.52" r=".9" fill="#1f77b4"/><circle cx="216.3" cy="214.79" r=".9" fill="#1f77b4"/><circle cx="224" cy="210.07" r=".9" fill="#1f77b4"/><circle cx="230.3" cy="203.67" r=".9" fill="#1f77b4"/><circle cx="235.2" cy="195.89" r=".9" fill="#1f77b4"/><circle cx="237.3" cy="189.22" r=".9" fill="#1f77b4"/><circle cx="238.7" cy="183.1" r=".9" fill="#1f77b4"/><polyline points="177.45,238.7 176.96,237.77 176.65,236.85 176.49,235.92 176.42,234.99 176.4,234.07 176.53,233.14 176.94,232.21 177.54,231.29 178.27,230.36 179.2,229.43 180.68,228.51 182.54,227.58 184.58,226.65 186.6,225.73 188.73,224.8 191.04,223.87 193.48,222.95 196,222.02 198.7,221.09 201.55,220.17 204.32,219.24 206.88,218.31 209.38,217.39 211.79,216.46 214.06,215.53 216.11,214.61 217.98,213.68 219.75,212.75 221.38,211.83 222.85,210.9 224.12,209.97 225.24,209.05 226.28,208.12 227.23,207.19 228.12,206.27 228.94,205.34 229.71,204.41 230.44,203.49 231.15,202.56 231.83,201.63 232.48,200.71 233.1,199.78 233.68,198.85 234.21,197.93 234.69,197 235.12,196.07 235.5,195.15 235.85,194.22 236.17,193.29 236.47,192.37 236.74,191.44 236.99,190.51 237.22,189.59 237.42,188.66 237.62,187.73 237.8,186.81 237.96,185.88 238.11,184.95 238.24,184.03 238.35,183.1" fill="none" stroke="#2ca02c" stroke-width="0.95" stroke-linejoin="round" stroke-linecap="round"/><rect x="172" y="180.5" width="70" height="60.7" fill="none" stroke="#000" stroke-width=".4"/><text x="207" y="178.9" font-size="3.6" text-anchor="middle" font-family='"DejaVu Sans","Liberation Sans",sans-serif' fill="#000" stroke="#000" stroke-width="0.06" >x/H = 1.75</text><text x="207" y="250.6" font-size="3.5" text-anchor="middle" font-family='"DejaVu Sans","Liberation Sans",sans-serif' fill="#222" stroke="#222" stroke-width="0.04" >U<tspan font-size="2.6" dy=".6">mean</tspan><tspan dy="-.6">/U</tspan><tspan font-size="2.6" dy=".6">ref</tspan></text><text x="0" y="0" font-size="3.1" text-anchor="middle" font-family='"DejaVu Sans","Liberation Sans",sans-serif' fill="#000" stroke="#000" stroke-width="0.06" transform="translate(160.7,211) rotate(-90)">y/H</text></g><rect x="160.1" y="174.9" width="4.3" height="1.3" rx=".3" fill="#7a0a0a"/><g><rect x="259" y="180.5" width="70.1" height="60.7" fill="#fff"/><path d="M278 180.5V241.2" stroke="#d4d4d4" stroke-width=".4"/><path d="M278 241.2v1.3" stroke="#000" stroke-width=".3"/><text x="278" y="245.7" font-size="2.95" text-anchor="middle" font-family='"DejaVu Sans","Liberation Sans",sans-serif' fill="#000" stroke="#000" stroke-width="0.15" >0.6</text><path d="M297.4 180.5V241.2" stroke="#d4d4d4" stroke-width=".4"/><path d="M297.4 241.2v1.3" stroke="#000" stroke-width=".3"/><text x="297.4" y="245.7" font-size="2.95" text-anchor="middle" font-family='"DejaVu Sans","Liberation Sans",sans-serif' fill="#000" stroke="#000" stroke-width="0.15" >0.8</text><path d="M316.8 180.5V241.2" stroke="#d4d4d4" stroke-width=".4"/><path d="M316.8 241.2v1.3" stroke="#000" stroke-width=".3"/><text x="316.8" y="245.7" font-size="2.95" text-anchor="middle" font-family='"DejaVu Sans","Liberation Sans",sans-serif' fill="#000" stroke="#000" stroke-width="0.15" >1.0</text><path d="M259 238.7H329.1" stroke="#d4d4d4" stroke-width=".4"/><path d="M259 238.7h-1.3" stroke="#000" stroke-width=".3"/><text x="256.7" y="239.8" font-size="2.95" text-anchor="end" font-family='"DejaVu Sans","Liberation Sans",sans-serif' fill="#000" stroke="#000" stroke-width="0.15" >0.00</text><path d="M259 231.75H329.1" stroke="#d4d4d4" stroke-width=".4"/><path d="M259 231.75h-1.3" stroke="#000" stroke-width=".3"/><text x="256.7" y="232.85" font-size="2.95" text-anchor="end" font-family='"DejaVu Sans","Liberation Sans",sans-serif' fill="#000" stroke="#000" stroke-width="0.15" >0.25</text><path d="M259 224.8H329.1" stroke="#d4d4d4" stroke-width=".4"/><path d="M259 224.8h-1.3" stroke="#000" stroke-width=".3"/><text x="256.7" y="225.9" font-size="2.95" text-anchor="end" font-family='"DejaVu Sans","Liberation Sans",sans-serif' fill="#000" stroke="#000" stroke-width="0.15" >0.50</text><path d="M259 217.85H329.1" stroke="#d4d4d4" stroke-width=".4"/><path d="M259 217.85h-1.3" stroke="#000" stroke-width=".3"/><text x="256.7" y="218.95" font-size="2.95" text-anchor="end" font-family='"DejaVu Sans","Liberation Sans",sans-serif' fill="#000" stroke="#000" stroke-width="0.15" >0.75</text><path d="M259 210.9H329.1" stroke="#d4d4d4" stroke-width=".4"/><path d="M259 210.9h-1.3" stroke="#000" stroke-width=".3"/><text x="256.7" y="212" font-size="2.95" text-anchor="end" font-family='"DejaVu Sans","Liberation Sans",sans-serif' fill="#000" stroke="#000" stroke-width="0.15" >1.00</text><path d="M259 203.95H329.1" stroke="#d4d4d4" stroke-width=".4"/><path d="M259 203.95h-1.3" stroke="#000" stroke-width=".3"/><text x="256.7" y="205.05" font-size="2.95" text-anchor="end" font-family='"DejaVu Sans","Liberation Sans",sans-serif' fill="#000" stroke="#000" stroke-width="0.15" >1.25</text><path d="M259 197H329.1" stroke="#d4d4d4" stroke-width=".4"/><path d="M259 197h-1.3" stroke="#000" stroke-width=".3"/><text x="256.7" y="198.1" font-size="2.95" text-anchor="end" font-family='"DejaVu Sans","Liberation Sans",sans-serif' fill="#000" stroke="#000" stroke-width="0.15" >1.50</text><path d="M259 190.05H329.1" stroke="#d4d4d4" stroke-width=".4"/><path d="M259 190.05h-1.3" stroke="#000" stroke-width=".3"/><text x="256.7" y="191.15" font-size="2.95" text-anchor="end" font-family='"DejaVu Sans","Liberation Sans",sans-serif' fill="#000" stroke="#000" stroke-width="0.15" >1.75</text><path d="M259 183.1H329.1" stroke="#d4d4d4" stroke-width=".4"/><path d="M259 183.1h-1.3" stroke="#000" stroke-width=".3"/><text x="256.7" y="184.2" font-size="2.95" text-anchor="end" font-family='"DejaVu Sans","Liberation Sans",sans-serif' fill="#000" stroke="#000" stroke-width="0.15" >2.00</text><polyline points="262.48,238.7 262.7,237.77 263.01,236.85 263.41,235.92 263.87,234.99 264.37,234.07 264.94,233.14 265.64,232.21 266.46,231.29 267.39,230.36 268.41,229.43 269.65,228.51 271.13,227.58 272.76,226.65 274.44,225.73 276.06,224.8 277.6,223.87 279.12,222.95 280.65,222.02 282.23,221.09 283.87,220.17 285.62,219.24 287.52,218.31 289.74,217.39 292.16,216.46 294.63,215.53 296.98,214.61 299.06,213.68 300.85,212.75 302.52,211.83 304.1,210.9 305.58,209.97 306.97,209.05 308.29,208.12 309.53,207.19 310.71,206.27 311.85,205.34 312.93,204.41 313.95,203.49 314.93,202.56 315.85,201.63 316.72,200.71 317.54,199.78 318.34,198.85 319.1,197.93 319.82,197 320.49,196.07 321.1,195.15 321.65,194.22 322.15,193.29 322.61,192.37 323.04,191.44 323.43,190.51 323.77,189.59 324.07,188.66 324.34,187.73 324.6,186.81 324.83,185.88 325.03,184.95 325.2,184.03 325.34,183.1" fill="none" stroke="#ff9f1c" stroke-width="0.7" stroke-linejoin="round" stroke-linecap="round"/><polyline points="262.09,238.7 262.3,237.77 262.61,236.85 262.98,235.92 263.41,234.99 263.89,234.07 264.42,233.14 265.06,232.21 265.81,231.29 266.66,230.36 267.61,229.43 268.76,228.51 270.21,227.58 271.87,226.65 273.6,225.73 275.29,224.8 276.85,223.87 278.34,222.95 279.81,222.02 281.3,221.09 282.85,220.17 284.52,219.24 286.34,218.31 288.47,217.39 291.02,216.46 293.75,215.53 296.4,214.61 298.74,213.68 300.64,212.75 302.39,211.83 304.02,210.9 305.54,209.97 306.95,209.05 308.28,208.12 309.53,207.19 310.73,206.27 311.86,205.34 312.94,204.41 313.96,203.49 314.93,202.56 315.85,201.63 316.72,200.71 317.54,199.78 318.34,198.85 319.1,197.93 319.82,197 320.49,196.07 321.1,195.15 321.65,194.22 322.14,193.29 322.6,192.37 323.02,191.44 323.4,190.51 323.76,189.59 324.07,188.66 324.37,187.73 324.65,186.81 324.91,185.88 325.14,184.95 325.35,184.03 325.53,183.1" fill="none" stroke="#1f77b4" stroke-width="0.82" stroke-linejoin="round" stroke-linecap="round"/><circle cx="262.09" cy="238.7" r=".9" fill="#1f77b4"/><circle cx="263.94" cy="233.97" r=".9" fill="#1f77b4"/><circle cx="267.81" cy="229.25" r=".9" fill="#1f77b4"/><circle cx="275.77" cy="224.52" r=".9" fill="#1f77b4"/><circle cx="286.73" cy="218.13" r=".9" fill="#1f77b4"/><circle cx="299.34" cy="213.4" r=".9" fill="#1f77b4"/><circle cx="309.04" cy="207.56" r=".9" fill="#1f77b4"/><circle cx="316.8" cy="200.61" r=".9" fill="#1f77b4"/><circle cx="321.65" cy="194.22" r=".9" fill="#1f77b4"/><circle cx="324.07" cy="188.66" r=".9" fill="#1f77b4"/><circle cx="325.53" cy="183.1" r=".9" fill="#1f77b4"/><polyline points="262.48,238.7 262.7,237.77 263.01,236.85 263.41,235.92 263.87,234.99 264.37,234.07 264.94,233.14 265.64,232.21 266.46,231.29 267.39,230.36 268.41,229.43 269.65,228.51 271.13,227.58 272.76,226.65 274.44,225.73 276.06,224.8 277.6,223.87 279.12,222.95 280.65,222.02 282.23,221.09 283.87,220.17 285.62,219.24 287.52,218.31 289.74,217.39 292.16,216.46 294.63,215.53 296.98,214.61 299.06,213.68 300.85,212.75 302.52,211.83 304.1,210.9 305.58,209.97 306.97,209.05 308.29,208.12 309.53,207.19 310.71,206.27 311.85,205.34 312.93,204.41 313.95,203.49 314.93,202.56 315.85,201.63 316.72,200.71 317.54,199.78 318.34,198.85 319.1,197.93 319.82,197 320.49,196.07 321.1,195.15 321.65,194.22 322.15,193.29 322.61,192.37 323.04,191.44 323.43,190.51 323.77,189.59 324.07,188.66 324.34,187.73 324.6,186.81 324.83,185.88 325.03,184.95 325.2,184.03 325.34,183.1" fill="none" stroke="#2ca02c" stroke-width="0.95" stroke-linejoin="round" stroke-linecap="round"/><rect x="259" y="180.5" width="70.1" height="60.7" fill="none" stroke="#000" stroke-width=".4"/><text x="294.05" y="178.9" font-size="3.6" text-anchor="middle" font-family='"DejaVu Sans","Liberation Sans",sans-serif' fill="#000" stroke="#000" stroke-width="0.06" >x/H = 2.25</text><text x="294.05" y="250.6" font-size="3.5" text-anchor="middle" font-family='"DejaVu Sans","Liberation Sans",sans-serif' fill="#222" stroke="#222" stroke-width="0.04" >U<tspan font-size="2.6" dy=".6">mean</tspan><tspan dy="-.6">/U</tspan><tspan font-size="2.6" dy=".6">ref</tspan></text><text x="0" y="0" font-size="3.1" text-anchor="middle" font-family='"DejaVu Sans","Liberation Sans",sans-serif' fill="#000" stroke="#000" stroke-width="0.06" transform="translate(247.7,211) rotate(-90)">y/H</text></g><g><rect x="344.9" y="180.5" width="69.5" height="60.7" fill="#fff"/><path d="M356.6 180.5V241.2" stroke="#d4d4d4" stroke-width=".4"/><path d="M356.6 241.2v1.3" stroke="#000" stroke-width=".3"/><text x="356.6" y="245.7" font-size="2.95" text-anchor="middle" font-family='"DejaVu Sans","Liberation Sans",sans-serif' fill="#000" stroke="#000" stroke-width="0.15" >0.6</text><path d="M369.3 180.5V241.2" stroke="#d4d4d4" stroke-width=".4"/><path d="M369.3 241.2v1.3" stroke="#000" stroke-width=".3"/><text x="369.3" y="245.7" font-size="2.95" text-anchor="middle" font-family='"DejaVu Sans","Liberation Sans",sans-serif' fill="#000" stroke="#000" stroke-width="0.15" >0.7</text><path d="M382 180.5V241.2" stroke="#d4d4d4" stroke-width=".4"/><path d="M382 241.2v1.3" stroke="#000" stroke-width=".3"/><text x="382" y="245.7" font-size="2.95" text-anchor="middle" font-family='"DejaVu Sans","Liberation Sans",sans-serif' fill="#000" stroke="#000" stroke-width="0.15" >0.8</text><path d="M394.7 180.5V241.2" stroke="#d4d4d4" stroke-width=".4"/><path d="M394.7 241.2v1.3" stroke="#000" stroke-width=".3"/><text x="394.7" y="245.7" font-size="2.95" text-anchor="middle" font-family='"DejaVu Sans","Liberation Sans",sans-serif' fill="#000" stroke="#000" stroke-width="0.15" >0.9</text><path d="M407.4 180.5V241.2" stroke="#d4d4d4" stroke-width=".4"/><path d="M407.4 241.2v1.3" stroke="#000" stroke-width=".3"/><text x="407.4" y="245.7" font-size="2.95" text-anchor="middle" font-family='"DejaVu Sans","Liberation Sans",sans-serif' fill="#000" stroke="#000" stroke-width="0.15" >1.0</text><path d="M344.9 238.7H414.4" stroke="#d4d4d4" stroke-width=".4"/><path d="M344.9 238.7h-1.3" stroke="#000" stroke-width=".3"/><text x="342.6" y="239.8" font-size="2.95" text-anchor="end" font-family='"DejaVu Sans","Liberation Sans",sans-serif' fill="#000" stroke="#000" stroke-width="0.15" >0.00</text><path d="M344.9 231.75H414.4" stroke="#d4d4d4" stroke-width=".4"/><path d="M344.9 231.75h-1.3" stroke="#000" stroke-width=".3"/><text x="342.6" y="232.85" font-size="2.95" text-anchor="end" font-family='"DejaVu Sans","Liberation Sans",sans-serif' fill="#000" stroke="#000" stroke-width="0.15" >0.25</text><path d="M344.9 224.8H414.4" stroke="#d4d4d4" stroke-width=".4"/><path d="M344.9 224.8h-1.3" stroke="#000" stroke-width=".3"/><text x="342.6" y="225.9" font-size="2.95" text-anchor="end" font-family='"DejaVu Sans","Liberation Sans",sans-serif' fill="#000" stroke="#000" stroke-width="0.15" >0.50</text><path d="M344.9 217.85H414.4" stroke="#d4d4d4" stroke-width=".4"/><path d="M344.9 217.85h-1.3" stroke="#000" stroke-width=".3"/><text x="342.6" y="218.95" font-size="2.95" text-anchor="end" font-family='"DejaVu Sans","Liberation Sans",sans-serif' fill="#000" stroke="#000" stroke-width="0.15" >0.75</text><path d="M344.9 210.9H414.4" stroke="#d4d4d4" stroke-width=".4"/><path d="M344.9 210.9h-1.3" stroke="#000" stroke-width=".3"/><text x="342.6" y="212" font-size="2.95" text-anchor="end" font-family='"DejaVu Sans","Liberation Sans",sans-serif' fill="#000" stroke="#000" stroke-width="0.15" >1.00</text><path d="M344.9 203.95H414.4" stroke="#d4d4d4" stroke-width=".4"/><path d="M344.9 203.95h-1.3" stroke="#000" stroke-width=".3"/><text x="342.6" y="205.05" font-size="2.95" text-anchor="end" font-family='"DejaVu Sans","Liberation Sans",sans-serif' fill="#000" stroke="#000" stroke-width="0.15" >1.25</text><path d="M344.9 197H414.4" stroke="#d4d4d4" stroke-width=".4"/><path d="M344.9 197h-1.3" stroke="#000" stroke-width=".3"/><text x="342.6" y="198.1" font-size="2.95" text-anchor="end" font-family='"DejaVu Sans","Liberation Sans",sans-serif' fill="#000" stroke="#000" stroke-width="0.15" >1.50</text><path d="M344.9 190.05H414.4" stroke="#d4d4d4" stroke-width=".4"/><path d="M344.9 190.05h-1.3" stroke="#000" stroke-width=".3"/><text x="342.6" y="191.15" font-size="2.95" text-anchor="end" font-family='"DejaVu Sans","Liberation Sans",sans-serif' fill="#000" stroke="#000" stroke-width="0.15" >1.75</text><path d="M344.9 183.1H414.4" stroke="#d4d4d4" stroke-width=".4"/><path d="M344.9 183.1h-1.3" stroke="#000" stroke-width=".3"/><text x="342.6" y="184.2" font-size="2.95" text-anchor="end" font-family='"DejaVu Sans","Liberation Sans",sans-serif' fill="#000" stroke="#000" stroke-width="0.15" >2.00</text><polyline points="348.98,238.7 349.4,237.77 349.91,236.85 350.51,235.92 351.17,234.99 351.9,234.07 352.69,233.14 353.51,232.21 354.44,231.29 355.5,230.36 356.67,229.43 357.93,228.51 359.25,227.58 360.59,226.65 361.95,225.73 363.4,224.8 364.94,223.87 366.55,222.95 368.18,222.02 369.81,221.09 371.4,220.17 372.93,219.24 374.43,218.31 375.93,217.39 377.42,216.46 378.9,215.53 380.36,214.61 381.78,213.68 383.17,212.75 384.52,211.83 385.81,210.9 387.06,209.97 388.29,209.05 389.49,208.12 390.66,207.19 391.78,206.27 392.87,205.34 393.91,204.41 394.89,203.49 395.84,202.56 396.75,201.63 397.63,200.71 398.47,199.78 399.28,198.85 400.07,197.93 400.83,197 401.55,196.07 402.24,195.15 402.89,194.22 403.53,193.29 404.15,192.37 404.77,191.44 405.41,190.51 406.06,189.59 406.74,188.66 407.43,187.73 408.12,186.81 408.82,185.88 409.52,184.95 410.24,184.03 410.96,183.1" fill="none" stroke="#ff9f1c" stroke-width="0.7" stroke-linejoin="round" stroke-linecap="round"/><polyline points="347.71,238.7 347.92,237.77 348.23,236.85 348.64,235.92 349.12,234.99 349.66,234.07 350.25,233.14 350.88,232.21 351.55,231.29 352.36,230.36 353.32,229.43 354.39,228.51 355.55,227.58 356.79,226.65 358.07,225.73 359.38,224.8 360.72,223.87 362.17,222.95 363.72,222.02 365.35,221.09 367.03,220.17 368.77,219.24 370.53,218.31 372.3,217.39 374.15,216.46 376.17,215.53 378.27,214.61 380.36,213.68 382.37,212.75 384.22,211.83 385.81,210.9 387.2,209.97 388.49,209.05 389.69,208.12 390.82,207.19 391.9,206.27 392.92,205.34 393.92,204.41 394.89,203.49 395.84,202.56 396.75,201.63 397.63,200.71 398.47,199.78 399.28,198.85 400.07,197.93 400.83,197 401.55,196.07 402.23,195.15 402.88,194.22 403.51,193.29 404.13,192.37 404.75,191.44 405.39,190.51 406.06,189.59 406.76,188.66 407.47,187.73 408.19,186.81 408.93,185.88 409.68,184.95 410.44,184.03 411.21,183.1" fill="none" stroke="#1f77b4" stroke-width="0.82" stroke-linejoin="round" stroke-linecap="round"/><circle cx="347.71" cy="238.7" r=".9" fill="#1f77b4"/><circle cx="351.2" cy="231.75" r=".9" fill="#1f77b4"/><circle cx="359.78" cy="224.52" r=".9" fill="#1f77b4"/><circle cx="372.48" cy="217.29" r=".9" fill="#1f77b4"/><circle cx="385.81" cy="210.9" r=".9" fill="#1f77b4"/><circle cx="394.7" cy="203.67" r=".9" fill="#1f77b4"/><circle cx="401.05" cy="196.72" r=".9" fill="#1f77b4"/><circle cx="406.13" cy="189.49" r=".9" fill="#1f77b4"/><circle cx="411.21" cy="183.1" r=".9" fill="#1f77b4"/><polyline points="348.98,238.7 349.4,237.77 349.91,236.85 350.51,235.92 351.17,234.99 351.9,234.07 352.69,233.14 353.51,232.21 354.44,231.29 355.5,230.36 356.67,229.43 357.93,228.51 359.25,227.58 360.59,226.65 361.95,225.73 363.4,224.8 364.94,223.87 366.55,222.95 368.18,222.02 369.81,221.09 371.4,220.17 372.93,219.24 374.43,218.31 375.93,217.39 377.42,216.46 378.9,215.53 380.36,214.61 381.78,213.68 383.17,212.75 384.52,211.83 385.81,210.9 387.06,209.97 388.29,209.05 389.49,208.12 390.66,207.19 391.78,206.27 392.87,205.34 393.91,204.41 394.89,203.49 395.84,202.56 396.75,201.63 397.63,200.71 398.47,199.78 399.28,198.85 400.07,197.93 400.83,197 401.55,196.07 402.24,195.15 402.89,194.22 403.53,193.29 404.15,192.37 404.77,191.44 405.41,190.51 406.06,189.59 406.74,188.66 407.43,187.73 408.12,186.81 408.82,185.88 409.52,184.95 410.24,184.03 410.96,183.1" fill="none" stroke="#2ca02c" stroke-width="0.95" stroke-linejoin="round" stroke-linecap="round"/><rect x="344.9" y="180.5" width="69.5" height="60.7" fill="none" stroke="#000" stroke-width=".4"/><text x="379.65" y="178.9" font-size="3.6" text-anchor="middle" font-family='"DejaVu Sans","Liberation Sans",sans-serif' fill="#000" stroke="#000" stroke-width="0.06" >x/H = 3.25</text><text x="379.65" y="250.6" font-size="3.5" text-anchor="middle" font-family='"DejaVu Sans","Liberation Sans",sans-serif' fill="#222" stroke="#222" stroke-width="0.04" >U<tspan font-size="2.6" dy=".6">mean</tspan><tspan dy="-.6">/U</tspan><tspan font-size="2.6" dy=".6">ref</tspan></text><text x="0" y="0" font-size="3.1" text-anchor="middle" font-family='"DejaVu Sans","Liberation Sans",sans-serif' fill="#000" stroke="#000" stroke-width="0.06" transform="translate(333.6,211) rotate(-90)">y/H</text></g></svg></body></html>
